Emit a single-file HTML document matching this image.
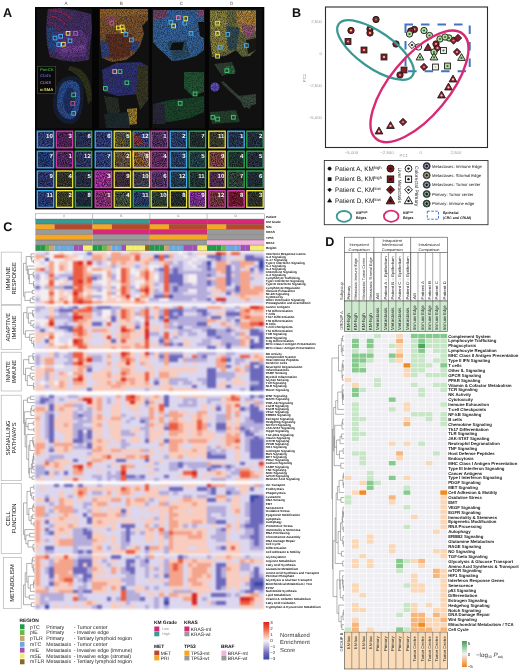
<!DOCTYPE html><html><head><meta charset="utf-8"><style>
*{margin:0;padding:0}
html,body{width:520px;height:671px;overflow:hidden;background:#fff}
body{position:relative}
.hr{position:absolute;left:35.4px;width:228.9px}
#hm{position:absolute;left:0;top:0;width:520px;height:671px;filter:blur(0.8px)}
svg{display:block;font-family:'Liberation Sans',Arial,sans-serif;text-rendering:geometricPrecision}
.big{font-size:12.6px;font-weight:bold;fill:#111}
.hdr{font-size:4.6px;fill:#555;text-anchor:middle}
.legA{font-size:4.2px;font-weight:bold}
.tn{font-size:6px;font-weight:bold;fill:#f4f4f4;text-anchor:end}
.tick{font-size:4.3px;fill:#999}
.legB{font-size:6.4px;fill:#111}
.sup{font-size:4.2px}
.sup2{font-size:2.8px}
.legS{font-size:4.9px;fill:#222}
.legR{font-size:4.2px;fill:#111}
.legT{font-size:3.5px;fill:#111;font-weight:bold}
.tiny{font-size:3.2px}
.alab{font-size:3.1px;fill:#111;font-weight:bold}
.hlab text{font-size:3.05px;fill:#111;font-weight:bold}
.dg{fill:none;stroke:#707070;stroke-width:0.55}
.dg2{fill:none;stroke:#666;stroke-width:0.5}
.box{font-size:5.8px;fill:#111}
.legH{font-size:4.9px;font-weight:bold;fill:#111}
.legC{font-size:5.2px;fill:#1a1a1a}
.legC2{font-size:4.9px;fill:#1a1a1a}
.legL{font-size:3.6px;fill:#888}
.cbl{font-size:4.4px;fill:#222}
.cbt{font-size:5.9px;fill:#333}
.cbt2{font-size:6.2px;fill:#333}
.dh{font-size:3.9px;fill:#222}
.dsub{font-size:3.9px;fill:#222}
.dsub2{font-size:4.1px;fill:#333}
.dga{font-size:4.4px;fill:#222}
.dgb{font-size:4.1px;fill:#222}
.dlab text{font-size:4.3px;font-weight:bold;fill:#1a1a1a}
</style></head><body><svg width="520" height="671" viewBox="0 0 520 671"><defs>
<linearGradient id="gC" x1="0" y1="0" x2="0" y2="1"><stop offset="0" stop-color="#dc2020"/><stop offset=".167" stop-color="#ee5a40"/><stop offset=".333" stop-color="#f4a890"/><stop offset=".5" stop-color="#f6f2f4"/><stop offset=".667" stop-color="#b8b0d8"/><stop offset=".833" stop-color="#6a68b8"/><stop offset="1" stop-color="#3848a8"/></linearGradient>
<linearGradient id="gD" x1="0" y1="0" x2="0" y2="1"><stop offset="0" stop-color="#3aa050"/><stop offset=".5" stop-color="#f2f2f2"/><stop offset="1" stop-color="#f08018"/></linearGradient>
<filter id="tex" x="0" y="0" width="1" height="1"><feTurbulence type="fractalNoise" baseFrequency="1.2" numOctaves="2" seed="4" result="n"/><feColorMatrix in="n" type="matrix" values="0 0 0 0 0  0 0 0 0 0  0 0 0 0 0  0 0 0 -1.3 1.4" result="m"/><feComposite in="SourceGraphic" in2="m" operator="in"/><feGaussianBlur stdDeviation="0.5"/></filter>
<filter id="tex2" x="0" y="0" width="1" height="1"><feTurbulence type="fractalNoise" baseFrequency="1.1" numOctaves="2" seed="9" result="n"/><feColorMatrix in="n" type="matrix" values="0 0 0 0 0  0 0 0 0 0  0 0 0 0 0  0 0 0 -1.5 1.35" result="m"/><feComposite in="SourceGraphic" in2="m" operator="in"/><feGaussianBlur stdDeviation="0.5"/></filter>
</defs><text x="3.1" y="16.9" class="big">A</text>
<text x="66" y="5" class="hdr">A</text>
<text x="121.2" y="5" class="hdr">B</text>
<text x="181.5" y="5" class="hdr">C</text>
<text x="231.6" y="5" class="hdr">D</text>
<rect x="35" y="7" width="229.3" height="202.4" fill="#050505"/>
<rect x="37" y="8.5" width="55" height="120" fill="#111"/>
<rect x="99" y="8.5" width="50" height="120" fill="#111"/>
<rect x="152" y="8.5" width="53" height="120" fill="#111"/>
<rect x="209" y="8.5" width="53" height="120" fill="#111"/>
<g filter="url(#tex)">
<path d="M48 9 L60 8 L75 10 L91 14 L92 30 L90 48 L89 60 L75 62 L60 60 L50 57 L47 45 L46 30 L47 15 Z" fill="#48306e"/>
<path d="M56 32 L82 30 L88 40 L86 56 L62 58 L54 50 Z" fill="#62388c"/>
<path d="M47 28 L55 26 L58 40 L54 52 L48 48 Z" fill="#2c4a8c"/>
<path d="M50 11 Q62 9 72 20" stroke="#b02440" stroke-width="1.6" fill="none"/>
<path d="M49 17 Q58 15 66 25" stroke="#a02a44" stroke-width="1.4" fill="none"/>
<path d="M48 23 Q54 22 60 30" stroke="#902a48" stroke-width="1.2" fill="none"/>
<path d="M60 47 L84 45 L86 50 L62 53 Z" fill="#7a44a0"/>
<path d="M70 66 C84 68 92 78 92 100 L88 104 C86 86 80 74 68 70 Z" fill="#34341c"/>
<path d="M62 79 C70 73 81 75 83 86 C85 100 83 116 75 123 C64 127 53 118 53 104 C53 92 56 84 62 79 Z" fill="#16203c"/>
<path d="M64 82 C72 78 79 81 80 90 C81 102 79 114 73 119 C65 121 57 114 57 104 C57 94 59 86 64 82 Z" fill="#2c52a0"/>
<path d="M67 88 C72 86 75 90 75 98 C75 106 73 112 69 114 C65 113 63 106 63 98 Z" fill="#1e3470"/>
<path d="M100 9 L148 9 L148 20 L142 26 L144 34 L140 46 L134 54 L126 60 L112 62 L102 58 L100 40 Z" fill="#86582e"/>
<path d="M106 34 L132 34 L130 56 L114 60 L106 54 Z" fill="#663222"/>
<path d="M100 40 L108 42 L110 58 L102 58 Z" fill="#34488a"/>
<path d="M132 40 L140 42 L136 52 L130 50 Z" fill="#34488a"/>
<path d="M105 16 L116 16 L116 22 L105 22 Z" fill="#a05070"/>
<path d="M100 9 L148 9 L148 15 L100 17 Z" fill="#9a6a30"/>
<path d="M102 70 L116 63 L140 62 L148 66 L146 84 L138 94 L118 96 L104 92 Z" fill="#30347c"/>
<path d="M138 66 L148 66 L148 100 L140 110 L136 94 Z" fill="#3c3a24"/>
<path d="M104 96 L118 98 L120 112 L108 116 Z" fill="#2a3028"/>
<path d="M127 109 L137 108 L137 124 L127 125 Z" fill="#a8862c"/>
<path d="M104 114 L128 112 L130 128 L106 128 Z" fill="#1e2c30"/>
<path d="M153 10 L204 10 L204 50 L196 56 L182 60 L172 61 L166 55 L158 48 L153 42 Z" fill="#3668a6"/>
<path d="M153 10 L168 10 L166 18 L153 20 Z" fill="#7a4a70"/>
<path d="M197 10 L204 10 L204 16 L198 17 Z" fill="#8a5080"/>
<path d="M166 42 L186 40 L190 56 L174 60 Z" fill="#2a5270"/>
<path d="M172 43 L184 42 L182 50 L170 50 Z" fill="#0c0c0c"/>
<path d="M198 22 L204 22 L204 38 L200 36 Z" fill="#0c0c0c"/>
<path d="M184 72 L204 72 L204 92 L192 96 L184 88 Z" fill="#235a36"/>
<path d="M154 104 L170 100 L190 98 L204 96 L204 112 L190 118 L170 122 L154 122 Z" fill="#1a4a2c"/>
<path d="M153 104 L165 104 L165 124 L153 124 Z" fill="#2a2a40"/>
<path d="M210 10 L256 10 L256 50 L250 56 L242 57 L236 50 L226 56 L212 57 L210 40 Z" fill="#6a7040"/>
<path d="M210 11 L227 11 L229 50 L212 55 Z" fill="#928a40"/>
<path d="M236 11 L256 11 L256 30 L250 36 L238 30 Z" fill="#b8883a"/>
<path d="M242 24 L255 26 L253 38 L243 36 Z" fill="#985a78"/>
<path d="M226 26 L240 28 L236 50 L228 50 Z" fill="#34505a"/>
<path d="M246 40 L256 38 L256 50 L248 54 Z" fill="#1a1a14"/>
<path d="M214 64 L232 62 L236 72 L222 76 Z" fill="#344438"/>
<path d="M226 66 L234 66 L235 74 L228 74 Z" fill="#2e6a40"/>
<path d="M222 82 L250 108" stroke="#3a4a3a" stroke-width="3" fill="none"/>
<path d="M238 96 L256 94 L256 104 L244 108 Z" fill="#3a5040"/>
<path d="M210 112 L236 110 L240 122 L212 124 Z" fill="#24482e"/>
<circle cx="215" cy="87" r="4.5" fill="#6a50d0"/>
</g>
<rect x="53.2" y="36.2" width="3.7" height="3.7" fill="none" stroke="#4aa8e8" stroke-width="1"/>
<rect x="58.8" y="34.4" width="3.7" height="3.7" fill="none" stroke="#4aa8e8" stroke-width="1"/>
<rect x="66.2" y="31.5" width="3.7" height="3.7" fill="none" stroke="#e8e040" stroke-width="1"/>
<rect x="73.7" y="31.5" width="3.7" height="3.7" fill="none" stroke="#c050c0" stroke-width="1"/>
<rect x="56.9" y="42.7" width="3.7" height="3.7" fill="none" stroke="#4aa8e8" stroke-width="1"/>
<rect x="61.5" y="42.4" width="3.7" height="3.7" fill="none" stroke="#e8e040" stroke-width="1"/>
<rect x="68.1" y="39" width="3.7" height="3.7" fill="none" stroke="#4aa8e8" stroke-width="1"/>
<rect x="71.8" y="93" width="3.7" height="3.7" fill="none" stroke="#40c070" stroke-width="1"/>
<rect x="70.9" y="101.5" width="3.7" height="3.7" fill="none" stroke="#c05080" stroke-width="1"/>
<rect x="71.8" y="111.5" width="3.7" height="3.7" fill="none" stroke="#40c070" stroke-width="1"/>
<rect x="110" y="21.3" width="3.7" height="3.7" fill="none" stroke="#c050c0" stroke-width="1"/>
<rect x="116.5" y="26" width="3.7" height="3.7" fill="none" stroke="#e8e040" stroke-width="1"/>
<rect x="120.3" y="25.1" width="3.7" height="3.7" fill="none" stroke="#e8e040" stroke-width="1"/>
<rect x="121.2" y="28.8" width="3.7" height="3.7" fill="none" stroke="#e8e040" stroke-width="1"/>
<rect x="124" y="32.5" width="3.7" height="3.7" fill="none" stroke="#4aa8e8" stroke-width="1"/>
<rect x="129.5" y="38.1" width="3.7" height="3.7" fill="none" stroke="#4aa8e8" stroke-width="1"/>
<rect x="112.8" y="69.7" width="3.7" height="3.7" fill="none" stroke="#e0a0a0" stroke-width="1"/>
<rect x="118.1" y="69.7" width="3.7" height="3.7" fill="none" stroke="#40c070" stroke-width="1"/>
<rect x="125" y="80.9" width="3.7" height="3.7" fill="none" stroke="#40c070" stroke-width="1"/>
<rect x="103.5" y="86.5" width="3.7" height="3.7" fill="none" stroke="#40c070" stroke-width="1"/>
<rect x="183.9" y="16.7" width="3.7" height="3.7" fill="none" stroke="#e8e040" stroke-width="1"/>
<rect x="169" y="20.4" width="3.7" height="3.7" fill="none" stroke="#4aa8e8" stroke-width="1"/>
<rect x="171.8" y="24.1" width="3.7" height="3.7" fill="none" stroke="#e8e040" stroke-width="1"/>
<rect x="183" y="21.3" width="3.7" height="3.7" fill="none" stroke="#4aa8e8" stroke-width="1"/>
<rect x="189.1" y="31.5" width="3.7" height="3.7" fill="none" stroke="#4aa8e8" stroke-width="1"/>
<rect x="176.5" y="15.7" width="3.7" height="3.7" fill="none" stroke="#e080c0" stroke-width="1"/>
<rect x="193.2" y="92.1" width="3.7" height="3.7" fill="none" stroke="#40c070" stroke-width="1"/>
<rect x="178.3" y="101.5" width="3.7" height="3.7" fill="none" stroke="#40c070" stroke-width="1"/>
<rect x="215.7" y="21.3" width="3.7" height="3.7" fill="none" stroke="#e8e040" stroke-width="1"/>
<rect x="215.7" y="31.5" width="3.7" height="3.7" fill="none" stroke="#e8e040" stroke-width="1"/>
<rect x="225.9" y="32.5" width="3.7" height="3.7" fill="none" stroke="#4aa8e8" stroke-width="1"/>
<rect x="218.5" y="45.5" width="3.7" height="3.7" fill="none" stroke="#4aa8e8" stroke-width="1"/>
<rect x="215.7" y="54.3" width="3.7" height="3.7" fill="none" stroke="#e8e040" stroke-width="1"/>
<rect x="244.5" y="43.7" width="3.7" height="3.7" fill="none" stroke="#4aa8e8" stroke-width="1"/>
<rect x="225" y="68.8" width="3.7" height="3.7" fill="none" stroke="#40c070" stroke-width="1"/>
<rect x="211" y="115.4" width="3.7" height="3.7" fill="none" stroke="#40c070" stroke-width="1"/>
<rect x="215.7" y="117.2" width="3.7" height="3.7" fill="none" stroke="#40c070" stroke-width="1"/>
<rect x="231.5" y="115.4" width="3.7" height="3.7" fill="none" stroke="#40c070" stroke-width="1"/>
<rect x="37.5" y="66.4" width="18.2" height="27.2" fill="#0a0a0a" stroke="#3e4c34" stroke-width="0.7"/>
<text x="40" y="70.7" class="legA" fill="#3a9a40">PanCK</text>
<text x="40" y="77.3" class="legA" fill="#5a5ab8">CD45</text>
<text x="40" y="84.2" class="legA" fill="#8a6a98">CD68</text>
<text x="40" y="91.1" class="legA" fill="#dede70">α-SMA</text>
<g filter="url(#tex2)"><rect x="37.8" y="131.7" width="15.4" height="15.6" fill="#3e56a4"/><rect x="56.8" y="131.7" width="15.4" height="15.6" fill="#72317c"/><rect x="75.8" y="131.7" width="15.4" height="15.6" fill="#36447c"/><rect x="95.7" y="131.7" width="15.4" height="15.6" fill="#4150a1"/><rect x="114.7" y="131.7" width="15.4" height="15.6" fill="#727263"/><rect x="133.7" y="131.7" width="15.4" height="15.6" fill="#4459ad"/><rect x="151.7" y="131.7" width="15.4" height="15.6" fill="#724488"/><rect x="170.7" y="131.7" width="15.4" height="15.6" fill="#3a5694"/><rect x="189.7" y="131.7" width="15.4" height="15.6" fill="#2e4141"/><rect x="209.3" y="131.7" width="15.4" height="15.6" fill="#53563e"/><rect x="228.3" y="131.7" width="15.4" height="15.6" fill="#344a6f"/><rect x="247.3" y="131.7" width="15.4" height="15.6" fill="#2e4459"/><rect x="37.8" y="151.7" width="15.4" height="15.6" fill="#3a53a4"/><rect x="56.8" y="151.7" width="15.4" height="15.6" fill="#723788"/><rect x="75.8" y="151.7" width="15.4" height="15.6" fill="#3e4a8b"/><rect x="95.7" y="151.7" width="15.4" height="15.6" fill="#4156ad"/><rect x="114.7" y="151.7" width="15.4" height="15.6" fill="#8b7256"/><rect x="133.7" y="151.7" width="15.4" height="15.6" fill="#bd8b7c"/><rect x="151.7" y="151.7" width="15.4" height="15.6" fill="#8b418b"/><rect x="170.7" y="151.7" width="15.4" height="15.6" fill="#37568b"/><rect x="189.7" y="151.7" width="15.4" height="15.6" fill="#2e5963"/><rect x="209.3" y="151.7" width="15.4" height="15.6" fill="#a45959"/><rect x="228.3" y="151.7" width="15.4" height="15.6" fill="#2e504a"/><rect x="247.3" y="151.7" width="15.4" height="15.6" fill="#344159"/><rect x="37.8" y="171.5" width="15.4" height="15.6" fill="#414a94"/><rect x="56.8" y="171.5" width="15.4" height="15.6" fill="#4a4a3e"/><rect x="75.8" y="171.5" width="15.4" height="15.6" fill="#373e5d"/><rect x="95.7" y="171.5" width="15.4" height="15.6" fill="#d541d5"/><rect x="114.7" y="171.5" width="15.4" height="15.6" fill="#594159"/><rect x="133.7" y="171.5" width="15.4" height="15.6" fill="#59596f"/><rect x="151.7" y="171.5" width="15.4" height="15.6" fill="#72448b"/><rect x="170.7" y="171.5" width="15.4" height="15.6" fill="#345672"/><rect x="189.7" y="171.5" width="15.4" height="15.6" fill="#2e4a4a"/><rect x="209.3" y="171.5" width="15.4" height="15.6" fill="#724172"/><rect x="228.3" y="171.5" width="15.4" height="15.6" fill="#475950"/><rect x="247.3" y="171.5" width="15.4" height="15.6" fill="#2e4150"/><rect x="37.8" y="191.2" width="15.4" height="15.6" fill="#3750a4"/><rect x="56.8" y="191.2" width="15.4" height="15.6" fill="#565637"/><rect x="75.8" y="191.2" width="15.4" height="15.6" fill="#2e3e56"/><rect x="95.7" y="191.2" width="15.4" height="15.6" fill="#bd4a94"/><rect x="114.7" y="191.2" width="15.4" height="15.6" fill="#597259"/><rect x="133.7" y="191.2" width="15.4" height="15.6" fill="#3a5394"/><rect x="151.7" y="191.2" width="15.4" height="15.6" fill="#41594a"/><rect x="170.7" y="191.2" width="15.4" height="15.6" fill="#344141"/><rect x="189.7" y="191.2" width="15.4" height="15.6" fill="#a441d5"/><rect x="209.3" y="191.2" width="15.4" height="15.6" fill="#a44a56"/><rect x="228.3" y="191.2" width="15.4" height="15.6" fill="#d54a63"/><rect x="247.3" y="191.2" width="15.4" height="15.6" fill="#41473e"/><path d="M97 174 C102 171 108 176 110 182 C106 186 100 186 97 181 Z" fill="#e040d0"/><path d="M96 192 C102 194 106 200 110 204 L98 205 Z" fill="#c040b0"/><path d="M192 192 C198 190 203 196 200 202 C196 204 191 200 192 192 Z" fill="#c040e0"/><path d="M229 192 L243 192 L243 206 L229 206 Z" fill="#a02040"/><path d="M132 150 C138 152 144 160 146 166 L133 166 Z" fill="#b8803a"/><path d="M38 152 C44 150 50 156 52 162 L40 166 Z" fill="#2a50a0"/><path d="M114 132 C120 136 126 142 128 146 L116 146 Z" fill="#8a7a30"/><path d="M132 132 C138 134 144 140 146 146 L134 146 Z" fill="#b04050"/></g>
<rect x="37.3" y="131.2" width="16.4" height="16.6" fill="none" stroke="#3eaeec" stroke-width="1.35"/><text x="52.8" y="137.9" class="tn">10</text><rect x="56.3" y="131.2" width="16.4" height="16.6" fill="none" stroke="#d040b0" stroke-width="1.35"/><text x="71.8" y="137.9" class="tn">3</text><rect x="75.3" y="131.2" width="16.4" height="16.6" fill="none" stroke="#2eac52" stroke-width="1.35"/><text x="90.8" y="137.9" class="tn">6</text><rect x="95.2" y="131.2" width="16.4" height="16.6" fill="none" stroke="#3eaeec" stroke-width="1.35"/><text x="110.7" y="137.9" class="tn">6</text><rect x="114.2" y="131.2" width="16.4" height="16.6" fill="none" stroke="#ece43e" stroke-width="1.35"/><text x="129.7" y="137.9" class="tn">5</text><rect x="133.2" y="131.2" width="16.4" height="16.6" fill="none" stroke="#2eac52" stroke-width="1.35"/><text x="148.7" y="137.9" class="tn">12</text><rect x="151.2" y="131.2" width="16.4" height="16.6" fill="none" stroke="#d040b0" stroke-width="1.35"/><text x="166.7" y="137.9" class="tn">1</text><rect x="170.2" y="131.2" width="16.4" height="16.6" fill="none" stroke="#3eaeec" stroke-width="1.35"/><text x="185.7" y="137.9" class="tn">2</text><rect x="189.2" y="131.2" width="16.4" height="16.6" fill="none" stroke="#2eac52" stroke-width="1.35"/><text x="204.7" y="137.9" class="tn">7</text><rect x="208.8" y="131.2" width="16.4" height="16.6" fill="none" stroke="#ece43e" stroke-width="1.35"/><text x="224.3" y="137.9" class="tn">11</text><rect x="227.8" y="131.2" width="16.4" height="16.6" fill="none" stroke="#3eaeec" stroke-width="1.35"/><text x="243.3" y="137.9" class="tn">1</text><rect x="246.8" y="131.2" width="16.4" height="16.6" fill="none" stroke="#2eac52" stroke-width="1.35"/><text x="262.3" y="137.9" class="tn">2</text><rect x="37.3" y="151.2" width="16.4" height="16.6" fill="none" stroke="#3eaeec" stroke-width="1.35"/><text x="52.8" y="157.9" class="tn">7</text><rect x="56.3" y="151.2" width="16.4" height="16.6" fill="none" stroke="#d040b0" stroke-width="1.35"/><text x="71.8" y="157.9" class="tn">1</text><rect x="75.3" y="151.2" width="16.4" height="16.6" fill="none" stroke="#2eac52" stroke-width="1.35"/><text x="90.8" y="157.9" class="tn">12</text><rect x="95.2" y="151.2" width="16.4" height="16.6" fill="none" stroke="#3eaeec" stroke-width="1.35"/><text x="110.7" y="157.9" class="tn">7</text><rect x="114.2" y="151.2" width="16.4" height="16.6" fill="none" stroke="#ece43e" stroke-width="1.35"/><text x="129.7" y="157.9" class="tn">2</text><rect x="133.2" y="151.2" width="16.4" height="16.6" fill="none" stroke="#ece43e" stroke-width="1.35"/><text x="148.7" y="157.9" class="tn">8</text><rect x="151.2" y="151.2" width="16.4" height="16.6" fill="none" stroke="#d040b0" stroke-width="1.35"/><text x="166.7" y="157.9" class="tn">4</text><rect x="170.2" y="151.2" width="16.4" height="16.6" fill="none" stroke="#3eaeec" stroke-width="1.35"/><text x="185.7" y="157.9" class="tn">3</text><rect x="189.2" y="151.2" width="16.4" height="16.6" fill="none" stroke="#2eac52" stroke-width="1.35"/><text x="204.7" y="157.9" class="tn">5</text><rect x="208.8" y="151.2" width="16.4" height="16.6" fill="none" stroke="#ece43e" stroke-width="1.35"/><text x="224.3" y="157.9" class="tn">9</text><rect x="227.8" y="151.2" width="16.4" height="16.6" fill="none" stroke="#2eac52" stroke-width="1.35"/><text x="243.3" y="157.9" class="tn">4</text><rect x="246.8" y="151.2" width="16.4" height="16.6" fill="none" stroke="#2eac52" stroke-width="1.35"/><text x="262.3" y="157.9" class="tn">5</text><rect x="37.3" y="171" width="16.4" height="16.6" fill="none" stroke="#3eaeec" stroke-width="1.35"/><text x="52.8" y="177.7" class="tn">9</text><rect x="56.3" y="171" width="16.4" height="16.6" fill="none" stroke="#ece43e" stroke-width="1.35"/><text x="71.8" y="177.7" class="tn">4</text><rect x="75.3" y="171" width="16.4" height="16.6" fill="none" stroke="#2eac52" stroke-width="1.35"/><text x="90.8" y="177.7" class="tn">5</text><rect x="95.2" y="171" width="16.4" height="16.6" fill="none" stroke="#d040b0" stroke-width="1.35"/><text x="110.7" y="177.7" class="tn">3</text><rect x="114.2" y="171" width="16.4" height="16.6" fill="none" stroke="#ece43e" stroke-width="1.35"/><text x="129.7" y="177.7" class="tn">9</text><rect x="133.2" y="171" width="16.4" height="16.6" fill="none" stroke="#ece43e" stroke-width="1.35"/><text x="148.7" y="177.7" class="tn">10</text><rect x="151.2" y="171" width="16.4" height="16.6" fill="none" stroke="#d040b0" stroke-width="1.35"/><text x="166.7" y="177.7" class="tn">6</text><rect x="170.2" y="171" width="16.4" height="16.6" fill="none" stroke="#3eaeec" stroke-width="1.35"/><text x="185.7" y="177.7" class="tn">12</text><rect x="189.2" y="171" width="16.4" height="16.6" fill="none" stroke="#2eac52" stroke-width="1.35"/><text x="204.7" y="177.7" class="tn">11</text><rect x="208.8" y="171" width="16.4" height="16.6" fill="none" stroke="#ece43e" stroke-width="1.35"/><text x="224.3" y="177.7" class="tn">10</text><rect x="227.8" y="171" width="16.4" height="16.6" fill="none" stroke="#2eac52" stroke-width="1.35"/><text x="243.3" y="177.7" class="tn">7</text><rect x="246.8" y="171" width="16.4" height="16.6" fill="none" stroke="#2eac52" stroke-width="1.35"/><text x="262.3" y="177.7" class="tn">6</text><rect x="37.3" y="190.7" width="16.4" height="16.6" fill="none" stroke="#3eaeec" stroke-width="1.35"/><text x="52.8" y="197.4" class="tn">11</text><rect x="56.3" y="190.7" width="16.4" height="16.6" fill="none" stroke="#ece43e" stroke-width="1.35"/><text x="71.8" y="197.4" class="tn">2</text><rect x="75.3" y="190.7" width="16.4" height="16.6" fill="none" stroke="#2eac52" stroke-width="1.35"/><text x="90.8" y="197.4" class="tn">8</text><rect x="95.2" y="190.7" width="16.4" height="16.6" fill="none" stroke="#d040b0" stroke-width="1.35"/><text x="110.7" y="197.4" class="tn">1</text><rect x="114.2" y="190.7" width="16.4" height="16.6" fill="none" stroke="#ece43e" stroke-width="1.35"/><text x="129.7" y="197.4" class="tn">4</text><rect x="133.2" y="190.7" width="16.4" height="16.6" fill="none" stroke="#2eac52" stroke-width="1.35"/><text x="148.7" y="197.4" class="tn">11</text><rect x="151.2" y="190.7" width="16.4" height="16.6" fill="none" stroke="#ece43e" stroke-width="1.35"/><text x="166.7" y="197.4" class="tn">10</text><rect x="170.2" y="190.7" width="16.4" height="16.6" fill="none" stroke="#ece43e" stroke-width="1.35"/><text x="185.7" y="197.4" class="tn">8</text><rect x="189.2" y="190.7" width="16.4" height="16.6" fill="none" stroke="#ece43e" stroke-width="1.35"/><text x="204.7" y="197.4" class="tn">9</text><rect x="208.8" y="190.7" width="16.4" height="16.6" fill="none" stroke="#d040b0" stroke-width="1.35"/><text x="224.3" y="197.4" class="tn">12</text><rect x="227.8" y="190.7" width="16.4" height="16.6" fill="none" stroke="#d040b0" stroke-width="1.35"/><text x="243.3" y="197.4" class="tn">8</text><rect x="246.8" y="190.7" width="16.4" height="16.6" fill="none" stroke="#ece43e" stroke-width="1.35"/><text x="262.3" y="197.4" class="tn">3</text>
<text x="292" y="17.2" class="big">B</text>
<rect x="325.5" y="7" width="162" height="140.5" fill="none" stroke="#2a2a2a" stroke-width="1.1"/>
<text x="322" y="23.3" class="tick" text-anchor="end">2,500</text>
<text x="322" y="55.3" class="tick" text-anchor="end">0</text>
<text x="322" y="87.3" class="tick" text-anchor="end">−2,500</text>
<text x="322" y="118.8" class="tick" text-anchor="end">−5,000</text>
<text x="351.5" y="153.6" class="tick" text-anchor="middle">−5,000</text>
<text x="387" y="153.6" class="tick" text-anchor="middle">−2,500</text>
<text x="420.8" y="153.6" class="tick" text-anchor="middle">0</text>
<text x="456" y="153.6" class="tick" text-anchor="middle">2,500</text>
<text x="403.8" y="157.2" class="tick" text-anchor="middle">PC1</text>
<text transform="translate(305.5 78) rotate(-90)" class="tick" text-anchor="middle">PC2</text>
<rect x="405.5" y="24.6" width="64.2" height="46.7" fill="none" stroke="#4472c4" stroke-width="2" stroke-dasharray="8.5 8" stroke-dashoffset="1"/>
<circle cx="376" cy="19.5" r="3.17" fill="#8a1c28" stroke="#1a1a1a" stroke-width="0.9"/><circle cx="376" cy="19.5" r="1.1" fill="#4a9a4a"/>
<circle cx="351" cy="30.5" r="3.17" fill="#8a1c28" stroke="#1a1a1a" stroke-width="0.9"/><circle cx="351" cy="30.5" r="1.1" fill="#f0e080"/>
<circle cx="370" cy="29" r="3.17" fill="#8a1c28" stroke="#1a1a1a" stroke-width="0.9"/><circle cx="370" cy="29" r="1.1" fill="#f0d080"/>
<circle cx="370" cy="33" r="3.17" fill="#8a1c28" stroke="#1a1a1a" stroke-width="0.9"/><circle cx="370" cy="33" r="1.1" fill="#f0d080"/>
<rect x="345.07" y="38.57" width="5.86" height="5.86" fill="#8a1c28" stroke="#1a1a1a" stroke-width="0.9"/><circle cx="348" cy="41.5" r="1.1" fill="#c8a0a0"/>
<rect x="361.07" y="47.07" width="5.86" height="5.86" fill="#8a1c28" stroke="#1a1a1a" stroke-width="0.9"/><circle cx="364" cy="50" r="1.1" fill="#f0d080"/>
<rect x="381.07" y="54.07" width="5.86" height="5.86" fill="#8a1c28" stroke="#1a1a1a" stroke-width="0.9"/><circle cx="384" cy="57" r="1.1" fill="#f0e0a0"/>
<circle cx="396" cy="44" r="3.17" fill="#8a1c28" stroke="#1a1a1a" stroke-width="0.9"/>
<circle cx="400" cy="75" r="3.17" fill="#8a1c28" stroke="#1a1a1a" stroke-width="0.9"/><circle cx="400" cy="75" r="1.1" fill="#d08080"/>
<rect x="401.07" y="67.07" width="5.86" height="5.86" fill="#8a1c28" stroke="#1a1a1a" stroke-width="0.9"/>
<circle cx="414.4" cy="29.4" r="3.17" fill="#8a1c28" stroke="#1a1a1a" stroke-width="0.9"/><circle cx="414.4" cy="29.4" r="1.1" fill="#e0a0a0"/>
<circle cx="410.8" cy="31" r="3.17" fill="#8a1c28" stroke="#1a1a1a" stroke-width="0.9"/>
<circle cx="409.5" cy="34" r="3.17" fill="#b8dca0" stroke="#1a1a1a" stroke-width="0.9"/><circle cx="409.5" cy="34" r="1.1" fill="#2a6e3c"/>
<circle cx="424" cy="30.5" r="3.17" fill="#b8dca0" stroke="#1a1a1a" stroke-width="0.9"/><circle cx="424" cy="30.5" r="1.1" fill="#2a6e3c"/>
<circle cx="429.5" cy="35.5" r="3.17" fill="#b8dca0" stroke="#1a1a1a" stroke-width="0.9"/><circle cx="429.5" cy="35.5" r="1.1" fill="#2a6e3c"/>
<path d="M412 41.34L415.66 45L412 48.66L408.34 45Z" fill="#f4f4f0" stroke="#1a1a1a" stroke-width="0.9"/><circle cx="412" cy="45" r="1.1" fill="#101010"/>
<circle cx="418.5" cy="47" r="3.17" fill="#f4f4f0" stroke="#1a1a1a" stroke-width="0.9"/>
<path d="M428 43.6L431.9 50.43L424.1 50.43Z" fill="#8a1c28" stroke="#1a1a1a" stroke-width="0.9"/>
<circle cx="436" cy="44" r="3.17" fill="#8a1c28" stroke="#1a1a1a" stroke-width="0.9"/><circle cx="436" cy="44" r="1.1" fill="#e0b0b0"/>
<circle cx="440" cy="39" r="3.17" fill="#b8dca0" stroke="#1a1a1a" stroke-width="0.9"/><circle cx="440" cy="39" r="1.1" fill="#2a6e3c"/>
<circle cx="449" cy="38" r="3.17" fill="#b8dca0" stroke="#1a1a1a" stroke-width="0.9"/><circle cx="449" cy="38" r="1.1" fill="#2a6e3c"/>
<path d="M453.5 36.84L457.16 40.5L453.5 44.16L449.84 40.5Z" fill="#8a1c28" stroke="#1a1a1a" stroke-width="0.9"/><circle cx="453.5" cy="40.5" r="1.1" fill="#e08080"/>
<circle cx="434" cy="52" r="3.17" fill="#b8dca0" stroke="#1a1a1a" stroke-width="0.9"/><circle cx="434" cy="52" r="1.1" fill="#2a6e3c"/>
<path d="M437.5 44.34L441.16 48L437.5 51.66L433.84 48Z" fill="#8a1c28" stroke="#1a1a1a" stroke-width="0.9"/><circle cx="437.5" cy="48" r="1.1" fill="#e0b0b0"/>
<rect x="440.57" y="47.57" width="5.86" height="5.86" fill="#f4f4f0" stroke="#1a1a1a" stroke-width="0.9"/><circle cx="443.5" cy="50.5" r="1.1" fill="#2a6e3c"/>
<path d="M457 48.34L460.66 52L457 55.66L453.34 52Z" fill="#8a1c28" stroke="#1a1a1a" stroke-width="0.9"/><circle cx="457" cy="52" r="1.1" fill="#e0a0a0"/>
<path d="M420 53.1L423.9 59.93L416.1 59.93Z" fill="#b8dca0" stroke="#1a1a1a" stroke-width="0.9"/><circle cx="420" cy="57.4" r="1.1" fill="#2a6e3c"/>
<path d="M434 53.1L437.9 59.93L430.1 59.93Z" fill="#b8dca0" stroke="#1a1a1a" stroke-width="0.9"/><circle cx="434" cy="57.4" r="1.1" fill="#2a6e3c"/>
<path d="M461.5 53.6L465.4 60.43L457.6 60.43Z" fill="#b8dca0" stroke="#1a1a1a" stroke-width="0.9"/><circle cx="461.5" cy="57.9" r="1.1" fill="#2a6e3c"/>
<path d="M424 63.34L427.66 67L424 70.66L420.34 67Z" fill="#8a1c28" stroke="#1a1a1a" stroke-width="0.9"/><circle cx="424" cy="67" r="1.1" fill="#e08080"/>
<rect x="432.57" y="64.07" width="5.86" height="5.86" fill="#f4f4f0" stroke="#1a1a1a" stroke-width="0.9"/><circle cx="435.5" cy="67" r="1.1" fill="#d8c8a0"/>
<rect x="444.57" y="63.07" width="5.86" height="5.86" fill="#b8dca0" stroke="#1a1a1a" stroke-width="0.9"/><circle cx="447.5" cy="66" r="1.1" fill="#2a6e3c"/>
<circle cx="445" cy="37" r="3.17" fill="#b8dca0" stroke="#1a1a1a" stroke-width="0.9"/><circle cx="445" cy="37" r="1.1" fill="#2a6e3c"/>
<path d="M458 34.34L461.66 38L458 41.66L454.34 38Z" fill="#8a1c28" stroke="#1a1a1a" stroke-width="0.9"/>
<path d="M453 75.1L456.9 81.93L449.1 81.93Z" fill="#8a1c28" stroke="#1a1a1a" stroke-width="0.9"/><circle cx="453" cy="79.4" r="1.1" fill="#f0d0b0"/>
<path d="M448.5 83.1L452.4 89.93L444.6 89.93Z" fill="#8a1c28" stroke="#1a1a1a" stroke-width="0.9"/><circle cx="448.5" cy="87.4" r="1.1" fill="#f0d0b0"/>
<path d="M441.5 91.1L445.4 97.93L437.6 97.93Z" fill="#8a1c28" stroke="#1a1a1a" stroke-width="0.9"/><circle cx="441.5" cy="95.4" r="1.1" fill="#f0d0b0"/>
<path d="M390.5 121.6L394.4 128.43L386.6 128.43Z" fill="#8a1c28" stroke="#1a1a1a" stroke-width="0.9"/><circle cx="390.5" cy="125.9" r="1.1" fill="#f0d0b0"/>
<path d="M379 127.1L382.9 133.93L375.1 133.93Z" fill="#8a1c28" stroke="#1a1a1a" stroke-width="0.9"/><circle cx="379" cy="131.4" r="1.1" fill="#f0d0b0"/>
<path d="M403 118.34L406.66 122L403 125.66L399.34 122Z" fill="#8a1c28" stroke="#1a1a1a" stroke-width="0.9"/><circle cx="403" cy="122" r="1.1" fill="#e08080"/>
<ellipse cx="375.5" cy="50" rx="45" ry="18" transform="rotate(35 375.5 50)" fill="none" stroke="#3a9a92" stroke-width="2.2"/>
<ellipse cx="419.5" cy="86.4" rx="68" ry="29.5" transform="rotate(-50.4 419.5 86.4)" fill="none" stroke="#d82a72" stroke-width="2.4"/>
<rect x="324.3" y="160.5" width="163.7" height="64.2" fill="none" stroke="#333" stroke-width="0.9"/>
<circle cx="329.6" cy="168.6" r="1.61" fill="#111" stroke="#111" stroke-width="0.7"/>
<text x="335" y="170.6" class="legB">Patient A, KM<tspan class="sup" dy="-2">high</tspan></text>
<circle cx="390.5" cy="168.6" r="3.51" fill="#7a1a1e" stroke="#111" stroke-width="0.9"/><circle cx="390.5" cy="168.6" r="1.22" fill="#2a0a0a"/>
<circle cx="408.5" cy="168.6" r="3.38" fill="#f8f8f8" stroke="#111" stroke-width="0.9"/><circle cx="408.5" cy="168.6" r="1.17" fill="#111"/>
<rect x="328.11" y="177.71" width="2.98" height="2.98" fill="#111" stroke="#111" stroke-width="0.7"/>
<text x="335" y="181.2" class="legB">Patient B, KM<tspan class="sup" dy="-2">high</tspan></text>
<rect x="387.26" y="175.96" width="6.48" height="6.48" fill="#7a1a1e" stroke="#111" stroke-width="0.9"/><circle cx="390.5" cy="179.2" r="1.22" fill="#2a0a0a"/>
<rect x="405.38" y="176.08" width="6.24" height="6.24" fill="#f8f8f8" stroke="#111" stroke-width="0.9"/><circle cx="408.5" cy="179.2" r="1.17" fill="#111"/>
<path d="M329.6 187.94L331.46 189.8L329.6 191.66L327.74 189.8Z" fill="#111" stroke="#111" stroke-width="0.7"/>
<text x="335" y="191.8" class="legB">Patient C, KM<tspan class="sup" dy="-2">low</tspan></text>
<path d="M390.5 185.75L394.55 189.8L390.5 193.85L386.45 189.8Z" fill="#7a1a1e" stroke="#111" stroke-width="0.9"/><circle cx="390.5" cy="189.8" r="1.22" fill="#2a0a0a"/>
<path d="M408.5 185.9L412.4 189.8L408.5 193.7L404.6 189.8Z" fill="#f8f8f8" stroke="#111" stroke-width="0.9"/><circle cx="408.5" cy="189.8" r="1.17" fill="#111"/>
<path d="M329.6 198.62L331.58 202.09L327.62 202.09Z" fill="#111" stroke="#111" stroke-width="0.7"/>
<text x="335" y="202.6" class="legB">Patient D, KM<tspan class="sup" dy="-2">low</tspan></text>
<path d="M390.5 196.28L394.82 203.84L386.18 203.84Z" fill="#7a1a1e" stroke="#111" stroke-width="0.9"/><circle cx="390.5" cy="201" r="1.22" fill="#2a0a0a"/>
<path d="M408.5 196.44L412.66 203.72L404.34 203.72Z" fill="#f8f8f8" stroke="#111" stroke-width="0.9"/><circle cx="408.5" cy="201" r="1.17" fill="#111"/>
<text transform="translate(398 167.5) rotate(90)" class="legS" fill="#3a2020">Liver Metastasis</text>
<text transform="translate(415.2 166) rotate(90)" class="legS">Colorectal Primary</text>
<circle cx="426.7" cy="166.1" r="3.5" fill="#3a3c58" stroke="#222" stroke-width="0.7"/>
<circle cx="426.7" cy="166.1" r="1.9" fill="none" stroke="#e8e8e8" stroke-width="0.6"/>
<circle cx="426.7" cy="166.1" r="0.9" fill="#111"/>
<text x="432" y="167.6" class="legR">Metastases: Immune Edge</text>
<circle cx="426.7" cy="175.3" r="3.5" fill="#5a5838" stroke="#222" stroke-width="0.7"/>
<circle cx="426.7" cy="175.3" r="1.9" fill="none" stroke="#e8e8e8" stroke-width="0.6"/>
<circle cx="426.7" cy="175.3" r="0.9" fill="#111"/>
<text x="432" y="176.8" class="legR">Metastases: Stromal Edge</text>
<circle cx="426.7" cy="184.8" r="3.5" fill="#3a4858" stroke="#222" stroke-width="0.7"/>
<circle cx="426.7" cy="184.8" r="1.9" fill="none" stroke="#e8e8e8" stroke-width="0.6"/>
<circle cx="426.7" cy="184.8" r="0.9" fill="#111"/>
<text x="432" y="186.3" class="legR">Metastases: Tumor center</text>
<circle cx="426.7" cy="194" r="3.5" fill="#2e4e3a" stroke="#222" stroke-width="0.7"/>
<circle cx="426.7" cy="194" r="1.9" fill="none" stroke="#e8e8e8" stroke-width="0.6"/>
<circle cx="426.7" cy="194" r="0.9" fill="#111"/>
<text x="432" y="195.5" class="legR">Primary: Tumor center</text>
<circle cx="426.7" cy="203.6" r="3.5" fill="#2e4e3a" stroke="#222" stroke-width="0.7"/>
<circle cx="426.7" cy="203.6" r="1.9" fill="none" stroke="#e8e8e8" stroke-width="0.6"/>
<circle cx="426.7" cy="203.6" r="0.9" fill="#111"/>
<text x="432" y="205.1" class="legR">Primary: Immune edge</text>
<ellipse cx="344" cy="216.4" rx="7.3" ry="5.4" fill="none" stroke="#3a9a92" stroke-width="1.8"/>
<text x="356" y="213.6" class="legT">KM<tspan class="sup2" dy="-1">high</tspan></text><text x="356" y="218.6" class="legT">Edges</text>
<ellipse cx="391.2" cy="216.2" rx="7.3" ry="5.6" fill="none" stroke="#d82a72" stroke-width="1.8"/>
<text x="403" y="213.6" class="legT">KM<tspan class="sup2" dy="-1">low</tspan></text><text x="403" y="218.6" class="legT">Edges</text>
<rect x="427.3" y="211.2" width="11.2" height="8" fill="none" stroke="#4472c4" stroke-width="1" stroke-dasharray="2.5 1.5"/>
<text x="443" y="214" class="legT">Epithelial</text><text x="443" y="219" class="legT">(CRC and CRLM)</text>
<text x="3.3" y="230.6" class="big">C</text>
<rect x="35.4" y="213.8" width="228.9" height="5.4" fill="#fff" stroke="#888" stroke-width="0.5"/>
<text x="64.01" y="217.4" class="tiny" text-anchor="middle" fill="#777">A</text>
<text x="121.24" y="217.4" class="tiny" text-anchor="middle" fill="#777">B</text>
<line x1="92.62" x2="92.62" y1="213.8" y2="219.2" stroke="#888" stroke-width="0.5"/>
<text x="178.46" y="217.4" class="tiny" text-anchor="middle" fill="#777">C</text>
<line x1="149.85" x2="149.85" y1="213.8" y2="219.2" stroke="#888" stroke-width="0.5"/>
<text x="235.69" y="217.4" class="tiny" text-anchor="middle" fill="#777">D</text>
<line x1="207.07" x2="207.07" y1="213.8" y2="219.2" stroke="#888" stroke-width="0.5"/>
<rect x="35.4" y="219.2" width="57.23" height="5" fill="#3a9a94"/>
<rect x="35.4" y="224.2" width="19.07" height="5.3" fill="#f5a623"/>
<rect x="54.47" y="224.2" width="38.15" height="5.3" fill="#b8482c"/>
<rect x="35.4" y="229.5" width="57.23" height="5.1" fill="#9a9a9a"/>
<rect x="35.4" y="234.6" width="57.23" height="5.4" fill="#f5a623"/>
<rect x="35.4" y="240.0" width="57.23" height="5.2" fill="#9a9a9a"/>
<rect x="92.62" y="219.2" width="57.22" height="5" fill="#3a9a94"/>
<rect x="92.62" y="224.2" width="19.07" height="5.3" fill="#f5a623"/>
<rect x="111.7" y="224.2" width="38.15" height="5.3" fill="#b8482c"/>
<rect x="92.62" y="229.5" width="57.22" height="5.1" fill="#d8287a"/>
<rect x="92.62" y="234.6" width="57.22" height="5.4" fill="#9a9a9a"/>
<rect x="92.62" y="240.0" width="57.22" height="5.2" fill="#9a9a9a"/>
<rect x="149.85" y="219.2" width="57.22" height="5" fill="#d8287a"/>
<rect x="149.85" y="224.2" width="19.07" height="5.3" fill="#f5a623"/>
<rect x="168.92" y="224.2" width="38.15" height="5.3" fill="#b8482c"/>
<rect x="149.85" y="229.5" width="57.22" height="5.1" fill="#d8287a"/>
<rect x="149.85" y="234.6" width="57.22" height="5.4" fill="#f5a623"/>
<rect x="149.85" y="240.0" width="57.22" height="5.2" fill="#9a9a9a"/>
<rect x="207.07" y="219.2" width="57.22" height="5" fill="#d8287a"/>
<rect x="207.07" y="224.2" width="19.07" height="5.3" fill="#f5a623"/>
<rect x="226.15" y="224.2" width="38.15" height="5.3" fill="#b8482c"/>
<rect x="207.07" y="229.5" width="57.22" height="5.1" fill="#9a9a9a"/>
<rect x="207.07" y="234.6" width="57.22" height="5.4" fill="#9a9a9a"/>
<rect x="207.07" y="240.0" width="57.22" height="5.2" fill="#f4b4dc"/>
<rect x="35.4" y="245.2" width="4.82" height="5.6" fill="#1e9a48"/>
<rect x="40.17" y="245.2" width="4.82" height="5.6" fill="#1e9a48"/>
<rect x="44.94" y="245.2" width="4.82" height="5.6" fill="#6ab84a"/>
<rect x="49.71" y="245.2" width="4.82" height="5.6" fill="#c8a470"/>
<rect x="54.47" y="245.2" width="4.82" height="5.6" fill="#6aa8e0"/>
<rect x="59.24" y="245.2" width="4.82" height="5.6" fill="#6aa8e0"/>
<rect x="64.01" y="245.2" width="4.82" height="5.6" fill="#6aa8e0"/>
<rect x="68.78" y="245.2" width="4.82" height="5.6" fill="#6aa8e0"/>
<rect x="73.55" y="245.2" width="4.82" height="5.6" fill="#a050b8"/>
<rect x="78.32" y="245.2" width="4.82" height="5.6" fill="#a050b8"/>
<rect x="83.09" y="245.2" width="4.82" height="5.6" fill="#f2ee6a"/>
<rect x="87.86" y="245.2" width="4.82" height="5.6" fill="#f2ee6a"/>
<rect x="92.62" y="245.2" width="4.82" height="5.6" fill="#1e9a48"/>
<rect x="97.39" y="245.2" width="4.82" height="5.6" fill="#1e9a48"/>
<rect x="102.16" y="245.2" width="4.82" height="5.6" fill="#6ab84a"/>
<rect x="106.93" y="245.2" width="4.82" height="5.6" fill="#c8a470"/>
<rect x="111.7" y="245.2" width="4.82" height="5.6" fill="#6aa8e0"/>
<rect x="116.47" y="245.2" width="4.82" height="5.6" fill="#6aa8e0"/>
<rect x="121.24" y="245.2" width="4.82" height="5.6" fill="#a050b8"/>
<rect x="126.01" y="245.2" width="4.82" height="5.6" fill="#f2ee6a"/>
<rect x="130.78" y="245.2" width="4.82" height="5.6" fill="#f2ee6a"/>
<rect x="135.54" y="245.2" width="4.82" height="5.6" fill="#f2ee6a"/>
<rect x="140.31" y="245.2" width="4.82" height="5.6" fill="#f2ee6a"/>
<rect x="145.08" y="245.2" width="4.82" height="5.6" fill="#8a6428"/>
<rect x="149.85" y="245.2" width="4.82" height="5.6" fill="#1e9a48"/>
<rect x="154.62" y="245.2" width="4.82" height="5.6" fill="#1e9a48"/>
<rect x="159.39" y="245.2" width="4.82" height="5.6" fill="#1e9a48"/>
<rect x="164.16" y="245.2" width="4.82" height="5.6" fill="#c8a470"/>
<rect x="168.92" y="245.2" width="4.82" height="5.6" fill="#6aa8e0"/>
<rect x="173.69" y="245.2" width="4.82" height="5.6" fill="#6aa8e0"/>
<rect x="178.46" y="245.2" width="4.82" height="5.6" fill="#6aa8e0"/>
<rect x="183.23" y="245.2" width="4.82" height="5.6" fill="#a050b8"/>
<rect x="188" y="245.2" width="4.82" height="5.6" fill="#a050b8"/>
<rect x="192.77" y="245.2" width="4.82" height="5.6" fill="#a050b8"/>
<rect x="197.54" y="245.2" width="4.82" height="5.6" fill="#f2ee6a"/>
<rect x="202.31" y="245.2" width="4.82" height="5.6" fill="#f2ee6a"/>
<rect x="207.07" y="245.2" width="4.82" height="5.6" fill="#1e9a48"/>
<rect x="211.84" y="245.2" width="4.82" height="5.6" fill="#1e9a48"/>
<rect x="216.61" y="245.2" width="4.82" height="5.6" fill="#1e9a48"/>
<rect x="221.38" y="245.2" width="4.82" height="5.6" fill="#6ab84a"/>
<rect x="226.15" y="245.2" width="4.82" height="5.6" fill="#6aa8e0"/>
<rect x="230.92" y="245.2" width="4.82" height="5.6" fill="#6aa8e0"/>
<rect x="235.69" y="245.2" width="4.82" height="5.6" fill="#6aa8e0"/>
<rect x="240.46" y="245.2" width="4.82" height="5.6" fill="#a050b8"/>
<rect x="245.22" y="245.2" width="4.82" height="5.6" fill="#a050b8"/>
<rect x="249.99" y="245.2" width="4.82" height="5.6" fill="#f2ee6a"/>
<rect x="254.76" y="245.2" width="4.82" height="5.6" fill="#f2ee6a"/>
<rect x="259.53" y="245.2" width="4.82" height="5.6" fill="#f2ee6a"/>
<line x1="35.4" x2="264.3" y1="219.2" y2="219.2" stroke="#3a3a3a" stroke-width="0.45" opacity="0.7"/>
<line x1="35.4" x2="264.3" y1="224.2" y2="224.2" stroke="#3a3a3a" stroke-width="0.45" opacity="0.7"/>
<line x1="35.4" x2="264.3" y1="229.5" y2="229.5" stroke="#3a3a3a" stroke-width="0.45" opacity="0.7"/>
<line x1="35.4" x2="264.3" y1="234.6" y2="234.6" stroke="#3a3a3a" stroke-width="0.45" opacity="0.7"/>
<line x1="35.4" x2="264.3" y1="240.0" y2="240.0" stroke="#3a3a3a" stroke-width="0.45" opacity="0.7"/>
<line x1="35.4" x2="264.3" y1="245.2" y2="245.2" stroke="#3a3a3a" stroke-width="0.45" opacity="0.7"/>
<line x1="35.4" x2="264.3" y1="250.8" y2="250.8" stroke="#3a3a3a" stroke-width="0.45" opacity="0.7"/>
<text x="266" y="217.7" class="alab">Patient</text>
<text x="266" y="223.1" class="alab">KM Grade</text>
<text x="266" y="228.1" class="alab">Site</text>
<text x="266" y="233.4" class="alab">KRAS</text>
<text x="266" y="238.5" class="alab">TP53</text>
<text x="266" y="243.9" class="alab">BRAF</text>
<text x="266" y="249.1" class="alab">Region</text>
<path d="M34.6 275.24H33.98V278.3H34.6M34.6 284.42H33.89V287.48H34.6M34.6 281.36H33.49V285.95H33.89M34.6 259.95H33.5V263.01H34.6M34.6 272.18H33.19V276.77H33.98M34.6 296.65H32.79V299.71H34.6M34.6 290.54H32.3V293.59H34.6M34.6 256.89H31.71V261.48H33.5M34.6 253.83H31.04V259.18H31.71M32.79 298.18H30.27V302.77H34.6M33.19 274.48H29.4V283.65H33.49M34.6 269.12H28.42V279.06H29.4M34.6 266.06H27.35V274.09H28.42M31.04 256.51H26.17V270.08H27.35M32.3 292.06H24.89V300.48H30.27M26.17 263.29H23.5V296.27H24.89" class="dg"/>
<path d="M34.6 344.25H33.96V347.62H34.6M34.6 340.88H33.56V345.93H33.96M34.6 313.92H33.5V317.29H34.6M34.6 324.03H33.06V327.4H34.6M34.6 310.55H32.47V315.61H33.5M34.6 337.51H31.71V343.4H33.56M34.6 320.66H30.79V325.72H33.06M34.6 334.14H29.7V340.46H31.71M32.47 313.08H28.42V323.19H30.79M34.6 307.18H26.97V318.13H28.42M34.6 330.77H25.33V337.3H29.7M26.97 312.66H23.5V334.03H25.33" class="dg"/>
<path d="M34.6 386.29H33.95V389.56H34.6M34.6 383.01H33.55V387.92H33.95M34.6 356.81H33.4V360.09H34.6M34.6 353.54H32.87V358.45H33.4M34.6 376.46H32.15V379.74H34.6M34.6 366.64H31.23V369.91H34.6M34.6 373.19H30.12V378.1H32.15M32.87 355.99H28.79V363.36H34.6M30.12 375.64H27.25V385.47H33.55M31.23 368.27H25.49V380.56H27.25M28.79 359.68H23.5V374.42H25.49" class="dg"/>
<path d="M34.6 408.98H33.99V412.18H34.6M34.6 444.14H33.96V447.34H34.6M34.6 456.93H33.91V460.12H34.6M34.6 428.16H33.83V431.36H34.6M34.6 453.73H33.51V458.53H33.91M33.51 456.13H33.11V463.32H34.6M34.6 440.95H33.41V445.74H33.96M34.6 421.77H33.21V424.96H34.6M34.6 466.52H32.98V469.71H34.6M34.6 437.75H32.72V443.34H33.41M33.11 459.72H32.42V468.11H32.98M34.6 476.11H32.08V479.3H34.6M34.6 405.79H31.71V410.58H33.99M32.42 463.92H31.31V472.91H34.6M31.71 408.18H30.87V415.38H34.6M34.6 396.2H30.39V399.39H34.6M32.72 440.55H29.88V450.54H34.6M31.31 468.41H29.32V477.7H32.08M29.88 445.54H28.73V473.06H29.32M33.21 423.37H28.1V429.76H33.83M30.39 397.8H27.44V402.59H34.6M34.6 434.55H26.73V459.3H28.73M34.6 418.57H25.98V426.56H28.1M25.98 422.57H25.2V446.93H26.73M30.87 411.78H24.37V434.75H25.2M27.44 400.19H23.5V423.26H24.37" class="dg"/>
<path d="M34.6 522.23H33.98V525.91H34.6M34.6 547.98H33.92V551.66H34.6M34.6 485.44H33.8V489.12H34.6M34.6 503.83H33.62V507.51H34.6M34.6 496.48H33.37V500.16H34.6M34.6 544.3H33.06V549.82H33.92M33.62 505.67H32.69V511.19H34.6M34.6 514.87H32.24V518.55H34.6M34.6 492.8H31.71V498.32H33.37M32.24 516.71H31.12V524.07H33.98M33.8 487.28H30.45V495.56H31.71M34.6 533.27H29.7V536.94H34.6M32.69 508.43H28.87V520.39H31.12M34.6 540.62H27.96V547.06H33.06M30.45 491.42H26.97V514.41H28.87M29.7 535.11H25.9V543.84H27.96M34.6 529.59H24.74V539.47H25.9M26.97 502.91H23.5V534.53H24.74" class="dg"/>
<path d="M34.6 580.05H33.96V583.85H34.6M34.6 568.67H33.83V572.47H34.6M33.96 581.95H33.56V587.64H34.6M34.6 564.88H33.21V570.57H33.83M34.6 557.3H32.72V561.09H34.6M32.72 559.19H32.08V567.73H33.21M34.6 602.81H31.31V606.6H34.6M33.56 584.79H30.39V591.43H34.6M34.6 595.23H29.32V599.02H34.6M34.6 576.26H28.1V588.11H30.39M32.08 563.46H26.73V582.19H28.1M26.73 572.82H25.2V597.12H29.32M25.2 584.97H23.5V604.71H31.31" class="dg"/>
<g class="hlab"><text x="265.8" y="254.88">Interferon Response Genes</text><text x="265.8" y="257.94">IL-6 Signaling</text><text x="265.8" y="261">IL-17 Signaling</text><text x="265.8" y="264.06">Type II Interferon Signaling</text><text x="265.8" y="267.11">IL-1 Signaling</text><text x="265.8" y="270.17">IL-4 Signaling</text><text x="265.8" y="273.23">Chemokine Signaling</text><text x="265.8" y="276.29">IL-2 Signaling</text><text x="265.8" y="279.35">Lymphocyte Trafficking</text><text x="265.8" y="282.41">Type I Interferon Signaling</text><text x="265.8" y="285.47">Type III Interferon Signaling</text><text x="265.8" y="288.53">Lymphocyte Regulation</text><text x="265.8" y="291.59">Immune Exhaustion</text><text x="265.8" y="294.64">NF-kB Signaling</text><text x="265.8" y="297.7">Cytotoxicity</text><text x="265.8" y="300.76">Other Interleukin Signaling</text><text x="265.8" y="303.82">Prostaglandin and Arachidonic</text><text x="265.8" y="308.23">Cancer Antigens</text><text x="265.8" y="311.6">Th2 Differentiation</text><text x="265.8" y="314.97">T cells</text><text x="265.8" y="318.34">Th17 Differentiation</text><text x="265.8" y="321.71">Th9 Differentiation</text><text x="265.8" y="325.08">B cells</text><text x="265.8" y="328.45">T-cell Checkpoints</text><text x="265.8" y="331.82">Th1 Differentiation</text><text x="265.8" y="335.19">TCR Signaling</text><text x="265.8" y="338.56">BCR Signaling</text><text x="265.8" y="341.93">Treg Differentiation</text><text x="265.8" y="345.3">MHC Class II Antigen Presentation</text><text x="265.8" y="348.67">MHC Class I Antigen Presentation</text><text x="265.8" y="354.59">NK Activity</text><text x="265.8" y="357.86">Complement System</text><text x="265.8" y="361.14">Host Defense Peptides</text><text x="265.8" y="364.41">Dendritic Cells</text><text x="265.8" y="367.69">Neutrophil Degranulation</text><text x="265.8" y="370.96">Inflammasomes</text><text x="265.8" y="374.24">PAMP Sensing</text><text x="265.8" y="377.51">Myeloid Inflammation</text><text x="265.8" y="380.79">Glycan Sensing</text><text x="265.8" y="384.06">TLR Signaling</text><text x="265.8" y="387.34">NLR Signaling</text><text x="265.8" y="390.61">RAGE Signaling</text><text x="265.8" y="397.25">WNT Signaling</text><text x="265.8" y="400.44">MAPK Signaling</text><text x="265.8" y="403.64">PI3K-Akt Signaling</text><text x="265.8" y="406.84">FGFR Signaling</text><text x="265.8" y="410.03">EGFR Signaling</text><text x="265.8" y="413.23">VEGF Signaling</text><text x="265.8" y="416.43">ERBB2 Signaling</text><text x="265.8" y="419.62">Estrogen Signaling</text><text x="265.8" y="422.82">Hedgehog Signaling</text><text x="265.8" y="426.01">NOTCH Signaling</text><text x="265.8" y="429.21">JAK-STAT Signaling</text><text x="265.8" y="432.41">Hippo Signaling</text><text x="265.8" y="435.6">TGF-beta Signaling</text><text x="265.8" y="438.8">Insulin Signaling</text><text x="265.8" y="442">mTOR Signaling</text><text x="265.8" y="445.19">PPAR Signaling</text><text x="265.8" y="448.39">HIF1 Signaling</text><text x="265.8" y="451.59">Androgen Signaling</text><text x="265.8" y="454.78">RAS Signaling</text><text x="265.8" y="457.98">MET Signaling</text><text x="265.8" y="461.17">PDGF Signaling</text><text x="265.8" y="464.37">Calcium Signaling</text><text x="265.8" y="467.57">cAMP Signaling</text><text x="265.8" y="470.76">TNF Signaling</text><text x="265.8" y="473.96">NOD Signaling</text><text x="265.8" y="477.16">GPCR Signaling</text><text x="265.8" y="480.35">Retinoic Acid Signaling</text><text x="265.8" y="486.49">Ion Transport</text><text x="265.8" y="490.17">Endocytosis</text><text x="265.8" y="493.85">Phagocytosis</text><text x="265.8" y="497.53">Lysosome</text><text x="265.8" y="501.21">DNA Sensing</text><text x="265.8" y="504.88">EMT</text><text x="265.8" y="508.56">Senescence</text><text x="265.8" y="512.24">Oxidative Stress</text><text x="265.8" y="515.92">Epigenetic Modification</text><text x="265.8" y="519.6">Apoptosis</text><text x="265.8" y="523.28">Autophagy</text><text x="265.8" y="526.96">Proteotoxic Stress</text><text x="265.8" y="530.64">Immortality & Stemness</text><text x="265.8" y="534.32">RNA Processing</text><text x="265.8" y="537.99">Chromosome Assembly</text><text x="265.8" y="541.67">DNA Damage Repair</text><text x="265.8" y="545.35">Cell Cycle</text><text x="265.8" y="549.03">Differentiation</text><text x="265.8" y="552.71">Cell Adhesion & Motility</text><text x="265.8" y="558.35">Glycosylation</text><text x="265.8" y="562.14">Arginine Metabolism</text><text x="265.8" y="565.93">Fatty Acid Synthesis</text><text x="265.8" y="569.73">Glutamine Metabolism</text><text x="265.8" y="573.52">Amino Acid Synthesis and Transport</text><text x="265.8" y="577.31">Pentose Phosphate</text><text x="265.8" y="581.1">Glycolysis & Glucose Transport</text><text x="265.8" y="584.9">Mitochondrial Metabolism / TCA</text><text x="265.8" y="588.69">EZH2</text><text x="265.8" y="592.48">Nucleotide Synthesis</text><text x="265.8" y="596.27">Lipid Metabolism</text><text x="265.8" y="600.07">Vitamin & Cofactor Metabolism</text><text x="265.8" y="603.86">Fatty Acid Oxidation</text><text x="265.8" y="607.65">Tryptophan & Kynurenine Metabolism</text></g>
<rect x="1.2" y="252.1" width="20" height="52.4" fill="none" stroke="#aaa" stroke-width="0.6"/>
<text transform="translate(9.6 278.3) rotate(-90)" class="box" text-anchor="middle">IMMUNE</text>
<text transform="translate(16.4 278.3) rotate(-90)" class="box" text-anchor="middle">RESPONSE</text>
<rect x="1.2" y="305.2" width="20" height="44.1" fill="none" stroke="#aaa" stroke-width="0.6"/>
<text transform="translate(9.6 327.25) rotate(-90)" class="box" text-anchor="middle">ADAPTIVE</text>
<text transform="translate(16.4 327.25) rotate(-90)" class="box" text-anchor="middle">IMMUNE</text>
<rect x="1.2" y="352.2" width="20" height="38.8" fill="none" stroke="#aaa" stroke-width="0.6"/>
<text transform="translate(9.6 371.6) rotate(-90)" class="box" text-anchor="middle">INNATE</text>
<text transform="translate(16.4 371.6) rotate(-90)" class="box" text-anchor="middle">IMMUNE</text>
<rect x="1.2" y="395.2" width="20" height="85.5" fill="none" stroke="#aaa" stroke-width="0.6"/>
<text transform="translate(9.6 437.95) rotate(-90)" class="box" text-anchor="middle">SIGNALLING</text>
<text transform="translate(16.4 437.95) rotate(-90)" class="box" text-anchor="middle">PATHWAYS</text>
<rect x="1.2" y="483.6" width="20" height="69.8" fill="none" stroke="#aaa" stroke-width="0.6"/>
<text transform="translate(9.6 518.5) rotate(-90)" class="box" text-anchor="middle">CELL</text>
<text transform="translate(16.4 518.5) rotate(-90)" class="box" text-anchor="middle">FUNCTION</text>
<rect x="3.6" y="557.4" width="17.6" height="51.2" fill="none" stroke="#aaa" stroke-width="0.6"/>
<text transform="translate(14.2 583) rotate(-90)" class="box" text-anchor="middle">METABOLISM</text>
<text x="19.5" y="621.8" class="legH">REGION</text>
<rect x="20" y="624.3" width="4.5" height="5" fill="#1e9a48"/>
<text x="30" y="628.5" class="legC">pTC</text>
<text x="46.3" y="628.5" class="legC">Primary</text>
<text x="73.8" y="628.5" class="legC">- Tumor center</text>
<rect x="20" y="630.13" width="4.5" height="5" fill="#6ab84a"/>
<text x="30" y="634.33" class="legC">pIE</text>
<text x="46.3" y="634.33" class="legC">Primary</text>
<text x="73.8" y="634.33" class="legC">- Invasive edge</text>
<rect x="20" y="635.96" width="4.5" height="5" fill="#c8a470"/>
<text x="30" y="640.16" class="legC">pTLR</text>
<text x="46.3" y="640.16" class="legC">Primary</text>
<text x="73.8" y="640.16" class="legC">- Tertiary lymphoid region</text>
<rect x="20" y="641.79" width="4.5" height="5" fill="#6aa8e0"/>
<text x="30" y="645.99" class="legC">mTC</text>
<text x="46.3" y="645.99" class="legC">Metastasis</text>
<text x="73.8" y="645.99" class="legC">- Tumor center</text>
<rect x="20" y="647.62" width="4.5" height="5" fill="#a050b8"/>
<text x="30" y="651.82" class="legC">mIE</text>
<text x="46.3" y="651.82" class="legC">Metastasis</text>
<text x="73.8" y="651.82" class="legC">- Invasive edge (immune)</text>
<rect x="20" y="653.45" width="4.5" height="5" fill="#f2ee6a"/>
<text x="30" y="657.65" class="legC">mSE</text>
<text x="46.3" y="657.65" class="legC">Metastasis</text>
<text x="73.8" y="657.65" class="legC">- Invasive edge (stromal)</text>
<rect x="20" y="659.28" width="4.5" height="5" fill="#8a6428"/>
<text x="30" y="663.48" class="legC">mTLR</text>
<text x="46.3" y="663.48" class="legC">Metastasis</text>
<text x="73.8" y="663.48" class="legC">- Tertiary lymphoid region</text>
<text x="153.9" y="624.2" class="legH">KM Grade</text>
<rect x="154.3" y="626.5" width="5" height="4.8" fill="#d8287a"/>
<text x="162.3" y="630.2" class="legL">Low</text>
<rect x="154.3" y="631.5" width="5" height="4.8" fill="#3a9a94"/>
<text x="162.3" y="635.2" class="legL">High</text>
<text x="184" y="624.2" class="legH">KRAS</text>
<rect x="184.4" y="626.5" width="5" height="4.8" fill="#d8287a"/>
<text x="190.8" y="630.6" class="legC2">KRAS-mt</text>
<rect x="184.4" y="631.5" width="5" height="4.8" fill="#9a9a9a"/>
<text x="190.8" y="635.6" class="legC2">KRAS-wt</text>
<text x="153.9" y="648.3" class="legH">MET</text>
<rect x="154.3" y="650.6" width="5" height="4.8" fill="#b8482c"/>
<text x="160.7" y="654.7" class="legC2">MET</text>
<rect x="154.3" y="655.6" width="5" height="4.8" fill="#f5a623"/>
<text x="160.7" y="659.7" class="legC2">PRI</text>
<text x="184" y="648.3" class="legH">TP53</text>
<rect x="184.4" y="650.6" width="5" height="4.8" fill="#f5a623"/>
<text x="190.8" y="654.7" class="legC2">TP53-mt</text>
<rect x="184.4" y="655.6" width="5" height="4.8" fill="#9a9a9a"/>
<text x="190.8" y="659.7" class="legC2">TP53-wt</text>
<text x="221" y="648.3" class="legH">BRAF</text>
<rect x="221.4" y="650.6" width="5" height="4.8" fill="#f4b4dc"/>
<text x="227.8" y="654.7" class="legC2">BRAF-mt</text>
<rect x="221.4" y="655.6" width="5" height="4.8" fill="#9a9a9a"/>
<text x="227.8" y="659.7" class="legC2">BRAF-wt</text>
<rect x="263.4" y="622" width="5.9" height="37.5" fill="url(#gC)"/>
<text x="270.3" y="624.4" class="cbl">3</text>
<text x="270.3" y="630.35" class="cbl">2</text>
<text x="270.3" y="636.3" class="cbl">1</text>
<text x="270.3" y="642.25" class="cbl">0</text>
<text x="270.3" y="648.2" class="cbl">−1</text>
<text x="270.3" y="654.15" class="cbl">−2</text>
<text x="270.3" y="660.1" class="cbl">−3</text>
<text x="280" y="636.8" class="cbt">Normalized</text>
<text x="280" y="644.2" class="cbt">Enrichment</text>
<text x="280" y="651.8" class="cbt">Score</text>
<text x="325.2" y="246.4" class="big">D</text>
<rect x="344.4" y="237.2" width="103" height="63.8" fill="#fff" stroke="#444" stroke-width="0.6"/>
<line x1="344.4" x2="447.4" y1="252.5" y2="252.5" stroke="#444" stroke-width="0.6"/>
<line x1="373.83" x2="373.83" y1="237.2" y2="301" stroke="#444" stroke-width="0.6"/>
<line x1="410.61" x2="410.61" y1="237.2" y2="301" stroke="#444" stroke-width="0.6"/>
<text x="359.11" y="246.4" class="dh" text-anchor="middle">Interpatient</text>
<text x="359.11" y="250.8" class="dh" text-anchor="middle">Comparison</text>
<text x="392.22" y="241.6" class="dh" text-anchor="middle">Intrapatient</text>
<text x="392.22" y="246.4" class="dh" text-anchor="middle">Interlesional</text>
<text x="392.22" y="250.8" class="dh" text-anchor="middle">Comparison</text>
<text x="429.01" y="246.4" class="dh" text-anchor="middle">Intralesional</text>
<text x="429.01" y="250.8" class="dh" text-anchor="middle">Comparison</text>
<rect x="344.4" y="301" width="103" height="30.3" fill="#cfe9cf" stroke="#444" stroke-width="0.6"/>
<rect x="344.4" y="632" width="103" height="37" fill="#fadcb8" stroke="#444" stroke-width="0.6"/>
<text transform="translate(349.98 299.6) rotate(-90)" class="dsub" textLength="14" lengthAdjust="spacingAndGlyphs">Primary</text>
<text transform="translate(349.98 330.3) rotate(-90)" class="dga" textLength="17" lengthAdjust="spacingAndGlyphs">KM-high</text>
<text transform="translate(349.98 636.3) rotate(-90)" class="dgb" text-anchor="end" textLength="12.6" lengthAdjust="spacingAndGlyphs">KM-low</text>
<line x1="351.76" x2="351.76" y1="252.5" y2="331.3" stroke="#555" stroke-width="0.5"/>
<line x1="351.76" x2="351.76" y1="632" y2="669" stroke="#555" stroke-width="0.5"/>
<text transform="translate(357.34 299.6) rotate(-90)" class="dsub" textLength="41.4" lengthAdjust="spacingAndGlyphs">Metastasis: Immune Edge</text>
<text transform="translate(357.34 330.3) rotate(-90)" class="dga" textLength="17" lengthAdjust="spacingAndGlyphs">KM-high</text>
<text transform="translate(357.34 636.3) rotate(-90)" class="dgb" text-anchor="end" textLength="12.6" lengthAdjust="spacingAndGlyphs">KM-low</text>
<line x1="359.11" x2="359.11" y1="252.5" y2="331.3" stroke="#555" stroke-width="0.5"/>
<line x1="359.11" x2="359.11" y1="632" y2="669" stroke="#555" stroke-width="0.5"/>
<text transform="translate(364.69 299.6) rotate(-90)" class="dsub" textLength="41.8" lengthAdjust="spacingAndGlyphs">Metastasis: Tumor Centre</text>
<text transform="translate(364.69 330.3) rotate(-90)" class="dga" textLength="17" lengthAdjust="spacingAndGlyphs">KM-high</text>
<text transform="translate(364.69 636.3) rotate(-90)" class="dgb" text-anchor="end" textLength="12.6" lengthAdjust="spacingAndGlyphs">KM-low</text>
<line x1="366.47" x2="366.47" y1="252.5" y2="331.3" stroke="#555" stroke-width="0.5"/>
<line x1="366.47" x2="366.47" y1="632" y2="669" stroke="#555" stroke-width="0.5"/>
<text transform="translate(372.05 299.6) rotate(-90)" class="dsub" textLength="42.2" lengthAdjust="spacingAndGlyphs">Metastasis: Stromal Edge</text>
<text transform="translate(372.05 330.3) rotate(-90)" class="dga" textLength="17" lengthAdjust="spacingAndGlyphs">KM-high</text>
<text transform="translate(372.05 636.3) rotate(-90)" class="dgb" text-anchor="end" textLength="12.6" lengthAdjust="spacingAndGlyphs">KM-low</text>
<line x1="373.83" x2="373.83" y1="252.5" y2="331.3" stroke="#555" stroke-width="0.5"/>
<line x1="373.83" x2="373.83" y1="632" y2="669" stroke="#555" stroke-width="0.5"/>
<text transform="translate(379.41 299.6) rotate(-90)" class="dsub" textLength="6.3" lengthAdjust="spacingAndGlyphs">All</text>
<text transform="translate(379.41 330.3) rotate(-90)" class="dga" textLength="22.8" lengthAdjust="spacingAndGlyphs">Metastasis</text>
<text transform="translate(379.41 636.3) rotate(-90)" class="dgb" text-anchor="end" textLength="14.8" lengthAdjust="spacingAndGlyphs">Primary</text>
<line x1="381.19" x2="381.19" y1="252.5" y2="331.3" stroke="#555" stroke-width="0.5"/>
<line x1="381.19" x2="381.19" y1="632" y2="669" stroke="#555" stroke-width="0.5"/>
<text transform="translate(386.76 299.6) rotate(-90)" class="dsub" textLength="43.3" lengthAdjust="spacingAndGlyphs">Patient A – Epithelium</text>
<text transform="translate(386.76 330.3) rotate(-90)" class="dga" textLength="22.8" lengthAdjust="spacingAndGlyphs">Metastasis</text>
<text transform="translate(386.76 636.3) rotate(-90)" class="dgb" text-anchor="end" textLength="14.8" lengthAdjust="spacingAndGlyphs">Primary</text>
<line x1="388.54" x2="388.54" y1="252.5" y2="331.3" stroke="#555" stroke-width="0.5"/>
<line x1="388.54" x2="388.54" y1="632" y2="669" stroke="#555" stroke-width="0.5"/>
<text transform="translate(394.12 299.6) rotate(-90)" class="dsub" textLength="43.3" lengthAdjust="spacingAndGlyphs">Patient B – Epithelium</text>
<text transform="translate(394.12 330.3) rotate(-90)" class="dga" textLength="22.8" lengthAdjust="spacingAndGlyphs">Metastasis</text>
<text transform="translate(394.12 636.3) rotate(-90)" class="dgb" text-anchor="end" textLength="14.8" lengthAdjust="spacingAndGlyphs">Primary</text>
<line x1="395.9" x2="395.9" y1="252.5" y2="331.3" stroke="#555" stroke-width="0.5"/>
<line x1="395.9" x2="395.9" y1="632" y2="669" stroke="#555" stroke-width="0.5"/>
<text transform="translate(401.48 299.6) rotate(-90)" class="dsub" textLength="43.3" lengthAdjust="spacingAndGlyphs">Patient C – Epithelium</text>
<text transform="translate(401.48 330.3) rotate(-90)" class="dga" textLength="22.8" lengthAdjust="spacingAndGlyphs">Metastasis</text>
<text transform="translate(401.48 636.3) rotate(-90)" class="dgb" text-anchor="end" textLength="14.8" lengthAdjust="spacingAndGlyphs">Primary</text>
<line x1="403.26" x2="403.26" y1="252.5" y2="331.3" stroke="#555" stroke-width="0.5"/>
<line x1="403.26" x2="403.26" y1="632" y2="669" stroke="#555" stroke-width="0.5"/>
<text transform="translate(408.84 299.6) rotate(-90)" class="dsub" textLength="43.3" lengthAdjust="spacingAndGlyphs">Patient D – Epithelium</text>
<text transform="translate(408.84 330.3) rotate(-90)" class="dga" textLength="22.8" lengthAdjust="spacingAndGlyphs">Metastasis</text>
<text transform="translate(408.84 636.3) rotate(-90)" class="dgb" text-anchor="end" textLength="14.8" lengthAdjust="spacingAndGlyphs">Primary</text>
<line x1="410.61" x2="410.61" y1="252.5" y2="331.3" stroke="#555" stroke-width="0.5"/>
<line x1="410.61" x2="410.61" y1="632" y2="669" stroke="#555" stroke-width="0.5"/>
<text transform="translate(416.19 299.6) rotate(-90)" class="dsub" textLength="6.3" lengthAdjust="spacingAndGlyphs">All</text>
<text transform="translate(416.19 330.3) rotate(-90)" class="dga" textLength="25" lengthAdjust="spacingAndGlyphs">Immune Edge</text>
<text transform="translate(416.19 636.3) rotate(-90)" class="dgb" text-anchor="end" textLength="25.3" lengthAdjust="spacingAndGlyphs">Tumor Centre</text>
<line x1="417.97" x2="417.97" y1="252.5" y2="331.3" stroke="#555" stroke-width="0.5"/>
<line x1="417.97" x2="417.97" y1="632" y2="669" stroke="#555" stroke-width="0.5"/>
<text transform="translate(423.55 299.6) rotate(-90)" class="dsub" textLength="18.6" lengthAdjust="spacingAndGlyphs">Patient A</text>
<text transform="translate(423.55 330.3) rotate(-90)" class="dga" textLength="25" lengthAdjust="spacingAndGlyphs">Immune Edge</text>
<text transform="translate(423.55 636.3) rotate(-90)" class="dgb" text-anchor="end" textLength="25.3" lengthAdjust="spacingAndGlyphs">Tumor Centre</text>
<line x1="425.33" x2="425.33" y1="252.5" y2="331.3" stroke="#555" stroke-width="0.5"/>
<line x1="425.33" x2="425.33" y1="632" y2="669" stroke="#555" stroke-width="0.5"/>
<text transform="translate(430.91 299.6) rotate(-90)" class="dsub" textLength="18.6" lengthAdjust="spacingAndGlyphs">Patient B</text>
<text transform="translate(430.91 330.3) rotate(-90)" class="dga" textLength="25" lengthAdjust="spacingAndGlyphs">Immune Edge</text>
<text transform="translate(430.91 636.3) rotate(-90)" class="dgb" text-anchor="end" textLength="25.3" lengthAdjust="spacingAndGlyphs">Tumor Centre</text>
<line x1="432.69" x2="432.69" y1="252.5" y2="331.3" stroke="#555" stroke-width="0.5"/>
<line x1="432.69" x2="432.69" y1="632" y2="669" stroke="#555" stroke-width="0.5"/>
<text transform="translate(438.26 299.6) rotate(-90)" class="dsub" textLength="18.6" lengthAdjust="spacingAndGlyphs">Patient C</text>
<text transform="translate(438.26 330.3) rotate(-90)" class="dga" textLength="25" lengthAdjust="spacingAndGlyphs">Immune Edge</text>
<text transform="translate(438.26 636.3) rotate(-90)" class="dgb" text-anchor="end" textLength="25.3" lengthAdjust="spacingAndGlyphs">Tumor Centre</text>
<line x1="440.04" x2="440.04" y1="252.5" y2="331.3" stroke="#555" stroke-width="0.5"/>
<line x1="440.04" x2="440.04" y1="632" y2="669" stroke="#555" stroke-width="0.5"/>
<text transform="translate(445.62 299.6) rotate(-90)" class="dsub" textLength="18.6" lengthAdjust="spacingAndGlyphs">Patient D</text>
<text transform="translate(445.62 330.3) rotate(-90)" class="dga" textLength="25" lengthAdjust="spacingAndGlyphs">Immune Edge</text>
<text transform="translate(445.62 636.3) rotate(-90)" class="dgb" text-anchor="end" textLength="25.3" lengthAdjust="spacingAndGlyphs">Tumor Centre</text>
<text transform="translate(343.2 300) rotate(-90)" class="dsub2">Subgroup</text>
<text transform="translate(343.2 329.8) rotate(-90)" class="dsub2">GROUP A</text>
<text transform="translate(343.2 632.6) rotate(-90)" class="dsub2" text-anchor="end">GROUP B</text>
<g><rect x="344.65" y="333.85" width="6.86" height="4.39" fill="#efeff3"/><rect x="352.01" y="333.85" width="6.86" height="4.39" fill="#efeff3"/><rect x="359.36" y="333.85" width="6.86" height="4.39" fill="#efeff3"/><rect x="366.72" y="333.85" width="6.86" height="4.39" fill="#efeff3"/><rect x="374.08" y="333.85" width="6.86" height="4.39" fill="#c6e6c6"/><rect x="381.44" y="333.85" width="6.86" height="4.39" fill="#efeff3"/><rect x="388.79" y="333.85" width="6.86" height="4.39" fill="#efeff3"/><rect x="396.15" y="333.85" width="6.86" height="4.39" fill="#fad7b6"/><rect x="403.51" y="333.85" width="6.86" height="4.39" fill="#efeff3"/><rect x="410.86" y="333.85" width="6.86" height="4.39" fill="#86c98c"/><rect x="418.22" y="333.85" width="6.86" height="4.39" fill="#86c98c"/><rect x="425.58" y="333.85" width="6.86" height="4.39" fill="#86c98c"/><rect x="432.94" y="333.85" width="6.86" height="4.39" fill="#86c98c"/><rect x="440.29" y="333.85" width="6.86" height="4.39" fill="#86c98c"/><rect x="344.65" y="338.74" width="6.86" height="4.39" fill="#efeff3"/><rect x="352.01" y="338.74" width="6.86" height="4.39" fill="#86c98c"/><rect x="359.36" y="338.74" width="6.86" height="4.39" fill="#efeff3"/><rect x="366.72" y="338.74" width="6.86" height="4.39" fill="#86c98c"/><rect x="374.08" y="338.74" width="6.86" height="4.39" fill="#efeff3"/><rect x="381.44" y="338.74" width="6.86" height="4.39" fill="#efeff3"/><rect x="388.79" y="338.74" width="6.86" height="4.39" fill="#efeff3"/><rect x="396.15" y="338.74" width="6.86" height="4.39" fill="#f6b57a"/><rect x="403.51" y="338.74" width="6.86" height="4.39" fill="#efeff3"/><rect x="410.86" y="338.74" width="6.86" height="4.39" fill="#c6e6c6"/><rect x="418.22" y="338.74" width="6.86" height="4.39" fill="#86c98c"/><rect x="425.58" y="338.74" width="6.86" height="4.39" fill="#c6e6c6"/><rect x="432.94" y="338.74" width="6.86" height="4.39" fill="#c6e6c6"/><rect x="440.29" y="338.74" width="6.86" height="4.39" fill="#c6e6c6"/><rect x="344.65" y="343.63" width="6.86" height="4.39" fill="#efeff3"/><rect x="352.01" y="343.63" width="6.86" height="4.39" fill="#86c98c"/><rect x="359.36" y="343.63" width="6.86" height="4.39" fill="#efeff3"/><rect x="366.72" y="343.63" width="6.86" height="4.39" fill="#86c98c"/><rect x="374.08" y="343.63" width="6.86" height="4.39" fill="#efeff3"/><rect x="381.44" y="343.63" width="6.86" height="4.39" fill="#efeff3"/><rect x="388.79" y="343.63" width="6.86" height="4.39" fill="#c6e6c6"/><rect x="396.15" y="343.63" width="6.86" height="4.39" fill="#fad7b6"/><rect x="403.51" y="343.63" width="6.86" height="4.39" fill="#efeff3"/><rect x="410.86" y="343.63" width="6.86" height="4.39" fill="#c6e6c6"/><rect x="418.22" y="343.63" width="6.86" height="4.39" fill="#4aa85a"/><rect x="425.58" y="343.63" width="6.86" height="4.39" fill="#c6e6c6"/><rect x="432.94" y="343.63" width="6.86" height="4.39" fill="#c6e6c6"/><rect x="440.29" y="343.63" width="6.86" height="4.39" fill="#c6e6c6"/><rect x="344.65" y="348.53" width="6.86" height="4.39" fill="#efeff3"/><rect x="352.01" y="348.53" width="6.86" height="4.39" fill="#c6e6c6"/><rect x="359.36" y="348.53" width="6.86" height="4.39" fill="#efeff3"/><rect x="366.72" y="348.53" width="6.86" height="4.39" fill="#c6e6c6"/><rect x="374.08" y="348.53" width="6.86" height="4.39" fill="#efeff3"/><rect x="381.44" y="348.53" width="6.86" height="4.39" fill="#efeff3"/><rect x="388.79" y="348.53" width="6.86" height="4.39" fill="#efeff3"/><rect x="396.15" y="348.53" width="6.86" height="4.39" fill="#fad7b6"/><rect x="403.51" y="348.53" width="6.86" height="4.39" fill="#efeff3"/><rect x="410.86" y="348.53" width="6.86" height="4.39" fill="#c6e6c6"/><rect x="418.22" y="348.53" width="6.86" height="4.39" fill="#86c98c"/><rect x="425.58" y="348.53" width="6.86" height="4.39" fill="#efeff3"/><rect x="432.94" y="348.53" width="6.86" height="4.39" fill="#c6e6c6"/><rect x="440.29" y="348.53" width="6.86" height="4.39" fill="#c6e6c6"/><rect x="344.65" y="353.42" width="6.86" height="4.39" fill="#efeff3"/><rect x="352.01" y="353.42" width="6.86" height="4.39" fill="#86c98c"/><rect x="359.36" y="353.42" width="6.86" height="4.39" fill="#86c98c"/><rect x="366.72" y="353.42" width="6.86" height="4.39" fill="#86c98c"/><rect x="374.08" y="353.42" width="6.86" height="4.39" fill="#efeff3"/><rect x="381.44" y="353.42" width="6.86" height="4.39" fill="#efeff3"/><rect x="388.79" y="353.42" width="6.86" height="4.39" fill="#86c98c"/><rect x="396.15" y="353.42" width="6.86" height="4.39" fill="#f6b57a"/><rect x="403.51" y="353.42" width="6.86" height="4.39" fill="#efeff3"/><rect x="410.86" y="353.42" width="6.86" height="4.39" fill="#c6e6c6"/><rect x="418.22" y="353.42" width="6.86" height="4.39" fill="#c6e6c6"/><rect x="425.58" y="353.42" width="6.86" height="4.39" fill="#efeff3"/><rect x="432.94" y="353.42" width="6.86" height="4.39" fill="#efeff3"/><rect x="440.29" y="353.42" width="6.86" height="4.39" fill="#c6e6c6"/><rect x="344.65" y="358.31" width="6.86" height="4.39" fill="#efeff3"/><rect x="352.01" y="358.31" width="6.86" height="4.39" fill="#86c98c"/><rect x="359.36" y="358.31" width="6.86" height="4.39" fill="#86c98c"/><rect x="366.72" y="358.31" width="6.86" height="4.39" fill="#c6e6c6"/><rect x="374.08" y="358.31" width="6.86" height="4.39" fill="#efeff3"/><rect x="381.44" y="358.31" width="6.86" height="4.39" fill="#efeff3"/><rect x="388.79" y="358.31" width="6.86" height="4.39" fill="#c6e6c6"/><rect x="396.15" y="358.31" width="6.86" height="4.39" fill="#fad7b6"/><rect x="403.51" y="358.31" width="6.86" height="4.39" fill="#efeff3"/><rect x="410.86" y="358.31" width="6.86" height="4.39" fill="#c6e6c6"/><rect x="418.22" y="358.31" width="6.86" height="4.39" fill="#c6e6c6"/><rect x="425.58" y="358.31" width="6.86" height="4.39" fill="#efeff3"/><rect x="432.94" y="358.31" width="6.86" height="4.39" fill="#c6e6c6"/><rect x="440.29" y="358.31" width="6.86" height="4.39" fill="#c6e6c6"/><rect x="344.65" y="363.2" width="6.86" height="4.39" fill="#efeff3"/><rect x="352.01" y="363.2" width="6.86" height="4.39" fill="#86c98c"/><rect x="359.36" y="363.2" width="6.86" height="4.39" fill="#c6e6c6"/><rect x="366.72" y="363.2" width="6.86" height="4.39" fill="#efeff3"/><rect x="374.08" y="363.2" width="6.86" height="4.39" fill="#efeff3"/><rect x="381.44" y="363.2" width="6.86" height="4.39" fill="#efeff3"/><rect x="388.79" y="363.2" width="6.86" height="4.39" fill="#efeff3"/><rect x="396.15" y="363.2" width="6.86" height="4.39" fill="#efeff3"/><rect x="403.51" y="363.2" width="6.86" height="4.39" fill="#f08a22"/><rect x="410.86" y="363.2" width="6.86" height="4.39" fill="#c6e6c6"/><rect x="418.22" y="363.2" width="6.86" height="4.39" fill="#c6e6c6"/><rect x="425.58" y="363.2" width="6.86" height="4.39" fill="#c6e6c6"/><rect x="432.94" y="363.2" width="6.86" height="4.39" fill="#efeff3"/><rect x="440.29" y="363.2" width="6.86" height="4.39" fill="#86c98c"/><rect x="344.65" y="368.09" width="6.86" height="4.39" fill="#efeff3"/><rect x="352.01" y="368.09" width="6.86" height="4.39" fill="#86c98c"/><rect x="359.36" y="368.09" width="6.86" height="4.39" fill="#86c98c"/><rect x="366.72" y="368.09" width="6.86" height="4.39" fill="#efeff3"/><rect x="374.08" y="368.09" width="6.86" height="4.39" fill="#efeff3"/><rect x="381.44" y="368.09" width="6.86" height="4.39" fill="#efeff3"/><rect x="388.79" y="368.09" width="6.86" height="4.39" fill="#efeff3"/><rect x="396.15" y="368.09" width="6.86" height="4.39" fill="#efeff3"/><rect x="403.51" y="368.09" width="6.86" height="4.39" fill="#fad7b6"/><rect x="410.86" y="368.09" width="6.86" height="4.39" fill="#c6e6c6"/><rect x="418.22" y="368.09" width="6.86" height="4.39" fill="#c6e6c6"/><rect x="425.58" y="368.09" width="6.86" height="4.39" fill="#efeff3"/><rect x="432.94" y="368.09" width="6.86" height="4.39" fill="#efeff3"/><rect x="440.29" y="368.09" width="6.86" height="4.39" fill="#c6e6c6"/><rect x="344.65" y="372.98" width="6.86" height="4.39" fill="#efeff3"/><rect x="352.01" y="372.98" width="6.86" height="4.39" fill="#efeff3"/><rect x="359.36" y="372.98" width="6.86" height="4.39" fill="#efeff3"/><rect x="366.72" y="372.98" width="6.86" height="4.39" fill="#efeff3"/><rect x="374.08" y="372.98" width="6.86" height="4.39" fill="#efeff3"/><rect x="381.44" y="372.98" width="6.86" height="4.39" fill="#efeff3"/><rect x="388.79" y="372.98" width="6.86" height="4.39" fill="#efeff3"/><rect x="396.15" y="372.98" width="6.86" height="4.39" fill="#efeff3"/><rect x="403.51" y="372.98" width="6.86" height="4.39" fill="#fad7b6"/><rect x="410.86" y="372.98" width="6.86" height="4.39" fill="#c6e6c6"/><rect x="418.22" y="372.98" width="6.86" height="4.39" fill="#efeff3"/><rect x="425.58" y="372.98" width="6.86" height="4.39" fill="#c6e6c6"/><rect x="432.94" y="372.98" width="6.86" height="4.39" fill="#c6e6c6"/><rect x="440.29" y="372.98" width="6.86" height="4.39" fill="#c6e6c6"/><rect x="344.65" y="377.88" width="6.86" height="4.39" fill="#fad7b6"/><rect x="352.01" y="377.88" width="6.86" height="4.39" fill="#efeff3"/><rect x="359.36" y="377.88" width="6.86" height="4.39" fill="#efeff3"/><rect x="366.72" y="377.88" width="6.86" height="4.39" fill="#efeff3"/><rect x="374.08" y="377.88" width="6.86" height="4.39" fill="#c6e6c6"/><rect x="381.44" y="377.88" width="6.86" height="4.39" fill="#efeff3"/><rect x="388.79" y="377.88" width="6.86" height="4.39" fill="#efeff3"/><rect x="396.15" y="377.88" width="6.86" height="4.39" fill="#efeff3"/><rect x="403.51" y="377.88" width="6.86" height="4.39" fill="#efeff3"/><rect x="410.86" y="377.88" width="6.86" height="4.39" fill="#efeff3"/><rect x="418.22" y="377.88" width="6.86" height="4.39" fill="#efeff3"/><rect x="425.58" y="377.88" width="6.86" height="4.39" fill="#efeff3"/><rect x="432.94" y="377.88" width="6.86" height="4.39" fill="#efeff3"/><rect x="440.29" y="377.88" width="6.86" height="4.39" fill="#efeff3"/><rect x="344.65" y="382.77" width="6.86" height="4.39" fill="#efeff3"/><rect x="352.01" y="382.77" width="6.86" height="4.39" fill="#fad7b6"/><rect x="359.36" y="382.77" width="6.86" height="4.39" fill="#efeff3"/><rect x="366.72" y="382.77" width="6.86" height="4.39" fill="#efeff3"/><rect x="374.08" y="382.77" width="6.86" height="4.39" fill="#c6e6c6"/><rect x="381.44" y="382.77" width="6.86" height="4.39" fill="#efeff3"/><rect x="388.79" y="382.77" width="6.86" height="4.39" fill="#efeff3"/><rect x="396.15" y="382.77" width="6.86" height="4.39" fill="#efeff3"/><rect x="403.51" y="382.77" width="6.86" height="4.39" fill="#efeff3"/><rect x="410.86" y="382.77" width="6.86" height="4.39" fill="#c6e6c6"/><rect x="418.22" y="382.77" width="6.86" height="4.39" fill="#efeff3"/><rect x="425.58" y="382.77" width="6.86" height="4.39" fill="#efeff3"/><rect x="432.94" y="382.77" width="6.86" height="4.39" fill="#c6e6c6"/><rect x="440.29" y="382.77" width="6.86" height="4.39" fill="#c6e6c6"/><rect x="344.65" y="387.66" width="6.86" height="4.39" fill="#efeff3"/><rect x="352.01" y="387.66" width="6.86" height="4.39" fill="#86c98c"/><rect x="359.36" y="387.66" width="6.86" height="4.39" fill="#c6e6c6"/><rect x="366.72" y="387.66" width="6.86" height="4.39" fill="#efeff3"/><rect x="374.08" y="387.66" width="6.86" height="4.39" fill="#efeff3"/><rect x="381.44" y="387.66" width="6.86" height="4.39" fill="#efeff3"/><rect x="388.79" y="387.66" width="6.86" height="4.39" fill="#efeff3"/><rect x="396.15" y="387.66" width="6.86" height="4.39" fill="#efeff3"/><rect x="403.51" y="387.66" width="6.86" height="4.39" fill="#efeff3"/><rect x="410.86" y="387.66" width="6.86" height="4.39" fill="#efeff3"/><rect x="418.22" y="387.66" width="6.86" height="4.39" fill="#c6e6c6"/><rect x="425.58" y="387.66" width="6.86" height="4.39" fill="#efeff3"/><rect x="432.94" y="387.66" width="6.86" height="4.39" fill="#efeff3"/><rect x="440.29" y="387.66" width="6.86" height="4.39" fill="#c6e6c6"/><rect x="344.65" y="392.55" width="6.86" height="4.39" fill="#efeff3"/><rect x="352.01" y="392.55" width="6.86" height="4.39" fill="#86c98c"/><rect x="359.36" y="392.55" width="6.86" height="4.39" fill="#efeff3"/><rect x="366.72" y="392.55" width="6.86" height="4.39" fill="#efeff3"/><rect x="374.08" y="392.55" width="6.86" height="4.39" fill="#efeff3"/><rect x="381.44" y="392.55" width="6.86" height="4.39" fill="#efeff3"/><rect x="388.79" y="392.55" width="6.86" height="4.39" fill="#efeff3"/><rect x="396.15" y="392.55" width="6.86" height="4.39" fill="#efeff3"/><rect x="403.51" y="392.55" width="6.86" height="4.39" fill="#efeff3"/><rect x="410.86" y="392.55" width="6.86" height="4.39" fill="#efeff3"/><rect x="418.22" y="392.55" width="6.86" height="4.39" fill="#c6e6c6"/><rect x="425.58" y="392.55" width="6.86" height="4.39" fill="#efeff3"/><rect x="432.94" y="392.55" width="6.86" height="4.39" fill="#efeff3"/><rect x="440.29" y="392.55" width="6.86" height="4.39" fill="#efeff3"/><rect x="344.65" y="397.44" width="6.86" height="4.39" fill="#efeff3"/><rect x="352.01" y="397.44" width="6.86" height="4.39" fill="#efeff3"/><rect x="359.36" y="397.44" width="6.86" height="4.39" fill="#efeff3"/><rect x="366.72" y="397.44" width="6.86" height="4.39" fill="#efeff3"/><rect x="374.08" y="397.44" width="6.86" height="4.39" fill="#efeff3"/><rect x="381.44" y="397.44" width="6.86" height="4.39" fill="#efeff3"/><rect x="388.79" y="397.44" width="6.86" height="4.39" fill="#86c98c"/><rect x="396.15" y="397.44" width="6.86" height="4.39" fill="#efeff3"/><rect x="403.51" y="397.44" width="6.86" height="4.39" fill="#efeff3"/><rect x="410.86" y="397.44" width="6.86" height="4.39" fill="#efeff3"/><rect x="418.22" y="397.44" width="6.86" height="4.39" fill="#efeff3"/><rect x="425.58" y="397.44" width="6.86" height="4.39" fill="#efeff3"/><rect x="432.94" y="397.44" width="6.86" height="4.39" fill="#efeff3"/><rect x="440.29" y="397.44" width="6.86" height="4.39" fill="#efeff3"/><rect x="344.65" y="402.34" width="6.86" height="4.39" fill="#efeff3"/><rect x="352.01" y="402.34" width="6.86" height="4.39" fill="#c6e6c6"/><rect x="359.36" y="402.34" width="6.86" height="4.39" fill="#efeff3"/><rect x="366.72" y="402.34" width="6.86" height="4.39" fill="#efeff3"/><rect x="374.08" y="402.34" width="6.86" height="4.39" fill="#efeff3"/><rect x="381.44" y="402.34" width="6.86" height="4.39" fill="#efeff3"/><rect x="388.79" y="402.34" width="6.86" height="4.39" fill="#efeff3"/><rect x="396.15" y="402.34" width="6.86" height="4.39" fill="#efeff3"/><rect x="403.51" y="402.34" width="6.86" height="4.39" fill="#fad7b6"/><rect x="410.86" y="402.34" width="6.86" height="4.39" fill="#efeff3"/><rect x="418.22" y="402.34" width="6.86" height="4.39" fill="#efeff3"/><rect x="425.58" y="402.34" width="6.86" height="4.39" fill="#efeff3"/><rect x="432.94" y="402.34" width="6.86" height="4.39" fill="#efeff3"/><rect x="440.29" y="402.34" width="6.86" height="4.39" fill="#c6e6c6"/><rect x="344.65" y="407.23" width="6.86" height="4.39" fill="#efeff3"/><rect x="352.01" y="407.23" width="6.86" height="4.39" fill="#c6e6c6"/><rect x="359.36" y="407.23" width="6.86" height="4.39" fill="#efeff3"/><rect x="366.72" y="407.23" width="6.86" height="4.39" fill="#efeff3"/><rect x="374.08" y="407.23" width="6.86" height="4.39" fill="#efeff3"/><rect x="381.44" y="407.23" width="6.86" height="4.39" fill="#efeff3"/><rect x="388.79" y="407.23" width="6.86" height="4.39" fill="#c6e6c6"/><rect x="396.15" y="407.23" width="6.86" height="4.39" fill="#efeff3"/><rect x="403.51" y="407.23" width="6.86" height="4.39" fill="#fad7b6"/><rect x="410.86" y="407.23" width="6.86" height="4.39" fill="#efeff3"/><rect x="418.22" y="407.23" width="6.86" height="4.39" fill="#efeff3"/><rect x="425.58" y="407.23" width="6.86" height="4.39" fill="#efeff3"/><rect x="432.94" y="407.23" width="6.86" height="4.39" fill="#efeff3"/><rect x="440.29" y="407.23" width="6.86" height="4.39" fill="#efeff3"/><rect x="344.65" y="412.12" width="6.86" height="4.39" fill="#efeff3"/><rect x="352.01" y="412.12" width="6.86" height="4.39" fill="#c6e6c6"/><rect x="359.36" y="412.12" width="6.86" height="4.39" fill="#efeff3"/><rect x="366.72" y="412.12" width="6.86" height="4.39" fill="#efeff3"/><rect x="374.08" y="412.12" width="6.86" height="4.39" fill="#efeff3"/><rect x="381.44" y="412.12" width="6.86" height="4.39" fill="#efeff3"/><rect x="388.79" y="412.12" width="6.86" height="4.39" fill="#efeff3"/><rect x="396.15" y="412.12" width="6.86" height="4.39" fill="#efeff3"/><rect x="403.51" y="412.12" width="6.86" height="4.39" fill="#efeff3"/><rect x="410.86" y="412.12" width="6.86" height="4.39" fill="#c6e6c6"/><rect x="418.22" y="412.12" width="6.86" height="4.39" fill="#c6e6c6"/><rect x="425.58" y="412.12" width="6.86" height="4.39" fill="#c6e6c6"/><rect x="432.94" y="412.12" width="6.86" height="4.39" fill="#efeff3"/><rect x="440.29" y="412.12" width="6.86" height="4.39" fill="#c6e6c6"/><rect x="344.65" y="417.01" width="6.86" height="4.39" fill="#efeff3"/><rect x="352.01" y="417.01" width="6.86" height="4.39" fill="#c6e6c6"/><rect x="359.36" y="417.01" width="6.86" height="4.39" fill="#c6e6c6"/><rect x="366.72" y="417.01" width="6.86" height="4.39" fill="#efeff3"/><rect x="374.08" y="417.01" width="6.86" height="4.39" fill="#efeff3"/><rect x="381.44" y="417.01" width="6.86" height="4.39" fill="#efeff3"/><rect x="388.79" y="417.01" width="6.86" height="4.39" fill="#efeff3"/><rect x="396.15" y="417.01" width="6.86" height="4.39" fill="#efeff3"/><rect x="403.51" y="417.01" width="6.86" height="4.39" fill="#fad7b6"/><rect x="410.86" y="417.01" width="6.86" height="4.39" fill="#efeff3"/><rect x="418.22" y="417.01" width="6.86" height="4.39" fill="#efeff3"/><rect x="425.58" y="417.01" width="6.86" height="4.39" fill="#c6e6c6"/><rect x="432.94" y="417.01" width="6.86" height="4.39" fill="#efeff3"/><rect x="440.29" y="417.01" width="6.86" height="4.39" fill="#c6e6c6"/><rect x="344.65" y="421.9" width="6.86" height="4.39" fill="#efeff3"/><rect x="352.01" y="421.9" width="6.86" height="4.39" fill="#c6e6c6"/><rect x="359.36" y="421.9" width="6.86" height="4.39" fill="#efeff3"/><rect x="366.72" y="421.9" width="6.86" height="4.39" fill="#efeff3"/><rect x="374.08" y="421.9" width="6.86" height="4.39" fill="#efeff3"/><rect x="381.44" y="421.9" width="6.86" height="4.39" fill="#efeff3"/><rect x="388.79" y="421.9" width="6.86" height="4.39" fill="#efeff3"/><rect x="396.15" y="421.9" width="6.86" height="4.39" fill="#efeff3"/><rect x="403.51" y="421.9" width="6.86" height="4.39" fill="#f6b57a"/><rect x="410.86" y="421.9" width="6.86" height="4.39" fill="#efeff3"/><rect x="418.22" y="421.9" width="6.86" height="4.39" fill="#efeff3"/><rect x="425.58" y="421.9" width="6.86" height="4.39" fill="#efeff3"/><rect x="432.94" y="421.9" width="6.86" height="4.39" fill="#efeff3"/><rect x="440.29" y="421.9" width="6.86" height="4.39" fill="#c6e6c6"/><rect x="344.65" y="426.79" width="6.86" height="4.39" fill="#efeff3"/><rect x="352.01" y="426.79" width="6.86" height="4.39" fill="#c6e6c6"/><rect x="359.36" y="426.79" width="6.86" height="4.39" fill="#efeff3"/><rect x="366.72" y="426.79" width="6.86" height="4.39" fill="#efeff3"/><rect x="374.08" y="426.79" width="6.86" height="4.39" fill="#efeff3"/><rect x="381.44" y="426.79" width="6.86" height="4.39" fill="#efeff3"/><rect x="388.79" y="426.79" width="6.86" height="4.39" fill="#efeff3"/><rect x="396.15" y="426.79" width="6.86" height="4.39" fill="#efeff3"/><rect x="403.51" y="426.79" width="6.86" height="4.39" fill="#efeff3"/><rect x="410.86" y="426.79" width="6.86" height="4.39" fill="#efeff3"/><rect x="418.22" y="426.79" width="6.86" height="4.39" fill="#efeff3"/><rect x="425.58" y="426.79" width="6.86" height="4.39" fill="#efeff3"/><rect x="432.94" y="426.79" width="6.86" height="4.39" fill="#efeff3"/><rect x="440.29" y="426.79" width="6.86" height="4.39" fill="#efeff3"/><rect x="344.65" y="431.69" width="6.86" height="4.39" fill="#efeff3"/><rect x="352.01" y="431.69" width="6.86" height="4.39" fill="#c6e6c6"/><rect x="359.36" y="431.69" width="6.86" height="4.39" fill="#c6e6c6"/><rect x="366.72" y="431.69" width="6.86" height="4.39" fill="#efeff3"/><rect x="374.08" y="431.69" width="6.86" height="4.39" fill="#efeff3"/><rect x="381.44" y="431.69" width="6.86" height="4.39" fill="#efeff3"/><rect x="388.79" y="431.69" width="6.86" height="4.39" fill="#efeff3"/><rect x="396.15" y="431.69" width="6.86" height="4.39" fill="#efeff3"/><rect x="403.51" y="431.69" width="6.86" height="4.39" fill="#efeff3"/><rect x="410.86" y="431.69" width="6.86" height="4.39" fill="#efeff3"/><rect x="418.22" y="431.69" width="6.86" height="4.39" fill="#efeff3"/><rect x="425.58" y="431.69" width="6.86" height="4.39" fill="#efeff3"/><rect x="432.94" y="431.69" width="6.86" height="4.39" fill="#efeff3"/><rect x="440.29" y="431.69" width="6.86" height="4.39" fill="#efeff3"/><rect x="344.65" y="436.58" width="6.86" height="4.39" fill="#efeff3"/><rect x="352.01" y="436.58" width="6.86" height="4.39" fill="#c6e6c6"/><rect x="359.36" y="436.58" width="6.86" height="4.39" fill="#efeff3"/><rect x="366.72" y="436.58" width="6.86" height="4.39" fill="#efeff3"/><rect x="374.08" y="436.58" width="6.86" height="4.39" fill="#efeff3"/><rect x="381.44" y="436.58" width="6.86" height="4.39" fill="#efeff3"/><rect x="388.79" y="436.58" width="6.86" height="4.39" fill="#efeff3"/><rect x="396.15" y="436.58" width="6.86" height="4.39" fill="#efeff3"/><rect x="403.51" y="436.58" width="6.86" height="4.39" fill="#efeff3"/><rect x="410.86" y="436.58" width="6.86" height="4.39" fill="#efeff3"/><rect x="418.22" y="436.58" width="6.86" height="4.39" fill="#efeff3"/><rect x="425.58" y="436.58" width="6.86" height="4.39" fill="#efeff3"/><rect x="432.94" y="436.58" width="6.86" height="4.39" fill="#efeff3"/><rect x="440.29" y="436.58" width="6.86" height="4.39" fill="#efeff3"/><rect x="344.65" y="441.47" width="6.86" height="4.39" fill="#efeff3"/><rect x="352.01" y="441.47" width="6.86" height="4.39" fill="#efeff3"/><rect x="359.36" y="441.47" width="6.86" height="4.39" fill="#efeff3"/><rect x="366.72" y="441.47" width="6.86" height="4.39" fill="#efeff3"/><rect x="374.08" y="441.47" width="6.86" height="4.39" fill="#efeff3"/><rect x="381.44" y="441.47" width="6.86" height="4.39" fill="#efeff3"/><rect x="388.79" y="441.47" width="6.86" height="4.39" fill="#fad7b6"/><rect x="396.15" y="441.47" width="6.86" height="4.39" fill="#efeff3"/><rect x="403.51" y="441.47" width="6.86" height="4.39" fill="#fad7b6"/><rect x="410.86" y="441.47" width="6.86" height="4.39" fill="#efeff3"/><rect x="418.22" y="441.47" width="6.86" height="4.39" fill="#c6e6c6"/><rect x="425.58" y="441.47" width="6.86" height="4.39" fill="#efeff3"/><rect x="432.94" y="441.47" width="6.86" height="4.39" fill="#efeff3"/><rect x="440.29" y="441.47" width="6.86" height="4.39" fill="#efeff3"/><rect x="344.65" y="446.36" width="6.86" height="4.39" fill="#efeff3"/><rect x="352.01" y="446.36" width="6.86" height="4.39" fill="#efeff3"/><rect x="359.36" y="446.36" width="6.86" height="4.39" fill="#efeff3"/><rect x="366.72" y="446.36" width="6.86" height="4.39" fill="#efeff3"/><rect x="374.08" y="446.36" width="6.86" height="4.39" fill="#efeff3"/><rect x="381.44" y="446.36" width="6.86" height="4.39" fill="#efeff3"/><rect x="388.79" y="446.36" width="6.86" height="4.39" fill="#efeff3"/><rect x="396.15" y="446.36" width="6.86" height="4.39" fill="#efeff3"/><rect x="403.51" y="446.36" width="6.86" height="4.39" fill="#efeff3"/><rect x="410.86" y="446.36" width="6.86" height="4.39" fill="#efeff3"/><rect x="418.22" y="446.36" width="6.86" height="4.39" fill="#efeff3"/><rect x="425.58" y="446.36" width="6.86" height="4.39" fill="#efeff3"/><rect x="432.94" y="446.36" width="6.86" height="4.39" fill="#efeff3"/><rect x="440.29" y="446.36" width="6.86" height="4.39" fill="#efeff3"/><rect x="344.65" y="451.25" width="6.86" height="4.39" fill="#efeff3"/><rect x="352.01" y="451.25" width="6.86" height="4.39" fill="#c6e6c6"/><rect x="359.36" y="451.25" width="6.86" height="4.39" fill="#c6e6c6"/><rect x="366.72" y="451.25" width="6.86" height="4.39" fill="#efeff3"/><rect x="374.08" y="451.25" width="6.86" height="4.39" fill="#efeff3"/><rect x="381.44" y="451.25" width="6.86" height="4.39" fill="#efeff3"/><rect x="388.79" y="451.25" width="6.86" height="4.39" fill="#efeff3"/><rect x="396.15" y="451.25" width="6.86" height="4.39" fill="#f6b57a"/><rect x="403.51" y="451.25" width="6.86" height="4.39" fill="#efeff3"/><rect x="410.86" y="451.25" width="6.86" height="4.39" fill="#efeff3"/><rect x="418.22" y="451.25" width="6.86" height="4.39" fill="#efeff3"/><rect x="425.58" y="451.25" width="6.86" height="4.39" fill="#efeff3"/><rect x="432.94" y="451.25" width="6.86" height="4.39" fill="#c6e6c6"/><rect x="440.29" y="451.25" width="6.86" height="4.39" fill="#efeff3"/><rect x="344.65" y="456.15" width="6.86" height="4.39" fill="#efeff3"/><rect x="352.01" y="456.15" width="6.86" height="4.39" fill="#efeff3"/><rect x="359.36" y="456.15" width="6.86" height="4.39" fill="#c6e6c6"/><rect x="366.72" y="456.15" width="6.86" height="4.39" fill="#efeff3"/><rect x="374.08" y="456.15" width="6.86" height="4.39" fill="#efeff3"/><rect x="381.44" y="456.15" width="6.86" height="4.39" fill="#efeff3"/><rect x="388.79" y="456.15" width="6.86" height="4.39" fill="#efeff3"/><rect x="396.15" y="456.15" width="6.86" height="4.39" fill="#fad7b6"/><rect x="403.51" y="456.15" width="6.86" height="4.39" fill="#efeff3"/><rect x="410.86" y="456.15" width="6.86" height="4.39" fill="#efeff3"/><rect x="418.22" y="456.15" width="6.86" height="4.39" fill="#efeff3"/><rect x="425.58" y="456.15" width="6.86" height="4.39" fill="#efeff3"/><rect x="432.94" y="456.15" width="6.86" height="4.39" fill="#efeff3"/><rect x="440.29" y="456.15" width="6.86" height="4.39" fill="#efeff3"/><rect x="344.65" y="461.04" width="6.86" height="4.39" fill="#efeff3"/><rect x="352.01" y="461.04" width="6.86" height="4.39" fill="#efeff3"/><rect x="359.36" y="461.04" width="6.86" height="4.39" fill="#c6e6c6"/><rect x="366.72" y="461.04" width="6.86" height="4.39" fill="#efeff3"/><rect x="374.08" y="461.04" width="6.86" height="4.39" fill="#efeff3"/><rect x="381.44" y="461.04" width="6.86" height="4.39" fill="#efeff3"/><rect x="388.79" y="461.04" width="6.86" height="4.39" fill="#86c98c"/><rect x="396.15" y="461.04" width="6.86" height="4.39" fill="#efeff3"/><rect x="403.51" y="461.04" width="6.86" height="4.39" fill="#efeff3"/><rect x="410.86" y="461.04" width="6.86" height="4.39" fill="#efeff3"/><rect x="418.22" y="461.04" width="6.86" height="4.39" fill="#efeff3"/><rect x="425.58" y="461.04" width="6.86" height="4.39" fill="#fad7b6"/><rect x="432.94" y="461.04" width="6.86" height="4.39" fill="#efeff3"/><rect x="440.29" y="461.04" width="6.86" height="4.39" fill="#efeff3"/><rect x="344.65" y="465.93" width="6.86" height="4.39" fill="#efeff3"/><rect x="352.01" y="465.93" width="6.86" height="4.39" fill="#efeff3"/><rect x="359.36" y="465.93" width="6.86" height="4.39" fill="#efeff3"/><rect x="366.72" y="465.93" width="6.86" height="4.39" fill="#efeff3"/><rect x="374.08" y="465.93" width="6.86" height="4.39" fill="#efeff3"/><rect x="381.44" y="465.93" width="6.86" height="4.39" fill="#efeff3"/><rect x="388.79" y="465.93" width="6.86" height="4.39" fill="#efeff3"/><rect x="396.15" y="465.93" width="6.86" height="4.39" fill="#efeff3"/><rect x="403.51" y="465.93" width="6.86" height="4.39" fill="#efeff3"/><rect x="410.86" y="465.93" width="6.86" height="4.39" fill="#efeff3"/><rect x="418.22" y="465.93" width="6.86" height="4.39" fill="#efeff3"/><rect x="425.58" y="465.93" width="6.86" height="4.39" fill="#efeff3"/><rect x="432.94" y="465.93" width="6.86" height="4.39" fill="#efeff3"/><rect x="440.29" y="465.93" width="6.86" height="4.39" fill="#efeff3"/><rect x="344.65" y="470.82" width="6.86" height="4.39" fill="#efeff3"/><rect x="352.01" y="470.82" width="6.86" height="4.39" fill="#efeff3"/><rect x="359.36" y="470.82" width="6.86" height="4.39" fill="#efeff3"/><rect x="366.72" y="470.82" width="6.86" height="4.39" fill="#c6e6c6"/><rect x="374.08" y="470.82" width="6.86" height="4.39" fill="#efeff3"/><rect x="381.44" y="470.82" width="6.86" height="4.39" fill="#efeff3"/><rect x="388.79" y="470.82" width="6.86" height="4.39" fill="#efeff3"/><rect x="396.15" y="470.82" width="6.86" height="4.39" fill="#efeff3"/><rect x="403.51" y="470.82" width="6.86" height="4.39" fill="#efeff3"/><rect x="410.86" y="470.82" width="6.86" height="4.39" fill="#efeff3"/><rect x="418.22" y="470.82" width="6.86" height="4.39" fill="#efeff3"/><rect x="425.58" y="470.82" width="6.86" height="4.39" fill="#efeff3"/><rect x="432.94" y="470.82" width="6.86" height="4.39" fill="#efeff3"/><rect x="440.29" y="470.82" width="6.86" height="4.39" fill="#efeff3"/><rect x="344.65" y="475.71" width="6.86" height="4.39" fill="#fad7b6"/><rect x="352.01" y="475.71" width="6.86" height="4.39" fill="#efeff3"/><rect x="359.36" y="475.71" width="6.86" height="4.39" fill="#efeff3"/><rect x="366.72" y="475.71" width="6.86" height="4.39" fill="#c6e6c6"/><rect x="374.08" y="475.71" width="6.86" height="4.39" fill="#efeff3"/><rect x="381.44" y="475.71" width="6.86" height="4.39" fill="#efeff3"/><rect x="388.79" y="475.71" width="6.86" height="4.39" fill="#86c98c"/><rect x="396.15" y="475.71" width="6.86" height="4.39" fill="#efeff3"/><rect x="403.51" y="475.71" width="6.86" height="4.39" fill="#fad7b6"/><rect x="410.86" y="475.71" width="6.86" height="4.39" fill="#efeff3"/><rect x="418.22" y="475.71" width="6.86" height="4.39" fill="#efeff3"/><rect x="425.58" y="475.71" width="6.86" height="4.39" fill="#efeff3"/><rect x="432.94" y="475.71" width="6.86" height="4.39" fill="#efeff3"/><rect x="440.29" y="475.71" width="6.86" height="4.39" fill="#efeff3"/><rect x="344.65" y="480.6" width="6.86" height="4.39" fill="#efeff3"/><rect x="352.01" y="480.6" width="6.86" height="4.39" fill="#efeff3"/><rect x="359.36" y="480.6" width="6.86" height="4.39" fill="#fad7b6"/><rect x="366.72" y="480.6" width="6.86" height="4.39" fill="#86c98c"/><rect x="374.08" y="480.6" width="6.86" height="4.39" fill="#c6e6c6"/><rect x="381.44" y="480.6" width="6.86" height="4.39" fill="#efeff3"/><rect x="388.79" y="480.6" width="6.86" height="4.39" fill="#efeff3"/><rect x="396.15" y="480.6" width="6.86" height="4.39" fill="#efeff3"/><rect x="403.51" y="480.6" width="6.86" height="4.39" fill="#efeff3"/><rect x="410.86" y="480.6" width="6.86" height="4.39" fill="#efeff3"/><rect x="418.22" y="480.6" width="6.86" height="4.39" fill="#efeff3"/><rect x="425.58" y="480.6" width="6.86" height="4.39" fill="#efeff3"/><rect x="432.94" y="480.6" width="6.86" height="4.39" fill="#efeff3"/><rect x="440.29" y="480.6" width="6.86" height="4.39" fill="#efeff3"/><rect x="344.65" y="485.5" width="6.86" height="4.39" fill="#efeff3"/><rect x="352.01" y="485.5" width="6.86" height="4.39" fill="#efeff3"/><rect x="359.36" y="485.5" width="6.86" height="4.39" fill="#efeff3"/><rect x="366.72" y="485.5" width="6.86" height="4.39" fill="#86c98c"/><rect x="374.08" y="485.5" width="6.86" height="4.39" fill="#efeff3"/><rect x="381.44" y="485.5" width="6.86" height="4.39" fill="#efeff3"/><rect x="388.79" y="485.5" width="6.86" height="4.39" fill="#efeff3"/><rect x="396.15" y="485.5" width="6.86" height="4.39" fill="#efeff3"/><rect x="403.51" y="485.5" width="6.86" height="4.39" fill="#c6e6c6"/><rect x="410.86" y="485.5" width="6.86" height="4.39" fill="#efeff3"/><rect x="418.22" y="485.5" width="6.86" height="4.39" fill="#efeff3"/><rect x="425.58" y="485.5" width="6.86" height="4.39" fill="#efeff3"/><rect x="432.94" y="485.5" width="6.86" height="4.39" fill="#efeff3"/><rect x="440.29" y="485.5" width="6.86" height="4.39" fill="#efeff3"/><rect x="344.65" y="490.39" width="6.86" height="4.39" fill="#efeff3"/><rect x="352.01" y="490.39" width="6.86" height="4.39" fill="#fad7b6"/><rect x="359.36" y="490.39" width="6.86" height="4.39" fill="#f08a22"/><rect x="366.72" y="490.39" width="6.86" height="4.39" fill="#efeff3"/><rect x="374.08" y="490.39" width="6.86" height="4.39" fill="#efeff3"/><rect x="381.44" y="490.39" width="6.86" height="4.39" fill="#efeff3"/><rect x="388.79" y="490.39" width="6.86" height="4.39" fill="#efeff3"/><rect x="396.15" y="490.39" width="6.86" height="4.39" fill="#efeff3"/><rect x="403.51" y="490.39" width="6.86" height="4.39" fill="#86c98c"/><rect x="410.86" y="490.39" width="6.86" height="4.39" fill="#efeff3"/><rect x="418.22" y="490.39" width="6.86" height="4.39" fill="#efeff3"/><rect x="425.58" y="490.39" width="6.86" height="4.39" fill="#efeff3"/><rect x="432.94" y="490.39" width="6.86" height="4.39" fill="#efeff3"/><rect x="440.29" y="490.39" width="6.86" height="4.39" fill="#f08a22"/><rect x="344.65" y="495.28" width="6.86" height="4.39" fill="#c6e6c6"/><rect x="352.01" y="495.28" width="6.86" height="4.39" fill="#efeff3"/><rect x="359.36" y="495.28" width="6.86" height="4.39" fill="#efeff3"/><rect x="366.72" y="495.28" width="6.86" height="4.39" fill="#efeff3"/><rect x="374.08" y="495.28" width="6.86" height="4.39" fill="#efeff3"/><rect x="381.44" y="495.28" width="6.86" height="4.39" fill="#efeff3"/><rect x="388.79" y="495.28" width="6.86" height="4.39" fill="#f6b57a"/><rect x="396.15" y="495.28" width="6.86" height="4.39" fill="#efeff3"/><rect x="403.51" y="495.28" width="6.86" height="4.39" fill="#efeff3"/><rect x="410.86" y="495.28" width="6.86" height="4.39" fill="#efeff3"/><rect x="418.22" y="495.28" width="6.86" height="4.39" fill="#efeff3"/><rect x="425.58" y="495.28" width="6.86" height="4.39" fill="#efeff3"/><rect x="432.94" y="495.28" width="6.86" height="4.39" fill="#efeff3"/><rect x="440.29" y="495.28" width="6.86" height="4.39" fill="#fad7b6"/><rect x="344.65" y="500.17" width="6.86" height="4.39" fill="#c6e6c6"/><rect x="352.01" y="500.17" width="6.86" height="4.39" fill="#efeff3"/><rect x="359.36" y="500.17" width="6.86" height="4.39" fill="#efeff3"/><rect x="366.72" y="500.17" width="6.86" height="4.39" fill="#efeff3"/><rect x="374.08" y="500.17" width="6.86" height="4.39" fill="#efeff3"/><rect x="381.44" y="500.17" width="6.86" height="4.39" fill="#efeff3"/><rect x="388.79" y="500.17" width="6.86" height="4.39" fill="#fad7b6"/><rect x="396.15" y="500.17" width="6.86" height="4.39" fill="#efeff3"/><rect x="403.51" y="500.17" width="6.86" height="4.39" fill="#efeff3"/><rect x="410.86" y="500.17" width="6.86" height="4.39" fill="#efeff3"/><rect x="418.22" y="500.17" width="6.86" height="4.39" fill="#efeff3"/><rect x="425.58" y="500.17" width="6.86" height="4.39" fill="#efeff3"/><rect x="432.94" y="500.17" width="6.86" height="4.39" fill="#efeff3"/><rect x="440.29" y="500.17" width="6.86" height="4.39" fill="#fad7b6"/><rect x="344.65" y="505.06" width="6.86" height="4.39" fill="#efeff3"/><rect x="352.01" y="505.06" width="6.86" height="4.39" fill="#efeff3"/><rect x="359.36" y="505.06" width="6.86" height="4.39" fill="#efeff3"/><rect x="366.72" y="505.06" width="6.86" height="4.39" fill="#efeff3"/><rect x="374.08" y="505.06" width="6.86" height="4.39" fill="#efeff3"/><rect x="381.44" y="505.06" width="6.86" height="4.39" fill="#efeff3"/><rect x="388.79" y="505.06" width="6.86" height="4.39" fill="#efeff3"/><rect x="396.15" y="505.06" width="6.86" height="4.39" fill="#efeff3"/><rect x="403.51" y="505.06" width="6.86" height="4.39" fill="#c6e6c6"/><rect x="410.86" y="505.06" width="6.86" height="4.39" fill="#efeff3"/><rect x="418.22" y="505.06" width="6.86" height="4.39" fill="#efeff3"/><rect x="425.58" y="505.06" width="6.86" height="4.39" fill="#efeff3"/><rect x="432.94" y="505.06" width="6.86" height="4.39" fill="#efeff3"/><rect x="440.29" y="505.06" width="6.86" height="4.39" fill="#fad7b6"/><rect x="344.65" y="509.95" width="6.86" height="4.39" fill="#efeff3"/><rect x="352.01" y="509.95" width="6.86" height="4.39" fill="#efeff3"/><rect x="359.36" y="509.95" width="6.86" height="4.39" fill="#efeff3"/><rect x="366.72" y="509.95" width="6.86" height="4.39" fill="#efeff3"/><rect x="374.08" y="509.95" width="6.86" height="4.39" fill="#efeff3"/><rect x="381.44" y="509.95" width="6.86" height="4.39" fill="#efeff3"/><rect x="388.79" y="509.95" width="6.86" height="4.39" fill="#efeff3"/><rect x="396.15" y="509.95" width="6.86" height="4.39" fill="#efeff3"/><rect x="403.51" y="509.95" width="6.86" height="4.39" fill="#efeff3"/><rect x="410.86" y="509.95" width="6.86" height="4.39" fill="#efeff3"/><rect x="418.22" y="509.95" width="6.86" height="4.39" fill="#efeff3"/><rect x="425.58" y="509.95" width="6.86" height="4.39" fill="#efeff3"/><rect x="432.94" y="509.95" width="6.86" height="4.39" fill="#efeff3"/><rect x="440.29" y="509.95" width="6.86" height="4.39" fill="#fad7b6"/><rect x="344.65" y="514.85" width="6.86" height="4.39" fill="#efeff3"/><rect x="352.01" y="514.85" width="6.86" height="4.39" fill="#efeff3"/><rect x="359.36" y="514.85" width="6.86" height="4.39" fill="#efeff3"/><rect x="366.72" y="514.85" width="6.86" height="4.39" fill="#efeff3"/><rect x="374.08" y="514.85" width="6.86" height="4.39" fill="#efeff3"/><rect x="381.44" y="514.85" width="6.86" height="4.39" fill="#efeff3"/><rect x="388.79" y="514.85" width="6.86" height="4.39" fill="#efeff3"/><rect x="396.15" y="514.85" width="6.86" height="4.39" fill="#efeff3"/><rect x="403.51" y="514.85" width="6.86" height="4.39" fill="#efeff3"/><rect x="410.86" y="514.85" width="6.86" height="4.39" fill="#fad7b6"/><rect x="418.22" y="514.85" width="6.86" height="4.39" fill="#efeff3"/><rect x="425.58" y="514.85" width="6.86" height="4.39" fill="#efeff3"/><rect x="432.94" y="514.85" width="6.86" height="4.39" fill="#efeff3"/><rect x="440.29" y="514.85" width="6.86" height="4.39" fill="#fad7b6"/><rect x="344.65" y="519.74" width="6.86" height="4.39" fill="#efeff3"/><rect x="352.01" y="519.74" width="6.86" height="4.39" fill="#efeff3"/><rect x="359.36" y="519.74" width="6.86" height="4.39" fill="#efeff3"/><rect x="366.72" y="519.74" width="6.86" height="4.39" fill="#efeff3"/><rect x="374.08" y="519.74" width="6.86" height="4.39" fill="#efeff3"/><rect x="381.44" y="519.74" width="6.86" height="4.39" fill="#efeff3"/><rect x="388.79" y="519.74" width="6.86" height="4.39" fill="#efeff3"/><rect x="396.15" y="519.74" width="6.86" height="4.39" fill="#efeff3"/><rect x="403.51" y="519.74" width="6.86" height="4.39" fill="#efeff3"/><rect x="410.86" y="519.74" width="6.86" height="4.39" fill="#efeff3"/><rect x="418.22" y="519.74" width="6.86" height="4.39" fill="#efeff3"/><rect x="425.58" y="519.74" width="6.86" height="4.39" fill="#efeff3"/><rect x="432.94" y="519.74" width="6.86" height="4.39" fill="#efeff3"/><rect x="440.29" y="519.74" width="6.86" height="4.39" fill="#fad7b6"/><rect x="344.65" y="524.63" width="6.86" height="4.39" fill="#efeff3"/><rect x="352.01" y="524.63" width="6.86" height="4.39" fill="#efeff3"/><rect x="359.36" y="524.63" width="6.86" height="4.39" fill="#efeff3"/><rect x="366.72" y="524.63" width="6.86" height="4.39" fill="#efeff3"/><rect x="374.08" y="524.63" width="6.86" height="4.39" fill="#efeff3"/><rect x="381.44" y="524.63" width="6.86" height="4.39" fill="#efeff3"/><rect x="388.79" y="524.63" width="6.86" height="4.39" fill="#efeff3"/><rect x="396.15" y="524.63" width="6.86" height="4.39" fill="#efeff3"/><rect x="403.51" y="524.63" width="6.86" height="4.39" fill="#c6e6c6"/><rect x="410.86" y="524.63" width="6.86" height="4.39" fill="#efeff3"/><rect x="418.22" y="524.63" width="6.86" height="4.39" fill="#efeff3"/><rect x="425.58" y="524.63" width="6.86" height="4.39" fill="#efeff3"/><rect x="432.94" y="524.63" width="6.86" height="4.39" fill="#efeff3"/><rect x="440.29" y="524.63" width="6.86" height="4.39" fill="#fad7b6"/><rect x="344.65" y="529.52" width="6.86" height="4.39" fill="#efeff3"/><rect x="352.01" y="529.52" width="6.86" height="4.39" fill="#efeff3"/><rect x="359.36" y="529.52" width="6.86" height="4.39" fill="#efeff3"/><rect x="366.72" y="529.52" width="6.86" height="4.39" fill="#efeff3"/><rect x="374.08" y="529.52" width="6.86" height="4.39" fill="#efeff3"/><rect x="381.44" y="529.52" width="6.86" height="4.39" fill="#efeff3"/><rect x="388.79" y="529.52" width="6.86" height="4.39" fill="#efeff3"/><rect x="396.15" y="529.52" width="6.86" height="4.39" fill="#efeff3"/><rect x="403.51" y="529.52" width="6.86" height="4.39" fill="#efeff3"/><rect x="410.86" y="529.52" width="6.86" height="4.39" fill="#efeff3"/><rect x="418.22" y="529.52" width="6.86" height="4.39" fill="#efeff3"/><rect x="425.58" y="529.52" width="6.86" height="4.39" fill="#efeff3"/><rect x="432.94" y="529.52" width="6.86" height="4.39" fill="#fad7b6"/><rect x="440.29" y="529.52" width="6.86" height="4.39" fill="#efeff3"/><rect x="344.65" y="534.41" width="6.86" height="4.39" fill="#efeff3"/><rect x="352.01" y="534.41" width="6.86" height="4.39" fill="#efeff3"/><rect x="359.36" y="534.41" width="6.86" height="4.39" fill="#efeff3"/><rect x="366.72" y="534.41" width="6.86" height="4.39" fill="#fad7b6"/><rect x="374.08" y="534.41" width="6.86" height="4.39" fill="#efeff3"/><rect x="381.44" y="534.41" width="6.86" height="4.39" fill="#efeff3"/><rect x="388.79" y="534.41" width="6.86" height="4.39" fill="#efeff3"/><rect x="396.15" y="534.41" width="6.86" height="4.39" fill="#efeff3"/><rect x="403.51" y="534.41" width="6.86" height="4.39" fill="#efeff3"/><rect x="410.86" y="534.41" width="6.86" height="4.39" fill="#efeff3"/><rect x="418.22" y="534.41" width="6.86" height="4.39" fill="#efeff3"/><rect x="425.58" y="534.41" width="6.86" height="4.39" fill="#efeff3"/><rect x="432.94" y="534.41" width="6.86" height="4.39" fill="#efeff3"/><rect x="440.29" y="534.41" width="6.86" height="4.39" fill="#efeff3"/><rect x="344.65" y="539.31" width="6.86" height="4.39" fill="#efeff3"/><rect x="352.01" y="539.31" width="6.86" height="4.39" fill="#fad7b6"/><rect x="359.36" y="539.31" width="6.86" height="4.39" fill="#efeff3"/><rect x="366.72" y="539.31" width="6.86" height="4.39" fill="#fad7b6"/><rect x="374.08" y="539.31" width="6.86" height="4.39" fill="#efeff3"/><rect x="381.44" y="539.31" width="6.86" height="4.39" fill="#efeff3"/><rect x="388.79" y="539.31" width="6.86" height="4.39" fill="#efeff3"/><rect x="396.15" y="539.31" width="6.86" height="4.39" fill="#efeff3"/><rect x="403.51" y="539.31" width="6.86" height="4.39" fill="#efeff3"/><rect x="410.86" y="539.31" width="6.86" height="4.39" fill="#efeff3"/><rect x="418.22" y="539.31" width="6.86" height="4.39" fill="#efeff3"/><rect x="425.58" y="539.31" width="6.86" height="4.39" fill="#efeff3"/><rect x="432.94" y="539.31" width="6.86" height="4.39" fill="#efeff3"/><rect x="440.29" y="539.31" width="6.86" height="4.39" fill="#efeff3"/><rect x="344.65" y="544.2" width="6.86" height="4.39" fill="#efeff3"/><rect x="352.01" y="544.2" width="6.86" height="4.39" fill="#fad7b6"/><rect x="359.36" y="544.2" width="6.86" height="4.39" fill="#efeff3"/><rect x="366.72" y="544.2" width="6.86" height="4.39" fill="#efeff3"/><rect x="374.08" y="544.2" width="6.86" height="4.39" fill="#efeff3"/><rect x="381.44" y="544.2" width="6.86" height="4.39" fill="#efeff3"/><rect x="388.79" y="544.2" width="6.86" height="4.39" fill="#fad7b6"/><rect x="396.15" y="544.2" width="6.86" height="4.39" fill="#efeff3"/><rect x="403.51" y="544.2" width="6.86" height="4.39" fill="#efeff3"/><rect x="410.86" y="544.2" width="6.86" height="4.39" fill="#efeff3"/><rect x="418.22" y="544.2" width="6.86" height="4.39" fill="#efeff3"/><rect x="425.58" y="544.2" width="6.86" height="4.39" fill="#efeff3"/><rect x="432.94" y="544.2" width="6.86" height="4.39" fill="#efeff3"/><rect x="440.29" y="544.2" width="6.86" height="4.39" fill="#efeff3"/><rect x="344.65" y="549.09" width="6.86" height="4.39" fill="#efeff3"/><rect x="352.01" y="549.09" width="6.86" height="4.39" fill="#efeff3"/><rect x="359.36" y="549.09" width="6.86" height="4.39" fill="#efeff3"/><rect x="366.72" y="549.09" width="6.86" height="4.39" fill="#efeff3"/><rect x="374.08" y="549.09" width="6.86" height="4.39" fill="#efeff3"/><rect x="381.44" y="549.09" width="6.86" height="4.39" fill="#efeff3"/><rect x="388.79" y="549.09" width="6.86" height="4.39" fill="#fad7b6"/><rect x="396.15" y="549.09" width="6.86" height="4.39" fill="#efeff3"/><rect x="403.51" y="549.09" width="6.86" height="4.39" fill="#efeff3"/><rect x="410.86" y="549.09" width="6.86" height="4.39" fill="#efeff3"/><rect x="418.22" y="549.09" width="6.86" height="4.39" fill="#efeff3"/><rect x="425.58" y="549.09" width="6.86" height="4.39" fill="#efeff3"/><rect x="432.94" y="549.09" width="6.86" height="4.39" fill="#fad7b6"/><rect x="440.29" y="549.09" width="6.86" height="4.39" fill="#fad7b6"/><rect x="344.65" y="553.98" width="6.86" height="4.39" fill="#efeff3"/><rect x="352.01" y="553.98" width="6.86" height="4.39" fill="#efeff3"/><rect x="359.36" y="553.98" width="6.86" height="4.39" fill="#fad7b6"/><rect x="366.72" y="553.98" width="6.86" height="4.39" fill="#efeff3"/><rect x="374.08" y="553.98" width="6.86" height="4.39" fill="#efeff3"/><rect x="381.44" y="553.98" width="6.86" height="4.39" fill="#efeff3"/><rect x="388.79" y="553.98" width="6.86" height="4.39" fill="#efeff3"/><rect x="396.15" y="553.98" width="6.86" height="4.39" fill="#efeff3"/><rect x="403.51" y="553.98" width="6.86" height="4.39" fill="#efeff3"/><rect x="410.86" y="553.98" width="6.86" height="4.39" fill="#efeff3"/><rect x="418.22" y="553.98" width="6.86" height="4.39" fill="#efeff3"/><rect x="425.58" y="553.98" width="6.86" height="4.39" fill="#efeff3"/><rect x="432.94" y="553.98" width="6.86" height="4.39" fill="#efeff3"/><rect x="440.29" y="553.98" width="6.86" height="4.39" fill="#fad7b6"/><rect x="344.65" y="558.87" width="6.86" height="4.39" fill="#efeff3"/><rect x="352.01" y="558.87" width="6.86" height="4.39" fill="#fad7b6"/><rect x="359.36" y="558.87" width="6.86" height="4.39" fill="#efeff3"/><rect x="366.72" y="558.87" width="6.86" height="4.39" fill="#fad7b6"/><rect x="374.08" y="558.87" width="6.86" height="4.39" fill="#efeff3"/><rect x="381.44" y="558.87" width="6.86" height="4.39" fill="#efeff3"/><rect x="388.79" y="558.87" width="6.86" height="4.39" fill="#efeff3"/><rect x="396.15" y="558.87" width="6.86" height="4.39" fill="#86c98c"/><rect x="403.51" y="558.87" width="6.86" height="4.39" fill="#c6e6c6"/><rect x="410.86" y="558.87" width="6.86" height="4.39" fill="#fad7b6"/><rect x="418.22" y="558.87" width="6.86" height="4.39" fill="#f6b57a"/><rect x="425.58" y="558.87" width="6.86" height="4.39" fill="#efeff3"/><rect x="432.94" y="558.87" width="6.86" height="4.39" fill="#efeff3"/><rect x="440.29" y="558.87" width="6.86" height="4.39" fill="#efeff3"/><rect x="344.65" y="563.76" width="6.86" height="4.39" fill="#efeff3"/><rect x="352.01" y="563.76" width="6.86" height="4.39" fill="#fad7b6"/><rect x="359.36" y="563.76" width="6.86" height="4.39" fill="#efeff3"/><rect x="366.72" y="563.76" width="6.86" height="4.39" fill="#fad7b6"/><rect x="374.08" y="563.76" width="6.86" height="4.39" fill="#efeff3"/><rect x="381.44" y="563.76" width="6.86" height="4.39" fill="#efeff3"/><rect x="388.79" y="563.76" width="6.86" height="4.39" fill="#efeff3"/><rect x="396.15" y="563.76" width="6.86" height="4.39" fill="#86c98c"/><rect x="403.51" y="563.76" width="6.86" height="4.39" fill="#efeff3"/><rect x="410.86" y="563.76" width="6.86" height="4.39" fill="#efeff3"/><rect x="418.22" y="563.76" width="6.86" height="4.39" fill="#fad7b6"/><rect x="425.58" y="563.76" width="6.86" height="4.39" fill="#efeff3"/><rect x="432.94" y="563.76" width="6.86" height="4.39" fill="#efeff3"/><rect x="440.29" y="563.76" width="6.86" height="4.39" fill="#efeff3"/><rect x="344.65" y="568.66" width="6.86" height="4.39" fill="#efeff3"/><rect x="352.01" y="568.66" width="6.86" height="4.39" fill="#efeff3"/><rect x="359.36" y="568.66" width="6.86" height="4.39" fill="#efeff3"/><rect x="366.72" y="568.66" width="6.86" height="4.39" fill="#efeff3"/><rect x="374.08" y="568.66" width="6.86" height="4.39" fill="#efeff3"/><rect x="381.44" y="568.66" width="6.86" height="4.39" fill="#efeff3"/><rect x="388.79" y="568.66" width="6.86" height="4.39" fill="#efeff3"/><rect x="396.15" y="568.66" width="6.86" height="4.39" fill="#c6e6c6"/><rect x="403.51" y="568.66" width="6.86" height="4.39" fill="#efeff3"/><rect x="410.86" y="568.66" width="6.86" height="4.39" fill="#efeff3"/><rect x="418.22" y="568.66" width="6.86" height="4.39" fill="#efeff3"/><rect x="425.58" y="568.66" width="6.86" height="4.39" fill="#efeff3"/><rect x="432.94" y="568.66" width="6.86" height="4.39" fill="#f6b57a"/><rect x="440.29" y="568.66" width="6.86" height="4.39" fill="#fad7b6"/><rect x="344.65" y="573.55" width="6.86" height="4.39" fill="#efeff3"/><rect x="352.01" y="573.55" width="6.86" height="4.39" fill="#efeff3"/><rect x="359.36" y="573.55" width="6.86" height="4.39" fill="#efeff3"/><rect x="366.72" y="573.55" width="6.86" height="4.39" fill="#efeff3"/><rect x="374.08" y="573.55" width="6.86" height="4.39" fill="#efeff3"/><rect x="381.44" y="573.55" width="6.86" height="4.39" fill="#efeff3"/><rect x="388.79" y="573.55" width="6.86" height="4.39" fill="#efeff3"/><rect x="396.15" y="573.55" width="6.86" height="4.39" fill="#efeff3"/><rect x="403.51" y="573.55" width="6.86" height="4.39" fill="#efeff3"/><rect x="410.86" y="573.55" width="6.86" height="4.39" fill="#fad7b6"/><rect x="418.22" y="573.55" width="6.86" height="4.39" fill="#efeff3"/><rect x="425.58" y="573.55" width="6.86" height="4.39" fill="#efeff3"/><rect x="432.94" y="573.55" width="6.86" height="4.39" fill="#f6b57a"/><rect x="440.29" y="573.55" width="6.86" height="4.39" fill="#fad7b6"/><rect x="344.65" y="578.44" width="6.86" height="4.39" fill="#efeff3"/><rect x="352.01" y="578.44" width="6.86" height="4.39" fill="#efeff3"/><rect x="359.36" y="578.44" width="6.86" height="4.39" fill="#efeff3"/><rect x="366.72" y="578.44" width="6.86" height="4.39" fill="#efeff3"/><rect x="374.08" y="578.44" width="6.86" height="4.39" fill="#efeff3"/><rect x="381.44" y="578.44" width="6.86" height="4.39" fill="#efeff3"/><rect x="388.79" y="578.44" width="6.86" height="4.39" fill="#efeff3"/><rect x="396.15" y="578.44" width="6.86" height="4.39" fill="#efeff3"/><rect x="403.51" y="578.44" width="6.86" height="4.39" fill="#efeff3"/><rect x="410.86" y="578.44" width="6.86" height="4.39" fill="#fad7b6"/><rect x="418.22" y="578.44" width="6.86" height="4.39" fill="#efeff3"/><rect x="425.58" y="578.44" width="6.86" height="4.39" fill="#efeff3"/><rect x="432.94" y="578.44" width="6.86" height="4.39" fill="#efeff3"/><rect x="440.29" y="578.44" width="6.86" height="4.39" fill="#fad7b6"/><rect x="344.65" y="583.33" width="6.86" height="4.39" fill="#efeff3"/><rect x="352.01" y="583.33" width="6.86" height="4.39" fill="#fad7b6"/><rect x="359.36" y="583.33" width="6.86" height="4.39" fill="#efeff3"/><rect x="366.72" y="583.33" width="6.86" height="4.39" fill="#efeff3"/><rect x="374.08" y="583.33" width="6.86" height="4.39" fill="#efeff3"/><rect x="381.44" y="583.33" width="6.86" height="4.39" fill="#efeff3"/><rect x="388.79" y="583.33" width="6.86" height="4.39" fill="#efeff3"/><rect x="396.15" y="583.33" width="6.86" height="4.39" fill="#efeff3"/><rect x="403.51" y="583.33" width="6.86" height="4.39" fill="#c6e6c6"/><rect x="410.86" y="583.33" width="6.86" height="4.39" fill="#fad7b6"/><rect x="418.22" y="583.33" width="6.86" height="4.39" fill="#fad7b6"/><rect x="425.58" y="583.33" width="6.86" height="4.39" fill="#efeff3"/><rect x="432.94" y="583.33" width="6.86" height="4.39" fill="#efeff3"/><rect x="440.29" y="583.33" width="6.86" height="4.39" fill="#fad7b6"/><rect x="344.65" y="588.22" width="6.86" height="4.39" fill="#efeff3"/><rect x="352.01" y="588.22" width="6.86" height="4.39" fill="#fad7b6"/><rect x="359.36" y="588.22" width="6.86" height="4.39" fill="#efeff3"/><rect x="366.72" y="588.22" width="6.86" height="4.39" fill="#efeff3"/><rect x="374.08" y="588.22" width="6.86" height="4.39" fill="#efeff3"/><rect x="381.44" y="588.22" width="6.86" height="4.39" fill="#efeff3"/><rect x="388.79" y="588.22" width="6.86" height="4.39" fill="#efeff3"/><rect x="396.15" y="588.22" width="6.86" height="4.39" fill="#efeff3"/><rect x="403.51" y="588.22" width="6.86" height="4.39" fill="#efeff3"/><rect x="410.86" y="588.22" width="6.86" height="4.39" fill="#fad7b6"/><rect x="418.22" y="588.22" width="6.86" height="4.39" fill="#fad7b6"/><rect x="425.58" y="588.22" width="6.86" height="4.39" fill="#efeff3"/><rect x="432.94" y="588.22" width="6.86" height="4.39" fill="#efeff3"/><rect x="440.29" y="588.22" width="6.86" height="4.39" fill="#fad7b6"/><rect x="344.65" y="593.12" width="6.86" height="4.39" fill="#efeff3"/><rect x="352.01" y="593.12" width="6.86" height="4.39" fill="#efeff3"/><rect x="359.36" y="593.12" width="6.86" height="4.39" fill="#fad7b6"/><rect x="366.72" y="593.12" width="6.86" height="4.39" fill="#efeff3"/><rect x="374.08" y="593.12" width="6.86" height="4.39" fill="#efeff3"/><rect x="381.44" y="593.12" width="6.86" height="4.39" fill="#efeff3"/><rect x="388.79" y="593.12" width="6.86" height="4.39" fill="#efeff3"/><rect x="396.15" y="593.12" width="6.86" height="4.39" fill="#efeff3"/><rect x="403.51" y="593.12" width="6.86" height="4.39" fill="#efeff3"/><rect x="410.86" y="593.12" width="6.86" height="4.39" fill="#efeff3"/><rect x="418.22" y="593.12" width="6.86" height="4.39" fill="#efeff3"/><rect x="425.58" y="593.12" width="6.86" height="4.39" fill="#efeff3"/><rect x="432.94" y="593.12" width="6.86" height="4.39" fill="#efeff3"/><rect x="440.29" y="593.12" width="6.86" height="4.39" fill="#fad7b6"/><rect x="344.65" y="598.01" width="6.86" height="4.39" fill="#efeff3"/><rect x="352.01" y="598.01" width="6.86" height="4.39" fill="#efeff3"/><rect x="359.36" y="598.01" width="6.86" height="4.39" fill="#efeff3"/><rect x="366.72" y="598.01" width="6.86" height="4.39" fill="#efeff3"/><rect x="374.08" y="598.01" width="6.86" height="4.39" fill="#efeff3"/><rect x="381.44" y="598.01" width="6.86" height="4.39" fill="#efeff3"/><rect x="388.79" y="598.01" width="6.86" height="4.39" fill="#efeff3"/><rect x="396.15" y="598.01" width="6.86" height="4.39" fill="#efeff3"/><rect x="403.51" y="598.01" width="6.86" height="4.39" fill="#efeff3"/><rect x="410.86" y="598.01" width="6.86" height="4.39" fill="#efeff3"/><rect x="418.22" y="598.01" width="6.86" height="4.39" fill="#efeff3"/><rect x="425.58" y="598.01" width="6.86" height="4.39" fill="#efeff3"/><rect x="432.94" y="598.01" width="6.86" height="4.39" fill="#efeff3"/><rect x="440.29" y="598.01" width="6.86" height="4.39" fill="#fad7b6"/><rect x="344.65" y="602.9" width="6.86" height="4.39" fill="#efeff3"/><rect x="352.01" y="602.9" width="6.86" height="4.39" fill="#fad7b6"/><rect x="359.36" y="602.9" width="6.86" height="4.39" fill="#efeff3"/><rect x="366.72" y="602.9" width="6.86" height="4.39" fill="#efeff3"/><rect x="374.08" y="602.9" width="6.86" height="4.39" fill="#efeff3"/><rect x="381.44" y="602.9" width="6.86" height="4.39" fill="#efeff3"/><rect x="388.79" y="602.9" width="6.86" height="4.39" fill="#efeff3"/><rect x="396.15" y="602.9" width="6.86" height="4.39" fill="#efeff3"/><rect x="403.51" y="602.9" width="6.86" height="4.39" fill="#c6e6c6"/><rect x="410.86" y="602.9" width="6.86" height="4.39" fill="#fad7b6"/><rect x="418.22" y="602.9" width="6.86" height="4.39" fill="#efeff3"/><rect x="425.58" y="602.9" width="6.86" height="4.39" fill="#fad7b6"/><rect x="432.94" y="602.9" width="6.86" height="4.39" fill="#efeff3"/><rect x="440.29" y="602.9" width="6.86" height="4.39" fill="#fad7b6"/><rect x="344.65" y="607.79" width="6.86" height="4.39" fill="#efeff3"/><rect x="352.01" y="607.79" width="6.86" height="4.39" fill="#fad7b6"/><rect x="359.36" y="607.79" width="6.86" height="4.39" fill="#fad7b6"/><rect x="366.72" y="607.79" width="6.86" height="4.39" fill="#efeff3"/><rect x="374.08" y="607.79" width="6.86" height="4.39" fill="#efeff3"/><rect x="381.44" y="607.79" width="6.86" height="4.39" fill="#efeff3"/><rect x="388.79" y="607.79" width="6.86" height="4.39" fill="#efeff3"/><rect x="396.15" y="607.79" width="6.86" height="4.39" fill="#efeff3"/><rect x="403.51" y="607.79" width="6.86" height="4.39" fill="#c6e6c6"/><rect x="410.86" y="607.79" width="6.86" height="4.39" fill="#fad7b6"/><rect x="418.22" y="607.79" width="6.86" height="4.39" fill="#efeff3"/><rect x="425.58" y="607.79" width="6.86" height="4.39" fill="#efeff3"/><rect x="432.94" y="607.79" width="6.86" height="4.39" fill="#fad7b6"/><rect x="440.29" y="607.79" width="6.86" height="4.39" fill="#fad7b6"/><rect x="344.65" y="612.68" width="6.86" height="4.39" fill="#efeff3"/><rect x="352.01" y="612.68" width="6.86" height="4.39" fill="#efeff3"/><rect x="359.36" y="612.68" width="6.86" height="4.39" fill="#efeff3"/><rect x="366.72" y="612.68" width="6.86" height="4.39" fill="#efeff3"/><rect x="374.08" y="612.68" width="6.86" height="4.39" fill="#efeff3"/><rect x="381.44" y="612.68" width="6.86" height="4.39" fill="#efeff3"/><rect x="388.79" y="612.68" width="6.86" height="4.39" fill="#efeff3"/><rect x="396.15" y="612.68" width="6.86" height="4.39" fill="#c6e6c6"/><rect x="403.51" y="612.68" width="6.86" height="4.39" fill="#efeff3"/><rect x="410.86" y="612.68" width="6.86" height="4.39" fill="#f6b57a"/><rect x="418.22" y="612.68" width="6.86" height="4.39" fill="#f6b57a"/><rect x="425.58" y="612.68" width="6.86" height="4.39" fill="#efeff3"/><rect x="432.94" y="612.68" width="6.86" height="4.39" fill="#f6b57a"/><rect x="440.29" y="612.68" width="6.86" height="4.39" fill="#fad7b6"/><rect x="344.65" y="617.57" width="6.86" height="4.39" fill="#efeff3"/><rect x="352.01" y="617.57" width="6.86" height="4.39" fill="#fad7b6"/><rect x="359.36" y="617.57" width="6.86" height="4.39" fill="#efeff3"/><rect x="366.72" y="617.57" width="6.86" height="4.39" fill="#efeff3"/><rect x="374.08" y="617.57" width="6.86" height="4.39" fill="#efeff3"/><rect x="381.44" y="617.57" width="6.86" height="4.39" fill="#efeff3"/><rect x="388.79" y="617.57" width="6.86" height="4.39" fill="#efeff3"/><rect x="396.15" y="617.57" width="6.86" height="4.39" fill="#efeff3"/><rect x="403.51" y="617.57" width="6.86" height="4.39" fill="#efeff3"/><rect x="410.86" y="617.57" width="6.86" height="4.39" fill="#f6b57a"/><rect x="418.22" y="617.57" width="6.86" height="4.39" fill="#f6b57a"/><rect x="425.58" y="617.57" width="6.86" height="4.39" fill="#fad7b6"/><rect x="432.94" y="617.57" width="6.86" height="4.39" fill="#fad7b6"/><rect x="440.29" y="617.57" width="6.86" height="4.39" fill="#f6b57a"/><rect x="344.65" y="622.47" width="6.86" height="4.39" fill="#efeff3"/><rect x="352.01" y="622.47" width="6.86" height="4.39" fill="#f6b57a"/><rect x="359.36" y="622.47" width="6.86" height="4.39" fill="#efeff3"/><rect x="366.72" y="622.47" width="6.86" height="4.39" fill="#efeff3"/><rect x="374.08" y="622.47" width="6.86" height="4.39" fill="#efeff3"/><rect x="381.44" y="622.47" width="6.86" height="4.39" fill="#efeff3"/><rect x="388.79" y="622.47" width="6.86" height="4.39" fill="#efeff3"/><rect x="396.15" y="622.47" width="6.86" height="4.39" fill="#efeff3"/><rect x="403.51" y="622.47" width="6.86" height="4.39" fill="#efeff3"/><rect x="410.86" y="622.47" width="6.86" height="4.39" fill="#f6b57a"/><rect x="418.22" y="622.47" width="6.86" height="4.39" fill="#f08a22"/><rect x="425.58" y="622.47" width="6.86" height="4.39" fill="#fad7b6"/><rect x="432.94" y="622.47" width="6.86" height="4.39" fill="#fad7b6"/><rect x="440.29" y="622.47" width="6.86" height="4.39" fill="#fad7b6"/><rect x="344.65" y="627.36" width="6.86" height="4.39" fill="#c6e6c6"/><rect x="352.01" y="627.36" width="6.86" height="4.39" fill="#f6b57a"/><rect x="359.36" y="627.36" width="6.86" height="4.39" fill="#efeff3"/><rect x="366.72" y="627.36" width="6.86" height="4.39" fill="#fad7b6"/><rect x="374.08" y="627.36" width="6.86" height="4.39" fill="#efeff3"/><rect x="381.44" y="627.36" width="6.86" height="4.39" fill="#efeff3"/><rect x="388.79" y="627.36" width="6.86" height="4.39" fill="#efeff3"/><rect x="396.15" y="627.36" width="6.86" height="4.39" fill="#86c98c"/><rect x="403.51" y="627.36" width="6.86" height="4.39" fill="#c6e6c6"/><rect x="410.86" y="627.36" width="6.86" height="4.39" fill="#f6b57a"/><rect x="418.22" y="627.36" width="6.86" height="4.39" fill="#f6b57a"/><rect x="425.58" y="627.36" width="6.86" height="4.39" fill="#f6b57a"/><rect x="432.94" y="627.36" width="6.86" height="4.39" fill="#fad7b6"/><rect x="440.29" y="627.36" width="6.86" height="4.39" fill="#f6b57a"/></g>
<g class="dlab"><text x="448.2" y="337.6">Complement System</text><text x="448.2" y="342.49">Lymphocyte Trafficking</text><text x="448.2" y="347.38">Phagocytosis</text><text x="448.2" y="352.27">Lymphocyte Regulation</text><text x="448.2" y="357.16">MHC Class II Antigen Presentation</text><text x="448.2" y="362.05">Type II IFN Signaling</text><text x="448.2" y="366.95">T cells</text><text x="448.2" y="371.84">Other IL Signaling</text><text x="448.2" y="376.73">GPCR Signaling</text><text x="448.2" y="381.62">PPAR Signaling</text><text x="448.2" y="386.51">Vitamin &amp; Cofactor Metabolism</text><text x="448.2" y="391.41">TCR Signaling</text><text x="448.2" y="396.3">NK Activity</text><text x="448.2" y="401.19">Cytotoxicity</text><text x="448.2" y="406.08">Immune Exhaustion</text><text x="448.2" y="410.97">T-cell Checkpoints</text><text x="448.2" y="415.86">NF-kB Signaling</text><text x="448.2" y="420.76">B cells</text><text x="448.2" y="425.65">Chemokine Signaling</text><text x="448.2" y="430.54">Th17 Differentiation</text><text x="448.2" y="435.43">TLR Signaling</text><text x="448.2" y="440.32">JAK-STAT Signaling</text><text x="448.2" y="445.22">Neutrophil Degranulation</text><text x="448.2" y="450.11">TNF Signaling</text><text x="448.2" y="455">Host Defense Peptides</text><text x="448.2" y="459.89">Endocytosis</text><text x="448.2" y="464.78">MHC Class I Antigen Presentation</text><text x="448.2" y="469.67">Type III Interferon Signaling</text><text x="448.2" y="474.57">Cancer Antigens</text><text x="448.2" y="479.46">Type I Interferon Signaling</text><text x="448.2" y="484.35">PDGF Signaling</text><text x="448.2" y="489.24">MET Signaling</text><text x="448.2" y="494.13">Cell Adhesion &amp; Motility</text><text x="448.2" y="499.03">Oxidative Stress</text><text x="448.2" y="503.92">EMT</text><text x="448.2" y="508.81">VEGF Signaling</text><text x="448.2" y="513.7">EGFR Signaling</text><text x="448.2" y="518.59">Immortality &amp; Stemness</text><text x="448.2" y="523.48">Epigenetic Modification</text><text x="448.2" y="528.38">RNA Processing</text><text x="448.2" y="533.27">Autophagy</text><text x="448.2" y="538.16">ERBB2 Signaling</text><text x="448.2" y="543.05">Glutamine Metabolism</text><text x="448.2" y="547.94">RAGE Signaling</text><text x="448.2" y="552.84">NO Signaling</text><text x="448.2" y="557.73">TGF-beta Signaling</text><text x="448.2" y="562.62">Glycolysis &amp; Glucose Transport</text><text x="448.2" y="567.51">Amino Acid Synthesis &amp; Transport</text><text x="448.2" y="572.4">mTOR Signaling</text><text x="448.2" y="577.29">HIF1 Signaling</text><text x="448.2" y="582.19">Interferon Response Genes</text><text x="448.2" y="587.08">Senescence</text><text x="448.2" y="591.97">p53 Signaling</text><text x="448.2" y="596.86">Differentiation</text><text x="448.2" y="601.75">Estrogen Signaling</text><text x="448.2" y="606.65">Hedgehog Signaling</text><text x="448.2" y="611.54">Notch Signaling</text><text x="448.2" y="616.43">DNA Damage Repair</text><text x="448.2" y="621.32">Wnt Signaling</text><text x="448.2" y="626.21">Mitochondrial Metabolism / TCA</text><text x="448.2" y="631.1">Cell Cycle</text></g>
<path d="M344 473.02H343.4V477.91H344M344 609.99H343.4V614.88H344M344 512.15H343.4V517.04H344M343.4 612.43H343V619.77H344M344 585.53H343.4V590.42H344M344 482.8H343.39V487.69H344M343.4 475.46H342.99V485.25H343.39M344 507.26H343V514.6H343.4M344 541.5H343.37V546.39H344M344 394.75H343.36V399.64H344M344 389.86H342.96V397.19H343.36M344 526.83H343.33V531.72H344M343 510.93H342.6V521.93H344M344 580.64H343V587.97H343.4M344 575.74H342.6V584.3H343M342.96 393.52H342.56V404.53H344M344 365.4H343.2V370.29H344M342.6 516.43H342.2V529.27H343.33M344 448.56H343.11V453.45H344M344 384.96H342.16V399.03H342.56M344 360.5H342.8V367.84H343.2M344 595.31H342.94V600.2H344M344 345.83H342.87V350.72H344M344 536.61H342.79V543.95H343.37M344 561.07H342.7V565.96H344M344 419.21H342.61V424.1H344M344 336.05H342.51V340.94H344M344 375.18H342.4V380.07H344M342.8 364.17H342V377.63H342.4M342.87 348.28H342.15V355.61H344M342.61 421.65H342.01V428.99H344M344 624.66H341.86V629.55H344M344 433.88H341.7V438.77H344M344 551.29H341.53V556.18H344M342.51 338.49H341.35V351.94H342.15M343 616.1H341.16V627.11H341.86M344 497.48H340.95V502.37H344M344 463.23H340.73V468.12H344M342.2 522.85H340.5V540.28H342.79M342.6 580.02H340.26V597.76H342.94M341.7 436.33H340V443.67H344M344 570.85H339.73V588.89H340.26M343.11 451H339.44V458.34H344M342.99 480.35H339.14V492.58H344M344 605.1H338.82V621.6H341.16M341.35 345.22H338.49V370.9H342M340.5 531.57H338.14V553.73H341.53M342.16 392H337.77V409.42H344M339.14 486.47H337.38V499.92H340.95M339.73 579.87H336.98V613.35H338.82M340 440H336.56V454.67H339.44M337.38 493.2H336.13V542.65H338.14M337.77 400.71H335.67V414.31H344M336.13 517.92H335.19V563.51H342.7M342.01 425.32H334.69V447.33H336.56M334.69 436.33H334.18V465.68H340.73M335.67 407.51H333.64V451H334.18M335.19 540.72H333.08V596.61H336.98M333.64 429.26H332.5V568.66H333.08M338.49 358.06H331.9V498.96H332.5" class="dg2"/>
<rect x="462" y="641" width="4.9" height="26" fill="url(#gD)"/>
<text x="467.8" y="644.6" class="cbl">5</text><text x="467.8" y="656.4" class="cbl">0</text><text x="467.8" y="668.4" class="cbl">−5</text>
<text x="476" y="656.6" class="cbt2">−log<tspan font-size="3.6" dy="1.2">10</tspan><tspan dy="-1.2" font-style="italic"> P</tspan><tspan font-size="3.6" dy="1.4">adj</tspan></text></svg><div id="hm"><div class="hr" style="top:252.3px;height:3.1px;background:linear-gradient(90deg,#dcd6ee 4.77px,#dcd6ee 0 9.54px,#b4acda 0 14.31px,#f4eef0 0 19.07px,#f4eef0 0 23.84px,#f8ccbe 0 28.61px,#f4eef0 0 33.38px,#f4eef0 0 38.15px,#dcd6ee 0 42.92px,#dcd6ee 0 47.69px,#dcd6ee 0 52.46px,#6c68bc 0 57.22px,#f8ccbe 0 61.99px,#f8ccbe 0 66.76px,#f8ccbe 0 71.53px,#f4eef0 0 76.3px,#f4a48c 0 81.07px,#f4a48c 0 85.84px,#dcd6ee 0 90.61px,#f8ccbe 0 95.38px,#f4a48c 0 100.14px,#f4a48c 0 104.91px,#f8ccbe 0 109.68px,#dcd6ee 0 114.45px,#dcd6ee 0 119.22px,#dcd6ee 0 123.99px,#f8ccbe 0 128.76px,#dcd6ee 0 133.53px,#f8ccbe 0 138.29px,#dcd6ee 0 143.06px,#f4eef0 0 147.83px,#dcd6ee 0 152.6px,#b4acda 0 157.37px,#dcd6ee 0 162.14px,#f8ccbe 0 166.91px,#f8ccbe 0 171.67px,#f8ccbe 0 176.44px,#f8ccbe 0 181.21px,#da2620 0 185.98px,#ec5c42 0 190.75px,#f8ccbe 0 195.52px,#ec5c42 0 200.29px,#ec5c42 0 205.06px,#dcd6ee 0 209.82px,#dcd6ee 0 214.59px,#dcd6ee 0 219.36px,#dcd6ee 0 224.13px,#dcd6ee 0)"></div><div class="hr" style="top:255.36px;height:3.1px;background:linear-gradient(90deg,#f4a48c 4.77px,#f4a48c 0 9.54px,#f4eef0 0 14.31px,#f4eef0 0 19.07px,#ec5c42 0 23.84px,#ec5c42 0 28.61px,#f4a48c 0 33.38px,#f8ccbe 0 38.15px,#f8ccbe 0 42.92px,#f4eef0 0 47.69px,#dcd6ee 0 52.46px,#dcd6ee 0 57.22px,#f4a48c 0 61.99px,#f4a48c 0 66.76px,#f8ccbe 0 71.53px,#dcd6ee 0 76.3px,#f4a48c 0 81.07px,#f4a48c 0 85.84px,#f4a48c 0 90.61px,#f4a48c 0 95.38px,#f8ccbe 0 100.14px,#ec5c42 0 104.91px,#dcd6ee 0 109.68px,#f8ccbe 0 114.45px,#f8ccbe 0 119.22px,#3a46a8 0 123.99px,#ec5c42 0 128.76px,#6c68bc 0 133.53px,#f4a48c 0 138.29px,#dcd6ee 0 143.06px,#dcd6ee 0 147.83px,#f4eef0 0 152.6px,#dcd6ee 0 157.37px,#dcd6ee 0 162.14px,#f4eef0 0 166.91px,#f4eef0 0 171.67px,#6c68bc 0 176.44px,#6c68bc 0 181.21px,#6c68bc 0 185.98px,#b4acda 0 190.75px,#dcd6ee 0 195.52px,#dcd6ee 0 200.29px,#dcd6ee 0 205.06px,#dcd6ee 0 209.82px,#6c68bc 0 214.59px,#6c68bc 0 219.36px,#b4acda 0 224.13px,#b4acda 0)"></div><div class="hr" style="top:258.42px;height:3.1px;background:linear-gradient(90deg,#f8ccbe 4.77px,#f4eef0 0 9.54px,#3a46a8 0 14.31px,#f4eef0 0 19.07px,#f4eef0 0 23.84px,#f4eef0 0 28.61px,#f8ccbe 0 33.38px,#f8ccbe 0 38.15px,#f4eef0 0 42.92px,#f4eef0 0 47.69px,#dcd6ee 0 52.46px,#dcd6ee 0 57.22px,#f4a48c 0 61.99px,#f4a48c 0 66.76px,#f8ccbe 0 71.53px,#b4acda 0 76.3px,#f4a48c 0 81.07px,#f4a48c 0 85.84px,#f4a48c 0 90.61px,#f4a48c 0 95.38px,#f8ccbe 0 100.14px,#ec5c42 0 104.91px,#f8ccbe 0 109.68px,#f8ccbe 0 114.45px,#f4a48c 0 119.22px,#b4acda 0 123.99px,#ec5c42 0 128.76px,#dcd6ee 0 133.53px,#f8ccbe 0 138.29px,#dcd6ee 0 143.06px,#dcd6ee 0 147.83px,#dcd6ee 0 152.6px,#dcd6ee 0 157.37px,#f4eef0 0 162.14px,#dcd6ee 0 166.91px,#dcd6ee 0 171.67px,#dcd6ee 0 176.44px,#b4acda 0 181.21px,#6c68bc 0 185.98px,#b4acda 0 190.75px,#dcd6ee 0 195.52px,#dcd6ee 0 200.29px,#f8ccbe 0 205.06px,#f8ccbe 0 209.82px,#6c68bc 0 214.59px,#6c68bc 0 219.36px,#6c68bc 0 224.13px,#6c68bc 0)"></div><div class="hr" style="top:261.48px;height:3.1px;background:linear-gradient(90deg,#f4eef0 4.77px,#dcd6ee 0 9.54px,#f4eef0 0 14.31px,#f4a48c 0 19.07px,#f4eef0 0 23.84px,#f8ccbe 0 28.61px,#f8ccbe 0 33.38px,#f4eef0 0 38.15px,#ec5c42 0 42.92px,#da2620 0 47.69px,#f8ccbe 0 52.46px,#da2620 0 57.22px,#dcd6ee 0 61.99px,#b4acda 0 66.76px,#dcd6ee 0 71.53px,#f4eef0 0 76.3px,#f4a48c 0 81.07px,#f8ccbe 0 85.84px,#f4a48c 0 90.61px,#f8ccbe 0 95.38px,#f8ccbe 0 100.14px,#dcd6ee 0 104.91px,#f8ccbe 0 109.68px,#f4a48c 0 114.45px,#dcd6ee 0 119.22px,#dcd6ee 0 123.99px,#f8ccbe 0 128.76px,#f4a48c 0 133.53px,#b4acda 0 138.29px,#dcd6ee 0 143.06px,#b4acda 0 147.83px,#dcd6ee 0 152.6px,#f4eef0 0 157.37px,#dcd6ee 0 162.14px,#dcd6ee 0 166.91px,#b4acda 0 171.67px,#3a46a8 0 176.44px,#dcd6ee 0 181.21px,#f4a48c 0 185.98px,#f4a48c 0 190.75px,#f8ccbe 0 195.52px,#b4acda 0 200.29px,#b4acda 0 205.06px,#f4a48c 0 209.82px,#f4a48c 0 214.59px,#f4a48c 0 219.36px,#dcd6ee 0 224.13px,#3a46a8 0)"></div><div class="hr" style="top:264.54px;height:3.1px;background:linear-gradient(90deg,#f4eef0 4.77px,#f4eef0 0 9.54px,#dcd6ee 0 14.31px,#f4a48c 0 19.07px,#f4eef0 0 23.84px,#f4a48c 0 28.61px,#f8ccbe 0 33.38px,#f4eef0 0 38.15px,#ec5c42 0 42.92px,#ec5c42 0 47.69px,#f4a48c 0 52.46px,#f8ccbe 0 57.22px,#f4eef0 0 61.99px,#dcd6ee 0 66.76px,#dcd6ee 0 71.53px,#f8ccbe 0 76.3px,#b4acda 0 81.07px,#dcd6ee 0 85.84px,#f8ccbe 0 90.61px,#f8ccbe 0 95.38px,#dcd6ee 0 100.14px,#b4acda 0 104.91px,#dcd6ee 0 109.68px,#f8ccbe 0 114.45px,#f4eef0 0 119.22px,#f4eef0 0 123.99px,#dcd6ee 0 128.76px,#ec5c42 0 133.53px,#dcd6ee 0 138.29px,#b4acda 0 143.06px,#b4acda 0 147.83px,#dcd6ee 0 152.6px,#dcd6ee 0 157.37px,#f4eef0 0 162.14px,#b4acda 0 166.91px,#b4acda 0 171.67px,#6c68bc 0 176.44px,#dcd6ee 0 181.21px,#f4a48c 0 185.98px,#f4a48c 0 190.75px,#6c68bc 0 195.52px,#dcd6ee 0 200.29px,#b4acda 0 205.06px,#f4a48c 0 209.82px,#f8ccbe 0 214.59px,#dcd6ee 0 219.36px,#b4acda 0 224.13px,#3a46a8 0)"></div><div class="hr" style="top:267.59px;height:3.1px;background:linear-gradient(90deg,#f4a48c 4.77px,#ec5c42 0 9.54px,#dcd6ee 0 14.31px,#f4a48c 0 19.07px,#f4eef0 0 23.84px,#f4a48c 0 28.61px,#f8ccbe 0 33.38px,#f4eef0 0 38.15px,#ec5c42 0 42.92px,#ec5c42 0 47.69px,#f4a48c 0 52.46px,#f4eef0 0 57.22px,#f4a48c 0 61.99px,#f4a48c 0 66.76px,#f8ccbe 0 71.53px,#f8ccbe 0 76.3px,#dcd6ee 0 81.07px,#f4eef0 0 85.84px,#ec5c42 0 90.61px,#f4a48c 0 95.38px,#f4eef0 0 100.14px,#dcd6ee 0 104.91px,#f8ccbe 0 109.68px,#f4a48c 0 114.45px,#f4eef0 0 119.22px,#b4acda 0 123.99px,#6c68bc 0 128.76px,#ec5c42 0 133.53px,#b4acda 0 138.29px,#6c68bc 0 143.06px,#b4acda 0 147.83px,#dcd6ee 0 152.6px,#dcd6ee 0 157.37px,#dcd6ee 0 162.14px,#dcd6ee 0 166.91px,#b4acda 0 171.67px,#6c68bc 0 176.44px,#b4acda 0 181.21px,#f4a48c 0 185.98px,#f4a48c 0 190.75px,#6c68bc 0 195.52px,#dcd6ee 0 200.29px,#b4acda 0 205.06px,#dcd6ee 0 209.82px,#f8ccbe 0 214.59px,#6c68bc 0 219.36px,#dcd6ee 0 224.13px,#6c68bc 0)"></div><div class="hr" style="top:270.65px;height:3.1px;background:linear-gradient(90deg,#dcd6ee 4.77px,#dcd6ee 0 9.54px,#b4acda 0 14.31px,#f4a48c 0 19.07px,#f4eef0 0 23.84px,#f4eef0 0 28.61px,#dcd6ee 0 33.38px,#dcd6ee 0 38.15px,#ec5c42 0 42.92px,#ec5c42 0 47.69px,#f4a48c 0 52.46px,#f8ccbe 0 57.22px,#f4eef0 0 61.99px,#f4eef0 0 66.76px,#f4eef0 0 71.53px,#f4a48c 0 76.3px,#dcd6ee 0 81.07px,#f4eef0 0 85.84px,#ec5c42 0 90.61px,#f4a48c 0 95.38px,#f4eef0 0 100.14px,#f4eef0 0 104.91px,#f4a48c 0 109.68px,#ec5c42 0 114.45px,#f8ccbe 0 119.22px,#dcd6ee 0 123.99px,#b4acda 0 128.76px,#ec5c42 0 133.53px,#b4acda 0 138.29px,#6c68bc 0 143.06px,#b4acda 0 147.83px,#b4acda 0 152.6px,#b4acda 0 157.37px,#b4acda 0 162.14px,#b4acda 0 166.91px,#b4acda 0 171.67px,#b4acda 0 176.44px,#b4acda 0 181.21px,#f8ccbe 0 185.98px,#f4a48c 0 190.75px,#6c68bc 0 195.52px,#b4acda 0 200.29px,#b4acda 0 205.06px,#f4a48c 0 209.82px,#f4a48c 0 214.59px,#b4acda 0 219.36px,#dcd6ee 0 224.13px,#b4acda 0)"></div><div class="hr" style="top:273.71px;height:3.1px;background:linear-gradient(90deg,#b4acda 4.77px,#f4eef0 0 9.54px,#dcd6ee 0 14.31px,#ec5c42 0 19.07px,#dcd6ee 0 23.84px,#b4acda 0 28.61px,#b4acda 0 33.38px,#b4acda 0 38.15px,#ec5c42 0 42.92px,#ec5c42 0 47.69px,#f4a48c 0 52.46px,#f4a48c 0 57.22px,#b4acda 0 61.99px,#b4acda 0 66.76px,#f4eef0 0 71.53px,#f4a48c 0 76.3px,#b4acda 0 81.07px,#f4eef0 0 85.84px,#ec5c42 0 90.61px,#f4a48c 0 95.38px,#dcd6ee 0 100.14px,#f4eef0 0 104.91px,#f4a48c 0 109.68px,#ec5c42 0 114.45px,#f8ccbe 0 119.22px,#f4eef0 0 123.99px,#b4acda 0 128.76px,#ec5c42 0 133.53px,#6c68bc 0 138.29px,#6c68bc 0 143.06px,#6c68bc 0 147.83px,#dcd6ee 0 152.6px,#f4eef0 0 157.37px,#f4eef0 0 162.14px,#b4acda 0 166.91px,#b4acda 0 171.67px,#6c68bc 0 176.44px,#b4acda 0 181.21px,#dcd6ee 0 185.98px,#dcd6ee 0 190.75px,#6c68bc 0 195.52px,#f8ccbe 0 200.29px,#b4acda 0 205.06px,#f4a48c 0 209.82px,#f4a48c 0 214.59px,#dcd6ee 0 219.36px,#f8ccbe 0 224.13px,#dcd6ee 0)"></div><div class="hr" style="top:276.77px;height:3.1px;background:linear-gradient(90deg,#b4acda 4.77px,#f4eef0 0 9.54px,#dcd6ee 0 14.31px,#f4a48c 0 19.07px,#b4acda 0 23.84px,#dcd6ee 0 28.61px,#dcd6ee 0 33.38px,#6c68bc 0 38.15px,#ec5c42 0 42.92px,#ec5c42 0 47.69px,#f4a48c 0 52.46px,#ec5c42 0 57.22px,#6c68bc 0 61.99px,#b4acda 0 66.76px,#f4eef0 0 71.53px,#f8ccbe 0 76.3px,#b4acda 0 81.07px,#f4eef0 0 85.84px,#ec5c42 0 90.61px,#f4a48c 0 95.38px,#dcd6ee 0 100.14px,#f8ccbe 0 104.91px,#f8ccbe 0 109.68px,#ec5c42 0 114.45px,#f8ccbe 0 119.22px,#f4eef0 0 123.99px,#b4acda 0 128.76px,#ec5c42 0 133.53px,#6c68bc 0 138.29px,#6c68bc 0 143.06px,#6c68bc 0 147.83px,#dcd6ee 0 152.6px,#f4eef0 0 157.37px,#f4eef0 0 162.14px,#b4acda 0 166.91px,#b4acda 0 171.67px,#f8ccbe 0 176.44px,#dcd6ee 0 181.21px,#f4a48c 0 185.98px,#f4a48c 0 190.75px,#6c68bc 0 195.52px,#b4acda 0 200.29px,#b4acda 0 205.06px,#f4a48c 0 209.82px,#f4a48c 0 214.59px,#b4acda 0 219.36px,#dcd6ee 0 224.13px,#dcd6ee 0)"></div><div class="hr" style="top:279.83px;height:3.1px;background:linear-gradient(90deg,#dcd6ee 4.77px,#f4eef0 0 9.54px,#f4eef0 0 14.31px,#ec5c42 0 19.07px,#f4eef0 0 23.84px,#f4eef0 0 28.61px,#f8ccbe 0 33.38px,#dcd6ee 0 38.15px,#ec5c42 0 42.92px,#da2620 0 47.69px,#f4a48c 0 52.46px,#ec5c42 0 57.22px,#dcd6ee 0 61.99px,#f4eef0 0 66.76px,#f4eef0 0 71.53px,#f8ccbe 0 76.3px,#dcd6ee 0 81.07px,#f8ccbe 0 85.84px,#ec5c42 0 90.61px,#f4a48c 0 95.38px,#dcd6ee 0 100.14px,#f4eef0 0 104.91px,#f4eef0 0 109.68px,#f4a48c 0 114.45px,#f8ccbe 0 119.22px,#dcd6ee 0 123.99px,#b4acda 0 128.76px,#ec5c42 0 133.53px,#6c68bc 0 138.29px,#6c68bc 0 143.06px,#6c68bc 0 147.83px,#dcd6ee 0 152.6px,#f4eef0 0 157.37px,#f4eef0 0 162.14px,#b4acda 0 166.91px,#b4acda 0 171.67px,#6c68bc 0 176.44px,#b4acda 0 181.21px,#f4a48c 0 185.98px,#f4a48c 0 190.75px,#6c68bc 0 195.52px,#b4acda 0 200.29px,#b4acda 0 205.06px,#f4a48c 0 209.82px,#f4a48c 0 214.59px,#dcd6ee 0 219.36px,#dcd6ee 0 224.13px,#dcd6ee 0)"></div><div class="hr" style="top:282.89px;height:3.1px;background:linear-gradient(90deg,#dcd6ee 4.77px,#f4eef0 0 9.54px,#f8ccbe 0 14.31px,#ec5c42 0 19.07px,#f4eef0 0 23.84px,#f8ccbe 0 28.61px,#dcd6ee 0 33.38px,#dcd6ee 0 38.15px,#ec5c42 0 42.92px,#ec5c42 0 47.69px,#f4a48c 0 52.46px,#f4a48c 0 57.22px,#dcd6ee 0 61.99px,#dcd6ee 0 66.76px,#f4eef0 0 71.53px,#f8ccbe 0 76.3px,#f4eef0 0 81.07px,#f4eef0 0 85.84px,#f4a48c 0 90.61px,#f4a48c 0 95.38px,#dcd6ee 0 100.14px,#f4eef0 0 104.91px,#f8ccbe 0 109.68px,#f4a48c 0 114.45px,#f8ccbe 0 119.22px,#b4acda 0 123.99px,#dcd6ee 0 128.76px,#ec5c42 0 133.53px,#b4acda 0 138.29px,#b4acda 0 143.06px,#6c68bc 0 147.83px,#b4acda 0 152.6px,#b4acda 0 157.37px,#dcd6ee 0 162.14px,#b4acda 0 166.91px,#b4acda 0 171.67px,#6c68bc 0 176.44px,#b4acda 0 181.21px,#f4a48c 0 185.98px,#f4a48c 0 190.75px,#6c68bc 0 195.52px,#dcd6ee 0 200.29px,#b4acda 0 205.06px,#f4a48c 0 209.82px,#f4a48c 0 214.59px,#dcd6ee 0 219.36px,#dcd6ee 0 224.13px,#dcd6ee 0)"></div><div class="hr" style="top:285.95px;height:3.1px;background:linear-gradient(90deg,#6c68bc 4.77px,#dcd6ee 0 9.54px,#b4acda 0 14.31px,#f4a48c 0 19.07px,#b4acda 0 23.84px,#b4acda 0 28.61px,#6c68bc 0 33.38px,#6c68bc 0 38.15px,#f4a48c 0 42.92px,#ec5c42 0 47.69px,#f8ccbe 0 52.46px,#f4a48c 0 57.22px,#b4acda 0 61.99px,#b4acda 0 66.76px,#dcd6ee 0 71.53px,#f8ccbe 0 76.3px,#b4acda 0 81.07px,#f4eef0 0 85.84px,#ec5c42 0 90.61px,#f4a48c 0 95.38px,#b4acda 0 100.14px,#f4eef0 0 104.91px,#f4a48c 0 109.68px,#ec5c42 0 114.45px,#f8ccbe 0 119.22px,#dcd6ee 0 123.99px,#dcd6ee 0 128.76px,#ec5c42 0 133.53px,#b4acda 0 138.29px,#6c68bc 0 143.06px,#b4acda 0 147.83px,#b4acda 0 152.6px,#b4acda 0 157.37px,#b4acda 0 162.14px,#b4acda 0 166.91px,#b4acda 0 171.67px,#dcd6ee 0 176.44px,#dcd6ee 0 181.21px,#f4a48c 0 185.98px,#f4a48c 0 190.75px,#dcd6ee 0 195.52px,#dcd6ee 0 200.29px,#6c68bc 0 205.06px,#f4a48c 0 209.82px,#f4a48c 0 214.59px,#f8ccbe 0 219.36px,#f4a48c 0 224.13px,#f4a48c 0)"></div><div class="hr" style="top:289.01px;height:3.1px;background:linear-gradient(90deg,#dcd6ee 4.77px,#f4eef0 0 9.54px,#f4eef0 0 14.31px,#f4a48c 0 19.07px,#f4eef0 0 23.84px,#f8ccbe 0 28.61px,#dcd6ee 0 33.38px,#dcd6ee 0 38.15px,#ec5c42 0 42.92px,#ec5c42 0 47.69px,#f8ccbe 0 52.46px,#f8ccbe 0 57.22px,#dcd6ee 0 61.99px,#b4acda 0 66.76px,#f4eef0 0 71.53px,#f8ccbe 0 76.3px,#dcd6ee 0 81.07px,#f8ccbe 0 85.84px,#ec5c42 0 90.61px,#f4a48c 0 95.38px,#dcd6ee 0 100.14px,#b4acda 0 104.91px,#ec5c42 0 109.68px,#da2620 0 114.45px,#f8ccbe 0 119.22px,#b4acda 0 123.99px,#dcd6ee 0 128.76px,#ec5c42 0 133.53px,#b4acda 0 138.29px,#6c68bc 0 143.06px,#b4acda 0 147.83px,#b4acda 0 152.6px,#f4eef0 0 157.37px,#f4eef0 0 162.14px,#b4acda 0 166.91px,#b4acda 0 171.67px,#dcd6ee 0 176.44px,#f8ccbe 0 181.21px,#f8ccbe 0 185.98px,#f4a48c 0 190.75px,#b4acda 0 195.52px,#b4acda 0 200.29px,#6c68bc 0 205.06px,#f4a48c 0 209.82px,#f4a48c 0 214.59px,#f4a48c 0 219.36px,#f4a48c 0 224.13px,#f4a48c 0)"></div><div class="hr" style="top:292.06px;height:3.1px;background:linear-gradient(90deg,#f4eef0 4.77px,#f4eef0 0 9.54px,#f4eef0 0 14.31px,#ec5c42 0 19.07px,#f4eef0 0 23.84px,#f8ccbe 0 28.61px,#f4eef0 0 33.38px,#f8ccbe 0 38.15px,#da2620 0 42.92px,#f4a48c 0 47.69px,#f4eef0 0 52.46px,#f8ccbe 0 57.22px,#f4eef0 0 61.99px,#f4eef0 0 66.76px,#f4eef0 0 71.53px,#f4a48c 0 76.3px,#b4acda 0 81.07px,#f4eef0 0 85.84px,#ec5c42 0 90.61px,#f4a48c 0 95.38px,#dcd6ee 0 100.14px,#dcd6ee 0 104.91px,#f8ccbe 0 109.68px,#ec5c42 0 114.45px,#f8ccbe 0 119.22px,#b4acda 0 123.99px,#b4acda 0 128.76px,#f4a48c 0 133.53px,#b4acda 0 138.29px,#b4acda 0 143.06px,#b4acda 0 147.83px,#dcd6ee 0 152.6px,#dcd6ee 0 157.37px,#dcd6ee 0 162.14px,#b4acda 0 166.91px,#b4acda 0 171.67px,#b4acda 0 176.44px,#dcd6ee 0 181.21px,#dcd6ee 0 185.98px,#dcd6ee 0 190.75px,#6c68bc 0 195.52px,#f8ccbe 0 200.29px,#b4acda 0 205.06px,#f4a48c 0 209.82px,#f4a48c 0 214.59px,#f4a48c 0 219.36px,#f4a48c 0 224.13px,#f8ccbe 0)"></div><div class="hr" style="top:295.12px;height:3.1px;background:linear-gradient(90deg,#dcd6ee 4.77px,#f4eef0 0 9.54px,#f4eef0 0 14.31px,#f4a48c 0 19.07px,#f4eef0 0 23.84px,#f8ccbe 0 28.61px,#f8ccbe 0 33.38px,#f4eef0 0 38.15px,#ec5c42 0 42.92px,#f4a48c 0 47.69px,#f8ccbe 0 52.46px,#f4a48c 0 57.22px,#b4acda 0 61.99px,#b4acda 0 66.76px,#f4eef0 0 71.53px,#f8ccbe 0 76.3px,#f4eef0 0 81.07px,#f8ccbe 0 85.84px,#f4a48c 0 90.61px,#da2620 0 95.38px,#dcd6ee 0 100.14px,#f4eef0 0 104.91px,#f4a48c 0 109.68px,#f4a48c 0 114.45px,#dcd6ee 0 119.22px,#6c68bc 0 123.99px,#6c68bc 0 128.76px,#ec5c42 0 133.53px,#3a46a8 0 138.29px,#b4acda 0 143.06px,#b4acda 0 147.83px,#b4acda 0 152.6px,#b4acda 0 157.37px,#b4acda 0 162.14px,#b4acda 0 166.91px,#b4acda 0 171.67px,#dcd6ee 0 176.44px,#f8ccbe 0 181.21px,#f8ccbe 0 185.98px,#dcd6ee 0 190.75px,#dcd6ee 0 195.52px,#dcd6ee 0 200.29px,#f8ccbe 0 205.06px,#f4a48c 0 209.82px,#f8ccbe 0 214.59px,#f8ccbe 0 219.36px,#f8ccbe 0 224.13px,#f8ccbe 0)"></div><div class="hr" style="top:298.18px;height:3.1px;background:linear-gradient(90deg,#b4acda 4.77px,#f4eef0 0 9.54px,#f4eef0 0 14.31px,#f4a48c 0 19.07px,#f4eef0 0 23.84px,#f4a48c 0 28.61px,#f8ccbe 0 33.38px,#f4eef0 0 38.15px,#ec5c42 0 42.92px,#ec5c42 0 47.69px,#f4a48c 0 52.46px,#f4a48c 0 57.22px,#f4eef0 0 61.99px,#dcd6ee 0 66.76px,#f4eef0 0 71.53px,#f8ccbe 0 76.3px,#f8ccbe 0 81.07px,#f4eef0 0 85.84px,#f8ccbe 0 90.61px,#f4a48c 0 95.38px,#f4eef0 0 100.14px,#ec5c42 0 104.91px,#f8ccbe 0 109.68px,#f4eef0 0 114.45px,#b4acda 0 119.22px,#b4acda 0 123.99px,#f4eef0 0 128.76px,#f4eef0 0 133.53px,#b4acda 0 138.29px,#b4acda 0 143.06px,#b4acda 0 147.83px,#b4acda 0 152.6px,#b4acda 0 157.37px,#dcd6ee 0 162.14px,#b4acda 0 166.91px,#b4acda 0 171.67px,#6c68bc 0 176.44px,#dcd6ee 0 181.21px,#da2620 0 185.98px,#da2620 0 190.75px,#dcd6ee 0 195.52px,#dcd6ee 0 200.29px,#dcd6ee 0 205.06px,#f8ccbe 0 209.82px,#f4a48c 0 214.59px,#dcd6ee 0 219.36px,#dcd6ee 0 224.13px,#dcd6ee 0)"></div><div class="hr" style="top:301.24px;height:3.1px;background:linear-gradient(90deg,#dcd6ee 4.77px,#f8ccbe 0 9.54px,#f4a48c 0 14.31px,#ec5c42 0 19.07px,#f8ccbe 0 23.84px,#f8ccbe 0 28.61px,#ec5c42 0 33.38px,#f8ccbe 0 38.15px,#ec5c42 0 42.92px,#da2620 0 47.69px,#ec5c42 0 52.46px,#ec5c42 0 57.22px,#f4a48c 0 61.99px,#f4a48c 0 66.76px,#f8ccbe 0 71.53px,#f8ccbe 0 76.3px,#f8ccbe 0 81.07px,#f8ccbe 0 85.84px,#f8ccbe 0 90.61px,#f8ccbe 0 95.38px,#f8ccbe 0 100.14px,#f4a48c 0 104.91px,#f4a48c 0 109.68px,#f8ccbe 0 114.45px,#dcd6ee 0 119.22px,#dcd6ee 0 123.99px,#dcd6ee 0 128.76px,#dcd6ee 0 133.53px,#dcd6ee 0 138.29px,#dcd6ee 0 143.06px,#dcd6ee 0 147.83px,#dcd6ee 0 152.6px,#dcd6ee 0 157.37px,#dcd6ee 0 162.14px,#dcd6ee 0 166.91px,#dcd6ee 0 171.67px,#dcd6ee 0 176.44px,#b4acda 0 181.21px,#dcd6ee 0 185.98px,#b4acda 0 190.75px,#dcd6ee 0 195.52px,#dcd6ee 0 200.29px,#dcd6ee 0 205.06px,#dcd6ee 0 209.82px,#dcd6ee 0 214.59px,#dcd6ee 0 219.36px,#dcd6ee 0 224.13px,#dcd6ee 0)"></div><div class="hr" style="top:305.5px;height:3.41px;background:linear-gradient(90deg,#b4acda 4.77px,#b4acda 0 9.54px,#dcd6ee 0 14.31px,#f8ccbe 0 19.07px,#dcd6ee 0 23.84px,#b4acda 0 28.61px,#dcd6ee 0 33.38px,#b4acda 0 38.15px,#6c68bc 0 42.92px,#dcd6ee 0 47.69px,#f4a48c 0 52.46px,#ec5c42 0 57.22px,#b4acda 0 61.99px,#6c68bc 0 66.76px,#6c68bc 0 71.53px,#6c68bc 0 76.3px,#b4acda 0 81.07px,#b4acda 0 85.84px,#f8ccbe 0 90.61px,#f8ccbe 0 95.38px,#f8ccbe 0 100.14px,#dcd6ee 0 104.91px,#dcd6ee 0 109.68px,#b4acda 0 114.45px,#f8ccbe 0 119.22px,#f4a48c 0 123.99px,#dcd6ee 0 128.76px,#f8ccbe 0 133.53px,#dcd6ee 0 138.29px,#b4acda 0 143.06px,#ec5c42 0 147.83px,#dcd6ee 0 152.6px,#dcd6ee 0 157.37px,#b4acda 0 162.14px,#dcd6ee 0 166.91px,#dcd6ee 0 171.67px,#f4a48c 0 176.44px,#f4a48c 0 181.21px,#f4a48c 0 185.98px,#f8ccbe 0 190.75px,#dcd6ee 0 195.52px,#dcd6ee 0 200.29px,#b4acda 0 205.06px,#f8ccbe 0 209.82px,#f8ccbe 0 214.59px,#da2620 0 219.36px,#da2620 0 224.13px,#ec5c42 0)"></div><div class="hr" style="top:308.87px;height:3.41px;background:linear-gradient(90deg,#b4acda 4.77px,#dcd6ee 0 9.54px,#dcd6ee 0 14.31px,#f8ccbe 0 19.07px,#b4acda 0 23.84px,#6c68bc 0 28.61px,#6c68bc 0 33.38px,#6c68bc 0 38.15px,#f4a48c 0 42.92px,#ec5c42 0 47.69px,#ec5c42 0 52.46px,#ec5c42 0 57.22px,#b4acda 0 61.99px,#b4acda 0 66.76px,#f4eef0 0 71.53px,#f4eef0 0 76.3px,#b4acda 0 81.07px,#dcd6ee 0 85.84px,#ec5c42 0 90.61px,#f4a48c 0 95.38px,#f8ccbe 0 100.14px,#dcd6ee 0 104.91px,#f4a48c 0 109.68px,#ec5c42 0 114.45px,#dcd6ee 0 119.22px,#f8ccbe 0 123.99px,#b4acda 0 128.76px,#ec5c42 0 133.53px,#6c68bc 0 138.29px,#6c68bc 0 143.06px,#6c68bc 0 147.83px,#b4acda 0 152.6px,#b4acda 0 157.37px,#b4acda 0 162.14px,#6c68bc 0 166.91px,#6c68bc 0 171.67px,#dcd6ee 0 176.44px,#dcd6ee 0 181.21px,#dcd6ee 0 185.98px,#dcd6ee 0 190.75px,#b4acda 0 195.52px,#b4acda 0 200.29px,#dcd6ee 0 205.06px,#f4a48c 0 209.82px,#ec5c42 0 214.59px,#f8ccbe 0 219.36px,#f4a48c 0 224.13px,#f4a48c 0)"></div><div class="hr" style="top:312.24px;height:3.41px;background:linear-gradient(90deg,#dcd6ee 4.77px,#dcd6ee 0 9.54px,#dcd6ee 0 14.31px,#f8ccbe 0 19.07px,#dcd6ee 0 23.84px,#b4acda 0 28.61px,#b4acda 0 33.38px,#dcd6ee 0 38.15px,#ec5c42 0 42.92px,#f4a48c 0 47.69px,#f4a48c 0 52.46px,#f4a48c 0 57.22px,#dcd6ee 0 61.99px,#b4acda 0 66.76px,#f4eef0 0 71.53px,#f4eef0 0 76.3px,#b4acda 0 81.07px,#f8ccbe 0 85.84px,#ec5c42 0 90.61px,#f4a48c 0 95.38px,#f8ccbe 0 100.14px,#b4acda 0 104.91px,#f4a48c 0 109.68px,#ec5c42 0 114.45px,#dcd6ee 0 119.22px,#f8ccbe 0 123.99px,#b4acda 0 128.76px,#ec5c42 0 133.53px,#6c68bc 0 138.29px,#b4acda 0 143.06px,#6c68bc 0 147.83px,#dcd6ee 0 152.6px,#dcd6ee 0 157.37px,#dcd6ee 0 162.14px,#b4acda 0 166.91px,#6c68bc 0 171.67px,#b4acda 0 176.44px,#dcd6ee 0 181.21px,#f8ccbe 0 185.98px,#f8ccbe 0 190.75px,#6c68bc 0 195.52px,#6c68bc 0 200.29px,#6c68bc 0 205.06px,#f4a48c 0 209.82px,#f4a48c 0 214.59px,#f8ccbe 0 219.36px,#f8ccbe 0 224.13px,#f8ccbe 0)"></div><div class="hr" style="top:315.61px;height:3.41px;background:linear-gradient(90deg,#dcd6ee 4.77px,#dcd6ee 0 9.54px,#b4acda 0 14.31px,#f4a48c 0 19.07px,#b4acda 0 23.84px,#b4acda 0 28.61px,#b4acda 0 33.38px,#b4acda 0 38.15px,#da2620 0 42.92px,#da2620 0 47.69px,#f4a48c 0 52.46px,#f4a48c 0 57.22px,#dcd6ee 0 61.99px,#dcd6ee 0 66.76px,#f4eef0 0 71.53px,#f8ccbe 0 76.3px,#6c68bc 0 81.07px,#dcd6ee 0 85.84px,#ec5c42 0 90.61px,#f4a48c 0 95.38px,#f8ccbe 0 100.14px,#f4eef0 0 104.91px,#dcd6ee 0 109.68px,#ec5c42 0 114.45px,#b4acda 0 119.22px,#f8ccbe 0 123.99px,#6c68bc 0 128.76px,#f4a48c 0 133.53px,#6c68bc 0 138.29px,#6c68bc 0 143.06px,#b4acda 0 147.83px,#b4acda 0 152.6px,#b4acda 0 157.37px,#b4acda 0 162.14px,#b4acda 0 166.91px,#b4acda 0 171.67px,#dcd6ee 0 176.44px,#6c68bc 0 181.21px,#6c68bc 0 185.98px,#dcd6ee 0 190.75px,#b4acda 0 195.52px,#b4acda 0 200.29px,#dcd6ee 0 205.06px,#f4a48c 0 209.82px,#ec5c42 0 214.59px,#f4a48c 0 219.36px,#f4a48c 0 224.13px,#f4a48c 0)"></div><div class="hr" style="top:318.98px;height:3.41px;background:linear-gradient(90deg,#f4eef0 4.77px,#f4eef0 0 9.54px,#f4eef0 0 14.31px,#ec5c42 0 19.07px,#dcd6ee 0 23.84px,#dcd6ee 0 28.61px,#dcd6ee 0 33.38px,#b4acda 0 38.15px,#ec5c42 0 42.92px,#f4a48c 0 47.69px,#f4a48c 0 52.46px,#f8ccbe 0 57.22px,#dcd6ee 0 61.99px,#dcd6ee 0 66.76px,#dcd6ee 0 71.53px,#f4eef0 0 76.3px,#6c68bc 0 81.07px,#f8ccbe 0 85.84px,#f8ccbe 0 90.61px,#f4a48c 0 95.38px,#dcd6ee 0 100.14px,#dcd6ee 0 104.91px,#f4eef0 0 109.68px,#ec5c42 0 114.45px,#dcd6ee 0 119.22px,#dcd6ee 0 123.99px,#b4acda 0 128.76px,#da2620 0 133.53px,#b4acda 0 138.29px,#b4acda 0 143.06px,#b4acda 0 147.83px,#b4acda 0 152.6px,#b4acda 0 157.37px,#b4acda 0 162.14px,#b4acda 0 166.91px,#b4acda 0 171.67px,#f4a48c 0 176.44px,#f4a48c 0 181.21px,#f8ccbe 0 185.98px,#dcd6ee 0 190.75px,#b4acda 0 195.52px,#dcd6ee 0 200.29px,#6c68bc 0 205.06px,#f8ccbe 0 209.82px,#f8ccbe 0 214.59px,#f4a48c 0 219.36px,#f4a48c 0 224.13px,#f4a48c 0)"></div><div class="hr" style="top:322.35px;height:3.41px;background:linear-gradient(90deg,#dcd6ee 4.77px,#f4eef0 0 9.54px,#f8ccbe 0 14.31px,#da2620 0 19.07px,#dcd6ee 0 23.84px,#dcd6ee 0 28.61px,#b4acda 0 33.38px,#dcd6ee 0 38.15px,#dcd6ee 0 42.92px,#f4a48c 0 47.69px,#f8ccbe 0 52.46px,#f8ccbe 0 57.22px,#6c68bc 0 61.99px,#6c68bc 0 66.76px,#dcd6ee 0 71.53px,#ec5c42 0 76.3px,#dcd6ee 0 81.07px,#dcd6ee 0 85.84px,#f8ccbe 0 90.61px,#f8ccbe 0 95.38px,#f8ccbe 0 100.14px,#b4acda 0 104.91px,#dcd6ee 0 109.68px,#da2620 0 114.45px,#dcd6ee 0 119.22px,#dcd6ee 0 123.99px,#dcd6ee 0 128.76px,#f4a48c 0 133.53px,#b4acda 0 138.29px,#dcd6ee 0 143.06px,#b4acda 0 147.83px,#b4acda 0 152.6px,#b4acda 0 157.37px,#b4acda 0 162.14px,#6c68bc 0 166.91px,#6c68bc 0 171.67px,#f8ccbe 0 176.44px,#dcd6ee 0 181.21px,#dcd6ee 0 185.98px,#f4a48c 0 190.75px,#f8ccbe 0 195.52px,#dcd6ee 0 200.29px,#b4acda 0 205.06px,#f4a48c 0 209.82px,#f4a48c 0 214.59px,#ec5c42 0 219.36px,#ec5c42 0 224.13px,#da2620 0)"></div><div class="hr" style="top:325.72px;height:3.41px;background:linear-gradient(90deg,#b4acda 4.77px,#dcd6ee 0 9.54px,#dcd6ee 0 14.31px,#f8ccbe 0 19.07px,#b4acda 0 23.84px,#6c68bc 0 28.61px,#6c68bc 0 33.38px,#6c68bc 0 38.15px,#f4a48c 0 42.92px,#ec5c42 0 47.69px,#f8ccbe 0 52.46px,#f8ccbe 0 57.22px,#dcd6ee 0 61.99px,#dcd6ee 0 66.76px,#f8ccbe 0 71.53px,#dcd6ee 0 76.3px,#dcd6ee 0 81.07px,#f8ccbe 0 85.84px,#ec5c42 0 90.61px,#f8ccbe 0 95.38px,#f8ccbe 0 100.14px,#6c68bc 0 104.91px,#f8ccbe 0 109.68px,#ec5c42 0 114.45px,#f8ccbe 0 119.22px,#f8ccbe 0 123.99px,#dcd6ee 0 128.76px,#f4a48c 0 133.53px,#b4acda 0 138.29px,#b4acda 0 143.06px,#6c68bc 0 147.83px,#dcd6ee 0 152.6px,#dcd6ee 0 157.37px,#b4acda 0 162.14px,#b4acda 0 166.91px,#b4acda 0 171.67px,#b4acda 0 176.44px,#dcd6ee 0 181.21px,#dcd6ee 0 185.98px,#dcd6ee 0 190.75px,#b4acda 0 195.52px,#f8ccbe 0 200.29px,#dcd6ee 0 205.06px,#f4a48c 0 209.82px,#f4a48c 0 214.59px,#f4a48c 0 219.36px,#dcd6ee 0 224.13px,#dcd6ee 0)"></div><div class="hr" style="top:329.08px;height:3.41px;background:linear-gradient(90deg,#dcd6ee 4.77px,#6c68bc 0 9.54px,#dcd6ee 0 14.31px,#f4eef0 0 19.07px,#dcd6ee 0 23.84px,#dcd6ee 0 28.61px,#b4acda 0 33.38px,#6c68bc 0 38.15px,#ec5c42 0 42.92px,#ec5c42 0 47.69px,#f4a48c 0 52.46px,#dcd6ee 0 57.22px,#f4a48c 0 61.99px,#f4a48c 0 66.76px,#f4a48c 0 71.53px,#f8ccbe 0 76.3px,#dcd6ee 0 81.07px,#dcd6ee 0 85.84px,#da2620 0 90.61px,#ec5c42 0 95.38px,#f4a48c 0 100.14px,#dcd6ee 0 104.91px,#f8ccbe 0 109.68px,#da2620 0 114.45px,#dcd6ee 0 119.22px,#f8ccbe 0 123.99px,#dcd6ee 0 128.76px,#dcd6ee 0 133.53px,#dcd6ee 0 138.29px,#dcd6ee 0 143.06px,#b4acda 0 147.83px,#b4acda 0 152.6px,#b4acda 0 157.37px,#dcd6ee 0 162.14px,#dcd6ee 0 166.91px,#b4acda 0 171.67px,#6c68bc 0 176.44px,#6c68bc 0 181.21px,#b4acda 0 185.98px,#b4acda 0 190.75px,#6c68bc 0 195.52px,#b4acda 0 200.29px,#dcd6ee 0 205.06px,#dcd6ee 0 209.82px,#f8ccbe 0 214.59px,#6c68bc 0 219.36px,#6c68bc 0 224.13px,#b4acda 0)"></div><div class="hr" style="top:332.45px;height:3.41px;background:linear-gradient(90deg,#f8ccbe 4.77px,#f8ccbe 0 9.54px,#f8ccbe 0 14.31px,#f4a48c 0 19.07px,#f4eef0 0 23.84px,#f4eef0 0 28.61px,#dcd6ee 0 33.38px,#dcd6ee 0 38.15px,#f4a48c 0 42.92px,#ec5c42 0 47.69px,#f4a48c 0 52.46px,#f8ccbe 0 57.22px,#dcd6ee 0 61.99px,#dcd6ee 0 66.76px,#f8ccbe 0 71.53px,#f8ccbe 0 76.3px,#dcd6ee 0 81.07px,#f8ccbe 0 85.84px,#f4a48c 0 90.61px,#f4a48c 0 95.38px,#f8ccbe 0 100.14px,#f8ccbe 0 104.91px,#f8ccbe 0 109.68px,#da2620 0 114.45px,#b4acda 0 119.22px,#b4acda 0 123.99px,#dcd6ee 0 128.76px,#ec5c42 0 133.53px,#dcd6ee 0 138.29px,#f8ccbe 0 143.06px,#b4acda 0 147.83px,#dcd6ee 0 152.6px,#b4acda 0 157.37px,#b4acda 0 162.14px,#dcd6ee 0 166.91px,#dcd6ee 0 171.67px,#6c68bc 0 176.44px,#6c68bc 0 181.21px,#b4acda 0 185.98px,#b4acda 0 190.75px,#b4acda 0 195.52px,#dcd6ee 0 200.29px,#b4acda 0 205.06px,#f4a48c 0 209.82px,#dcd6ee 0 214.59px,#6c68bc 0 219.36px,#6c68bc 0 224.13px,#6c68bc 0)"></div><div class="hr" style="top:335.82px;height:3.41px;background:linear-gradient(90deg,#f8ccbe 4.77px,#f8ccbe 0 9.54px,#f4eef0 0 14.31px,#ec5c42 0 19.07px,#f4eef0 0 23.84px,#dcd6ee 0 28.61px,#dcd6ee 0 33.38px,#dcd6ee 0 38.15px,#f8ccbe 0 42.92px,#f4a48c 0 47.69px,#f8ccbe 0 52.46px,#f8ccbe 0 57.22px,#dcd6ee 0 61.99px,#dcd6ee 0 66.76px,#f8ccbe 0 71.53px,#da2620 0 76.3px,#dcd6ee 0 81.07px,#f8ccbe 0 85.84px,#f4a48c 0 90.61px,#f4a48c 0 95.38px,#f8ccbe 0 100.14px,#f8ccbe 0 104.91px,#dcd6ee 0 109.68px,#da2620 0 114.45px,#dcd6ee 0 119.22px,#dcd6ee 0 123.99px,#b4acda 0 128.76px,#ec5c42 0 133.53px,#dcd6ee 0 138.29px,#b4acda 0 143.06px,#dcd6ee 0 147.83px,#dcd6ee 0 152.6px,#dcd6ee 0 157.37px,#dcd6ee 0 162.14px,#dcd6ee 0 166.91px,#dcd6ee 0 171.67px,#b4acda 0 176.44px,#b4acda 0 181.21px,#6c68bc 0 185.98px,#b4acda 0 190.75px,#b4acda 0 195.52px,#b4acda 0 200.29px,#dcd6ee 0 205.06px,#f8ccbe 0 209.82px,#f4a48c 0 214.59px,#dcd6ee 0 219.36px,#dcd6ee 0 224.13px,#6c68bc 0)"></div><div class="hr" style="top:339.19px;height:3.41px;background:linear-gradient(90deg,#f8ccbe 4.77px,#dcd6ee 0 9.54px,#6c68bc 0 14.31px,#f8ccbe 0 19.07px,#f4eef0 0 23.84px,#dcd6ee 0 28.61px,#dcd6ee 0 33.38px,#f4eef0 0 38.15px,#da2620 0 42.92px,#ec5c42 0 47.69px,#f8ccbe 0 52.46px,#dcd6ee 0 57.22px,#dcd6ee 0 61.99px,#dcd6ee 0 66.76px,#dcd6ee 0 71.53px,#f8ccbe 0 76.3px,#6c68bc 0 81.07px,#dcd6ee 0 85.84px,#ec5c42 0 90.61px,#f8ccbe 0 95.38px,#f8ccbe 0 100.14px,#dcd6ee 0 104.91px,#f8ccbe 0 109.68px,#ec5c42 0 114.45px,#dcd6ee 0 119.22px,#dcd6ee 0 123.99px,#6c68bc 0 128.76px,#f4a48c 0 133.53px,#b4acda 0 138.29px,#dcd6ee 0 143.06px,#dcd6ee 0 147.83px,#f8ccbe 0 152.6px,#dcd6ee 0 157.37px,#dcd6ee 0 162.14px,#dcd6ee 0 166.91px,#b4acda 0 171.67px,#b4acda 0 176.44px,#dcd6ee 0 181.21px,#dcd6ee 0 185.98px,#b4acda 0 190.75px,#b4acda 0 195.52px,#b4acda 0 200.29px,#b4acda 0 205.06px,#f4a48c 0 209.82px,#f8ccbe 0 214.59px,#6c68bc 0 219.36px,#dcd6ee 0 224.13px,#6c68bc 0)"></div><div class="hr" style="top:342.56px;height:3.41px;background:linear-gradient(90deg,#dcd6ee 4.77px,#dcd6ee 0 9.54px,#dcd6ee 0 14.31px,#f4a48c 0 19.07px,#f4eef0 0 23.84px,#f4eef0 0 28.61px,#f8ccbe 0 33.38px,#f4eef0 0 38.15px,#ec5c42 0 42.92px,#ec5c42 0 47.69px,#f4a48c 0 52.46px,#f8ccbe 0 57.22px,#dcd6ee 0 61.99px,#dcd6ee 0 66.76px,#f8ccbe 0 71.53px,#f8ccbe 0 76.3px,#f8ccbe 0 81.07px,#f8ccbe 0 85.84px,#f8ccbe 0 90.61px,#f8ccbe 0 95.38px,#f8ccbe 0 100.14px,#f4a48c 0 104.91px,#f8ccbe 0 109.68px,#ec5c42 0 114.45px,#f8ccbe 0 119.22px,#f8ccbe 0 123.99px,#b4acda 0 128.76px,#ec5c42 0 133.53px,#6c68bc 0 138.29px,#b4acda 0 143.06px,#6c68bc 0 147.83px,#f8ccbe 0 152.6px,#f8ccbe 0 157.37px,#dcd6ee 0 162.14px,#b4acda 0 166.91px,#b4acda 0 171.67px,#b4acda 0 176.44px,#dcd6ee 0 181.21px,#f8ccbe 0 185.98px,#b4acda 0 190.75px,#6c68bc 0 195.52px,#b4acda 0 200.29px,#b4acda 0 205.06px,#f4a48c 0 209.82px,#f8ccbe 0 214.59px,#6c68bc 0 219.36px,#6c68bc 0 224.13px,#6c68bc 0)"></div><div class="hr" style="top:345.93px;height:3.41px;background:linear-gradient(90deg,#dcd6ee 4.77px,#dcd6ee 0 9.54px,#f8ccbe 0 14.31px,#f8ccbe 0 19.07px,#f8ccbe 0 23.84px,#f4a48c 0 28.61px,#f4a48c 0 33.38px,#f8ccbe 0 38.15px,#f8ccbe 0 42.92px,#ec5c42 0 47.69px,#ec5c42 0 52.46px,#f8ccbe 0 57.22px,#f8ccbe 0 61.99px,#f8ccbe 0 66.76px,#f8ccbe 0 71.53px,#f8ccbe 0 76.3px,#f4a48c 0 81.07px,#f8ccbe 0 85.84px,#f4a48c 0 90.61px,#f4a48c 0 95.38px,#f8ccbe 0 100.14px,#f4a48c 0 104.91px,#f4a48c 0 109.68px,#ec5c42 0 114.45px,#dcd6ee 0 119.22px,#dcd6ee 0 123.99px,#dcd6ee 0 128.76px,#dcd6ee 0 133.53px,#dcd6ee 0 138.29px,#dcd6ee 0 143.06px,#dcd6ee 0 147.83px,#dcd6ee 0 152.6px,#dcd6ee 0 157.37px,#dcd6ee 0 162.14px,#dcd6ee 0 166.91px,#dcd6ee 0 171.67px,#6c68bc 0 176.44px,#6c68bc 0 181.21px,#dcd6ee 0 185.98px,#dcd6ee 0 190.75px,#6c68bc 0 195.52px,#dcd6ee 0 200.29px,#dcd6ee 0 205.06px,#dcd6ee 0 209.82px,#dcd6ee 0 214.59px,#3a46a8 0 219.36px,#6c68bc 0 224.13px,#6c68bc 0)"></div><div class="hr" style="top:351.9px;height:3.32px;background:linear-gradient(90deg,#dcd6ee 4.77px,#dcd6ee 0 9.54px,#dcd6ee 0 14.31px,#f8ccbe 0 19.07px,#b4acda 0 23.84px,#dcd6ee 0 28.61px,#dcd6ee 0 33.38px,#b4acda 0 38.15px,#ec5c42 0 42.92px,#ec5c42 0 47.69px,#f8ccbe 0 52.46px,#dcd6ee 0 57.22px,#dcd6ee 0 61.99px,#dcd6ee 0 66.76px,#dcd6ee 0 71.53px,#f8ccbe 0 76.3px,#dcd6ee 0 81.07px,#f8ccbe 0 85.84px,#da2620 0 90.61px,#ec5c42 0 95.38px,#f8ccbe 0 100.14px,#dcd6ee 0 104.91px,#f8ccbe 0 109.68px,#da2620 0 114.45px,#b4acda 0 119.22px,#f8ccbe 0 123.99px,#b4acda 0 128.76px,#f4a48c 0 133.53px,#b4acda 0 138.29px,#b4acda 0 143.06px,#b4acda 0 147.83px,#dcd6ee 0 152.6px,#dcd6ee 0 157.37px,#dcd6ee 0 162.14px,#b4acda 0 166.91px,#b4acda 0 171.67px,#b4acda 0 176.44px,#b4acda 0 181.21px,#dcd6ee 0 185.98px,#dcd6ee 0 190.75px,#b4acda 0 195.52px,#b4acda 0 200.29px,#dcd6ee 0 205.06px,#dcd6ee 0 209.82px,#dcd6ee 0 214.59px,#dcd6ee 0 219.36px,#f8ccbe 0 224.13px,#dcd6ee 0)"></div><div class="hr" style="top:355.17px;height:3.32px;background:linear-gradient(90deg,#b4acda 4.77px,#dcd6ee 0 9.54px,#dcd6ee 0 14.31px,#f8ccbe 0 19.07px,#b4acda 0 23.84px,#dcd6ee 0 28.61px,#b4acda 0 33.38px,#b4acda 0 38.15px,#ec5c42 0 42.92px,#ec5c42 0 47.69px,#f8ccbe 0 52.46px,#f4a48c 0 57.22px,#b4acda 0 61.99px,#b4acda 0 66.76px,#dcd6ee 0 71.53px,#f4a48c 0 76.3px,#dcd6ee 0 81.07px,#dcd6ee 0 85.84px,#ec5c42 0 90.61px,#f4a48c 0 95.38px,#f8ccbe 0 100.14px,#dcd6ee 0 104.91px,#f8ccbe 0 109.68px,#f4a48c 0 114.45px,#dcd6ee 0 119.22px,#f8ccbe 0 123.99px,#6c68bc 0 128.76px,#f4a48c 0 133.53px,#6c68bc 0 138.29px,#6c68bc 0 143.06px,#6c68bc 0 147.83px,#f8ccbe 0 152.6px,#dcd6ee 0 157.37px,#ec5c42 0 162.14px,#b4acda 0 166.91px,#6c68bc 0 171.67px,#dcd6ee 0 176.44px,#dcd6ee 0 181.21px,#f8ccbe 0 185.98px,#f4a48c 0 190.75px,#b4acda 0 195.52px,#dcd6ee 0 200.29px,#dcd6ee 0 205.06px,#ec5c42 0 209.82px,#ec5c42 0 214.59px,#dcd6ee 0 219.36px,#f4a48c 0 224.13px,#f8ccbe 0)"></div><div class="hr" style="top:358.45px;height:3.32px;background:linear-gradient(90deg,#b4acda 4.77px,#f8ccbe 0 9.54px,#f4a48c 0 14.31px,#f4a48c 0 19.07px,#dcd6ee 0 23.84px,#dcd6ee 0 28.61px,#dcd6ee 0 33.38px,#b4acda 0 38.15px,#f8ccbe 0 42.92px,#ec5c42 0 47.69px,#f4a48c 0 52.46px,#da2620 0 57.22px,#b4acda 0 61.99px,#b4acda 0 66.76px,#dcd6ee 0 71.53px,#f8ccbe 0 76.3px,#dcd6ee 0 81.07px,#dcd6ee 0 85.84px,#f4a48c 0 90.61px,#ec5c42 0 95.38px,#f4a48c 0 100.14px,#dcd6ee 0 104.91px,#f8ccbe 0 109.68px,#f8ccbe 0 114.45px,#dcd6ee 0 119.22px,#dcd6ee 0 123.99px,#b4acda 0 128.76px,#f4a48c 0 133.53px,#6c68bc 0 138.29px,#6c68bc 0 143.06px,#dcd6ee 0 147.83px,#b4acda 0 152.6px,#b4acda 0 157.37px,#b4acda 0 162.14px,#b4acda 0 166.91px,#b4acda 0 171.67px,#dcd6ee 0 176.44px,#dcd6ee 0 181.21px,#f4a48c 0 185.98px,#ec5c42 0 190.75px,#6c68bc 0 195.52px,#dcd6ee 0 200.29px,#b4acda 0 205.06px,#b4acda 0 209.82px,#dcd6ee 0 214.59px,#f8ccbe 0 219.36px,#f8ccbe 0 224.13px,#f4a48c 0)"></div><div class="hr" style="top:361.72px;height:3.32px;background:linear-gradient(90deg,#b4acda 4.77px,#dcd6ee 0 9.54px,#f4a48c 0 14.31px,#f4a48c 0 19.07px,#dcd6ee 0 23.84px,#dcd6ee 0 28.61px,#b4acda 0 33.38px,#b4acda 0 38.15px,#ec5c42 0 42.92px,#da2620 0 47.69px,#f8ccbe 0 52.46px,#f8ccbe 0 57.22px,#dcd6ee 0 61.99px,#dcd6ee 0 66.76px,#dcd6ee 0 71.53px,#f4a48c 0 76.3px,#dcd6ee 0 81.07px,#f8ccbe 0 85.84px,#f8ccbe 0 90.61px,#da2620 0 95.38px,#f8ccbe 0 100.14px,#dcd6ee 0 104.91px,#f4a48c 0 109.68px,#f8ccbe 0 114.45px,#dcd6ee 0 119.22px,#dcd6ee 0 123.99px,#dcd6ee 0 128.76px,#f4a48c 0 133.53px,#dcd6ee 0 138.29px,#dcd6ee 0 143.06px,#dcd6ee 0 147.83px,#f8ccbe 0 152.6px,#dcd6ee 0 157.37px,#f8ccbe 0 162.14px,#dcd6ee 0 166.91px,#dcd6ee 0 171.67px,#dcd6ee 0 176.44px,#dcd6ee 0 181.21px,#f4a48c 0 185.98px,#f4a48c 0 190.75px,#dcd6ee 0 195.52px,#dcd6ee 0 200.29px,#b4acda 0 205.06px,#dcd6ee 0 209.82px,#dcd6ee 0 214.59px,#6c68bc 0 219.36px,#6c68bc 0 224.13px,#b4acda 0)"></div><div class="hr" style="top:365px;height:3.32px;background:linear-gradient(90deg,#dcd6ee 4.77px,#f4eef0 0 9.54px,#f8ccbe 0 14.31px,#dcd6ee 0 19.07px,#f4eef0 0 23.84px,#f4eef0 0 28.61px,#dcd6ee 0 33.38px,#dcd6ee 0 38.15px,#f8ccbe 0 42.92px,#f4a48c 0 47.69px,#f4a48c 0 52.46px,#b4acda 0 57.22px,#dcd6ee 0 61.99px,#dcd6ee 0 66.76px,#dcd6ee 0 71.53px,#f8ccbe 0 76.3px,#dcd6ee 0 81.07px,#f8ccbe 0 85.84px,#f8ccbe 0 90.61px,#f8ccbe 0 95.38px,#f8ccbe 0 100.14px,#dcd6ee 0 104.91px,#dcd6ee 0 109.68px,#f8ccbe 0 114.45px,#f8ccbe 0 119.22px,#dcd6ee 0 123.99px,#dcd6ee 0 128.76px,#f8ccbe 0 133.53px,#dcd6ee 0 138.29px,#dcd6ee 0 143.06px,#dcd6ee 0 147.83px,#dcd6ee 0 152.6px,#dcd6ee 0 157.37px,#dcd6ee 0 162.14px,#dcd6ee 0 166.91px,#dcd6ee 0 171.67px,#dcd6ee 0 176.44px,#dcd6ee 0 181.21px,#f4a48c 0 185.98px,#f4a48c 0 190.75px,#6c68bc 0 195.52px,#dcd6ee 0 200.29px,#f8ccbe 0 205.06px,#dcd6ee 0 209.82px,#f4a48c 0 214.59px,#6c68bc 0 219.36px,#dcd6ee 0 224.13px,#6c68bc 0)"></div><div class="hr" style="top:368.27px;height:3.32px;background:linear-gradient(90deg,#f8ccbe 4.77px,#f8ccbe 0 9.54px,#f4a48c 0 14.31px,#f4a48c 0 19.07px,#dcd6ee 0 23.84px,#dcd6ee 0 28.61px,#dcd6ee 0 33.38px,#dcd6ee 0 38.15px,#f8ccbe 0 42.92px,#f4a48c 0 47.69px,#f8ccbe 0 52.46px,#6c68bc 0 57.22px,#dcd6ee 0 61.99px,#dcd6ee 0 66.76px,#f8ccbe 0 71.53px,#f8ccbe 0 76.3px,#dcd6ee 0 81.07px,#dcd6ee 0 85.84px,#f4a48c 0 90.61px,#f4a48c 0 95.38px,#f8ccbe 0 100.14px,#dcd6ee 0 104.91px,#dcd6ee 0 109.68px,#dcd6ee 0 114.45px,#f8ccbe 0 119.22px,#dcd6ee 0 123.99px,#f8ccbe 0 128.76px,#f8ccbe 0 133.53px,#f8ccbe 0 138.29px,#f8ccbe 0 143.06px,#f8ccbe 0 147.83px,#f8ccbe 0 152.6px,#f8ccbe 0 157.37px,#f8ccbe 0 162.14px,#dcd6ee 0 166.91px,#dcd6ee 0 171.67px,#6c68bc 0 176.44px,#6c68bc 0 181.21px,#dcd6ee 0 185.98px,#f4a48c 0 190.75px,#dcd6ee 0 195.52px,#dcd6ee 0 200.29px,#f4a48c 0 205.06px,#f8ccbe 0 209.82px,#b4acda 0 214.59px,#6c68bc 0 219.36px,#6c68bc 0 224.13px,#6c68bc 0)"></div><div class="hr" style="top:371.55px;height:3.32px;background:linear-gradient(90deg,#f8ccbe 4.77px,#f8ccbe 0 9.54px,#b4acda 0 14.31px,#f8ccbe 0 19.07px,#dcd6ee 0 23.84px,#f4a48c 0 28.61px,#f8ccbe 0 33.38px,#f4eef0 0 38.15px,#f4a48c 0 42.92px,#f4a48c 0 47.69px,#dcd6ee 0 52.46px,#dcd6ee 0 57.22px,#f8ccbe 0 61.99px,#f8ccbe 0 66.76px,#f8ccbe 0 71.53px,#f4a48c 0 76.3px,#dcd6ee 0 81.07px,#f8ccbe 0 85.84px,#ec5c42 0 90.61px,#f4a48c 0 95.38px,#f8ccbe 0 100.14px,#f8ccbe 0 104.91px,#f8ccbe 0 109.68px,#ec5c42 0 114.45px,#f8ccbe 0 119.22px,#dcd6ee 0 123.99px,#f4a48c 0 128.76px,#f4a48c 0 133.53px,#f8ccbe 0 138.29px,#f8ccbe 0 143.06px,#dcd6ee 0 147.83px,#dcd6ee 0 152.6px,#dcd6ee 0 157.37px,#dcd6ee 0 162.14px,#dcd6ee 0 166.91px,#dcd6ee 0 171.67px,#6c68bc 0 176.44px,#6c68bc 0 181.21px,#b4acda 0 185.98px,#b4acda 0 190.75px,#b4acda 0 195.52px,#b4acda 0 200.29px,#dcd6ee 0 205.06px,#f8ccbe 0 209.82px,#dcd6ee 0 214.59px,#6c68bc 0 219.36px,#6c68bc 0 224.13px,#6c68bc 0)"></div><div class="hr" style="top:374.82px;height:3.32px;background:linear-gradient(90deg,#f8ccbe 4.77px,#f8ccbe 0 9.54px,#b4acda 0 14.31px,#f8ccbe 0 19.07px,#dcd6ee 0 23.84px,#f8ccbe 0 28.61px,#f8ccbe 0 33.38px,#dcd6ee 0 38.15px,#f8ccbe 0 42.92px,#ec5c42 0 47.69px,#f8ccbe 0 52.46px,#dcd6ee 0 57.22px,#f8ccbe 0 61.99px,#f8ccbe 0 66.76px,#f8ccbe 0 71.53px,#f4a48c 0 76.3px,#f8ccbe 0 81.07px,#f8ccbe 0 85.84px,#f4a48c 0 90.61px,#f8ccbe 0 95.38px,#f8ccbe 0 100.14px,#f8ccbe 0 104.91px,#f8ccbe 0 109.68px,#ec5c42 0 114.45px,#f8ccbe 0 119.22px,#dcd6ee 0 123.99px,#f4a48c 0 128.76px,#f4a48c 0 133.53px,#f8ccbe 0 138.29px,#f8ccbe 0 143.06px,#dcd6ee 0 147.83px,#dcd6ee 0 152.6px,#dcd6ee 0 157.37px,#dcd6ee 0 162.14px,#dcd6ee 0 166.91px,#dcd6ee 0 171.67px,#6c68bc 0 176.44px,#6c68bc 0 181.21px,#b4acda 0 185.98px,#b4acda 0 190.75px,#b4acda 0 195.52px,#b4acda 0 200.29px,#f8ccbe 0 205.06px,#dcd6ee 0 209.82px,#dcd6ee 0 214.59px,#6c68bc 0 219.36px,#6c68bc 0 224.13px,#6c68bc 0)"></div><div class="hr" style="top:378.1px;height:3.32px;background:linear-gradient(90deg,#f8ccbe 4.77px,#dcd6ee 0 9.54px,#b4acda 0 14.31px,#f8ccbe 0 19.07px,#dcd6ee 0 23.84px,#f8ccbe 0 28.61px,#f8ccbe 0 33.38px,#dcd6ee 0 38.15px,#ec5c42 0 42.92px,#da2620 0 47.69px,#f8ccbe 0 52.46px,#dcd6ee 0 57.22px,#f8ccbe 0 61.99px,#f8ccbe 0 66.76px,#f8ccbe 0 71.53px,#f8ccbe 0 76.3px,#dcd6ee 0 81.07px,#f8ccbe 0 85.84px,#da2620 0 90.61px,#f4a48c 0 95.38px,#f4a48c 0 100.14px,#f8ccbe 0 104.91px,#f8ccbe 0 109.68px,#ec5c42 0 114.45px,#dcd6ee 0 119.22px,#b4acda 0 123.99px,#f8ccbe 0 128.76px,#f8ccbe 0 133.53px,#b4acda 0 138.29px,#b4acda 0 143.06px,#b4acda 0 147.83px,#b4acda 0 152.6px,#dcd6ee 0 157.37px,#dcd6ee 0 162.14px,#b4acda 0 166.91px,#b4acda 0 171.67px,#6c68bc 0 176.44px,#6c68bc 0 181.21px,#dcd6ee 0 185.98px,#dcd6ee 0 190.75px,#b4acda 0 195.52px,#dcd6ee 0 200.29px,#f8ccbe 0 205.06px,#dcd6ee 0 209.82px,#dcd6ee 0 214.59px,#6c68bc 0 219.36px,#6c68bc 0 224.13px,#6c68bc 0)"></div><div class="hr" style="top:381.38px;height:3.32px;background:linear-gradient(90deg,#dcd6ee 4.77px,#f4eef0 0 9.54px,#dcd6ee 0 14.31px,#f8ccbe 0 19.07px,#f4eef0 0 23.84px,#f4a48c 0 28.61px,#f8ccbe 0 33.38px,#dcd6ee 0 38.15px,#f4a48c 0 42.92px,#f4a48c 0 47.69px,#f8ccbe 0 52.46px,#dcd6ee 0 57.22px,#dcd6ee 0 61.99px,#f8ccbe 0 66.76px,#f8ccbe 0 71.53px,#f4a48c 0 76.3px,#f8ccbe 0 81.07px,#f4a48c 0 85.84px,#f4a48c 0 90.61px,#f8ccbe 0 95.38px,#f4a48c 0 100.14px,#f8ccbe 0 104.91px,#f8ccbe 0 109.68px,#f4a48c 0 114.45px,#dcd6ee 0 119.22px,#6c68bc 0 123.99px,#dcd6ee 0 128.76px,#f8ccbe 0 133.53px,#b4acda 0 138.29px,#b4acda 0 143.06px,#dcd6ee 0 147.83px,#b4acda 0 152.6px,#b4acda 0 157.37px,#dcd6ee 0 162.14px,#dcd6ee 0 166.91px,#b4acda 0 171.67px,#6c68bc 0 176.44px,#6c68bc 0 181.21px,#dcd6ee 0 185.98px,#f8ccbe 0 190.75px,#dcd6ee 0 195.52px,#f8ccbe 0 200.29px,#f8ccbe 0 205.06px,#f8ccbe 0 209.82px,#dcd6ee 0 214.59px,#b4acda 0 219.36px,#b4acda 0 224.13px,#6c68bc 0)"></div><div class="hr" style="top:384.65px;height:3.32px;background:linear-gradient(90deg,#f8ccbe 4.77px,#f8ccbe 0 9.54px,#b4acda 0 14.31px,#f8ccbe 0 19.07px,#f8ccbe 0 23.84px,#f4a48c 0 28.61px,#f8ccbe 0 33.38px,#dcd6ee 0 38.15px,#f8ccbe 0 42.92px,#f8ccbe 0 47.69px,#f8ccbe 0 52.46px,#dcd6ee 0 57.22px,#f8ccbe 0 61.99px,#f8ccbe 0 66.76px,#f8ccbe 0 71.53px,#f8ccbe 0 76.3px,#f4a48c 0 81.07px,#f4a48c 0 85.84px,#f8ccbe 0 90.61px,#f8ccbe 0 95.38px,#f8ccbe 0 100.14px,#f8ccbe 0 104.91px,#f8ccbe 0 109.68px,#f8ccbe 0 114.45px,#f8ccbe 0 119.22px,#dcd6ee 0 123.99px,#f8ccbe 0 128.76px,#f8ccbe 0 133.53px,#f8ccbe 0 138.29px,#dcd6ee 0 143.06px,#dcd6ee 0 147.83px,#dcd6ee 0 152.6px,#dcd6ee 0 157.37px,#6c68bc 0 162.14px,#dcd6ee 0 166.91px,#dcd6ee 0 171.67px,#6c68bc 0 176.44px,#6c68bc 0 181.21px,#f8ccbe 0 185.98px,#f8ccbe 0 190.75px,#6c68bc 0 195.52px,#dcd6ee 0 200.29px,#dcd6ee 0 205.06px,#dcd6ee 0 209.82px,#dcd6ee 0 214.59px,#6c68bc 0 219.36px,#6c68bc 0 224.13px,#6c68bc 0)"></div><div class="hr" style="top:387.92px;height:3.32px;background:linear-gradient(90deg,#f8ccbe 4.77px,#f8ccbe 0 9.54px,#dcd6ee 0 14.31px,#dcd6ee 0 19.07px,#f8ccbe 0 23.84px,#f8ccbe 0 28.61px,#f8ccbe 0 33.38px,#dcd6ee 0 38.15px,#f8ccbe 0 42.92px,#dcd6ee 0 47.69px,#dcd6ee 0 52.46px,#6c68bc 0 57.22px,#f8ccbe 0 61.99px,#f8ccbe 0 66.76px,#f8ccbe 0 71.53px,#f8ccbe 0 76.3px,#f8ccbe 0 81.07px,#f8ccbe 0 85.84px,#f8ccbe 0 90.61px,#dcd6ee 0 95.38px,#dcd6ee 0 100.14px,#dcd6ee 0 104.91px,#dcd6ee 0 109.68px,#b4acda 0 114.45px,#dcd6ee 0 119.22px,#dcd6ee 0 123.99px,#f8ccbe 0 128.76px,#f8ccbe 0 133.53px,#f4a48c 0 138.29px,#f8ccbe 0 143.06px,#f8ccbe 0 147.83px,#f8ccbe 0 152.6px,#f8ccbe 0 157.37px,#f8ccbe 0 162.14px,#dcd6ee 0 166.91px,#dcd6ee 0 171.67px,#dcd6ee 0 176.44px,#dcd6ee 0 181.21px,#dcd6ee 0 185.98px,#dcd6ee 0 190.75px,#dcd6ee 0 195.52px,#dcd6ee 0 200.29px,#dcd6ee 0 205.06px,#b4acda 0 209.82px,#dcd6ee 0 214.59px,#3a46a8 0 219.36px,#6c68bc 0 224.13px,#6c68bc 0)"></div><div class="hr" style="top:394.6px;height:3.24px;background:linear-gradient(90deg,#dcd6ee 4.77px,#b4acda 0 9.54px,#dcd6ee 0 14.31px,#6c68bc 0 19.07px,#dcd6ee 0 23.84px,#dcd6ee 0 28.61px,#dcd6ee 0 33.38px,#b4acda 0 38.15px,#b4acda 0 42.92px,#dcd6ee 0 47.69px,#f8ccbe 0 52.46px,#f8ccbe 0 57.22px,#dcd6ee 0 61.99px,#f8ccbe 0 66.76px,#dcd6ee 0 71.53px,#dcd6ee 0 76.3px,#dcd6ee 0 81.07px,#f4a48c 0 85.84px,#dcd6ee 0 90.61px,#ec5c42 0 95.38px,#da2620 0 100.14px,#f4a48c 0 104.91px,#f8ccbe 0 109.68px,#dcd6ee 0 114.45px,#f8ccbe 0 119.22px,#f4a48c 0 123.99px,#dcd6ee 0 128.76px,#6c68bc 0 133.53px,#dcd6ee 0 138.29px,#dcd6ee 0 143.06px,#f8ccbe 0 147.83px,#f8ccbe 0 152.6px,#dcd6ee 0 157.37px,#f8ccbe 0 162.14px,#f8ccbe 0 166.91px,#f8ccbe 0 171.67px,#dcd6ee 0 176.44px,#dcd6ee 0 181.21px,#dcd6ee 0 185.98px,#f8ccbe 0 190.75px,#f8ccbe 0 195.52px,#ec5c42 0 200.29px,#f4a48c 0 205.06px,#dcd6ee 0 209.82px,#dcd6ee 0 214.59px,#6c68bc 0 219.36px,#b4acda 0 224.13px,#6c68bc 0)"></div><div class="hr" style="top:397.8px;height:3.24px;background:linear-gradient(90deg,#dcd6ee 4.77px,#6c68bc 0 9.54px,#6c68bc 0 14.31px,#b4acda 0 19.07px,#dcd6ee 0 23.84px,#b4acda 0 28.61px,#dcd6ee 0 33.38px,#dcd6ee 0 38.15px,#dcd6ee 0 42.92px,#f4a48c 0 47.69px,#da2620 0 52.46px,#da2620 0 57.22px,#f8ccbe 0 61.99px,#f4a48c 0 66.76px,#dcd6ee 0 71.53px,#b4acda 0 76.3px,#dcd6ee 0 81.07px,#f8ccbe 0 85.84px,#dcd6ee 0 90.61px,#ec5c42 0 95.38px,#ec5c42 0 100.14px,#f4a48c 0 104.91px,#f8ccbe 0 109.68px,#b4acda 0 114.45px,#f8ccbe 0 119.22px,#f8ccbe 0 123.99px,#f8ccbe 0 128.76px,#6c68bc 0 133.53px,#dcd6ee 0 138.29px,#dcd6ee 0 143.06px,#dcd6ee 0 147.83px,#b4acda 0 152.6px,#b4acda 0 157.37px,#b4acda 0 162.14px,#dcd6ee 0 166.91px,#dcd6ee 0 171.67px,#b4acda 0 176.44px,#b4acda 0 181.21px,#b4acda 0 185.98px,#dcd6ee 0 190.75px,#f4a48c 0 195.52px,#ec5c42 0 200.29px,#ec5c42 0 205.06px,#dcd6ee 0 209.82px,#b4acda 0 214.59px,#b4acda 0 219.36px,#dcd6ee 0 224.13px,#dcd6ee 0)"></div><div class="hr" style="top:400.99px;height:3.24px;background:linear-gradient(90deg,#b4acda 4.77px,#6c68bc 0 9.54px,#b4acda 0 14.31px,#b4acda 0 19.07px,#dcd6ee 0 23.84px,#dcd6ee 0 28.61px,#dcd6ee 0 33.38px,#f8ccbe 0 38.15px,#f8ccbe 0 42.92px,#dcd6ee 0 47.69px,#dcd6ee 0 52.46px,#da2620 0 57.22px,#f8ccbe 0 61.99px,#f4a48c 0 66.76px,#dcd6ee 0 71.53px,#b4acda 0 76.3px,#dcd6ee 0 81.07px,#f8ccbe 0 85.84px,#dcd6ee 0 90.61px,#f8ccbe 0 95.38px,#da2620 0 100.14px,#f8ccbe 0 104.91px,#f8ccbe 0 109.68px,#6c68bc 0 114.45px,#f4a48c 0 119.22px,#dcd6ee 0 123.99px,#dcd6ee 0 128.76px,#6c68bc 0 133.53px,#dcd6ee 0 138.29px,#dcd6ee 0 143.06px,#dcd6ee 0 147.83px,#b4acda 0 152.6px,#dcd6ee 0 157.37px,#b4acda 0 162.14px,#dcd6ee 0 166.91px,#dcd6ee 0 171.67px,#b4acda 0 176.44px,#dcd6ee 0 181.21px,#dcd6ee 0 185.98px,#f8ccbe 0 190.75px,#f8ccbe 0 195.52px,#f8ccbe 0 200.29px,#f8ccbe 0 205.06px,#dcd6ee 0 209.82px,#f8ccbe 0 214.59px,#dcd6ee 0 219.36px,#f4a48c 0 224.13px,#b4acda 0)"></div><div class="hr" style="top:404.19px;height:3.24px;background:linear-gradient(90deg,#dcd6ee 4.77px,#dcd6ee 0 9.54px,#dcd6ee 0 14.31px,#6c68bc 0 19.07px,#f8ccbe 0 23.84px,#f8ccbe 0 28.61px,#f4a48c 0 33.38px,#f4a48c 0 38.15px,#b4acda 0 42.92px,#b4acda 0 47.69px,#dcd6ee 0 52.46px,#f8ccbe 0 57.22px,#f8ccbe 0 61.99px,#f4a48c 0 66.76px,#dcd6ee 0 71.53px,#dcd6ee 0 76.3px,#f8ccbe 0 81.07px,#f8ccbe 0 85.84px,#dcd6ee 0 90.61px,#f8ccbe 0 95.38px,#f8ccbe 0 100.14px,#f8ccbe 0 104.91px,#dcd6ee 0 109.68px,#b4acda 0 114.45px,#f8ccbe 0 119.22px,#f8ccbe 0 123.99px,#ec5c42 0 128.76px,#6c68bc 0 133.53px,#dcd6ee 0 138.29px,#dcd6ee 0 143.06px,#b4acda 0 147.83px,#b4acda 0 152.6px,#b4acda 0 157.37px,#b4acda 0 162.14px,#dcd6ee 0 166.91px,#f8ccbe 0 171.67px,#dcd6ee 0 176.44px,#dcd6ee 0 181.21px,#b4acda 0 185.98px,#dcd6ee 0 190.75px,#f4a48c 0 195.52px,#f8ccbe 0 200.29px,#ec5c42 0 205.06px,#dcd6ee 0 209.82px,#dcd6ee 0 214.59px,#6c68bc 0 219.36px,#b4acda 0 224.13px,#f8ccbe 0)"></div><div class="hr" style="top:407.39px;height:3.24px;background:linear-gradient(90deg,#f4a48c 4.77px,#f4a48c 0 9.54px,#f8ccbe 0 14.31px,#6c68bc 0 19.07px,#f8ccbe 0 23.84px,#f4a48c 0 28.61px,#f8ccbe 0 33.38px,#f8ccbe 0 38.15px,#dcd6ee 0 42.92px,#b4acda 0 47.69px,#dcd6ee 0 52.46px,#b4acda 0 57.22px,#f8ccbe 0 61.99px,#f4a48c 0 66.76px,#dcd6ee 0 71.53px,#dcd6ee 0 76.3px,#f8ccbe 0 81.07px,#f8ccbe 0 85.84px,#dcd6ee 0 90.61px,#dcd6ee 0 95.38px,#f8ccbe 0 100.14px,#f8ccbe 0 104.91px,#dcd6ee 0 109.68px,#dcd6ee 0 114.45px,#f4a48c 0 119.22px,#f8ccbe 0 123.99px,#ec5c42 0 128.76px,#dcd6ee 0 133.53px,#dcd6ee 0 138.29px,#dcd6ee 0 143.06px,#dcd6ee 0 147.83px,#dcd6ee 0 152.6px,#dcd6ee 0 157.37px,#dcd6ee 0 162.14px,#dcd6ee 0 166.91px,#f8ccbe 0 171.67px,#dcd6ee 0 176.44px,#f8ccbe 0 181.21px,#6c68bc 0 185.98px,#dcd6ee 0 190.75px,#f4a48c 0 195.52px,#f8ccbe 0 200.29px,#f8ccbe 0 205.06px,#6c68bc 0 209.82px,#b4acda 0 214.59px,#6c68bc 0 219.36px,#6c68bc 0 224.13px,#dcd6ee 0)"></div><div class="hr" style="top:410.58px;height:3.24px;background:linear-gradient(90deg,#f8ccbe 4.77px,#f8ccbe 0 9.54px,#b4acda 0 14.31px,#b4acda 0 19.07px,#dcd6ee 0 23.84px,#f8ccbe 0 28.61px,#f8ccbe 0 33.38px,#f8ccbe 0 38.15px,#b4acda 0 42.92px,#dcd6ee 0 47.69px,#b4acda 0 52.46px,#b4acda 0 57.22px,#dcd6ee 0 61.99px,#f8ccbe 0 66.76px,#dcd6ee 0 71.53px,#dcd6ee 0 76.3px,#f8ccbe 0 81.07px,#f8ccbe 0 85.84px,#dcd6ee 0 90.61px,#dcd6ee 0 95.38px,#dcd6ee 0 100.14px,#dcd6ee 0 104.91px,#dcd6ee 0 109.68px,#dcd6ee 0 114.45px,#f4a48c 0 119.22px,#dcd6ee 0 123.99px,#f4a48c 0 128.76px,#dcd6ee 0 133.53px,#f4a48c 0 138.29px,#f4a48c 0 143.06px,#f8ccbe 0 147.83px,#f8ccbe 0 152.6px,#dcd6ee 0 157.37px,#dcd6ee 0 162.14px,#f4a48c 0 166.91px,#f4a48c 0 171.67px,#dcd6ee 0 176.44px,#dcd6ee 0 181.21px,#dcd6ee 0 185.98px,#dcd6ee 0 190.75px,#f4a48c 0 195.52px,#dcd6ee 0 200.29px,#f4a48c 0 205.06px,#dcd6ee 0 209.82px,#dcd6ee 0 214.59px,#6c68bc 0 219.36px,#6c68bc 0 224.13px,#6c68bc 0)"></div><div class="hr" style="top:413.78px;height:3.24px;background:linear-gradient(90deg,#f8ccbe 4.77px,#dcd6ee 0 9.54px,#b4acda 0 14.31px,#6c68bc 0 19.07px,#dcd6ee 0 23.84px,#f8ccbe 0 28.61px,#f8ccbe 0 33.38px,#f8ccbe 0 38.15px,#b4acda 0 42.92px,#6c68bc 0 47.69px,#b4acda 0 52.46px,#b4acda 0 57.22px,#f8ccbe 0 61.99px,#f4a48c 0 66.76px,#dcd6ee 0 71.53px,#dcd6ee 0 76.3px,#f8ccbe 0 81.07px,#f8ccbe 0 85.84px,#b4acda 0 90.61px,#dcd6ee 0 95.38px,#dcd6ee 0 100.14px,#f8ccbe 0 104.91px,#dcd6ee 0 109.68px,#dcd6ee 0 114.45px,#f4a48c 0 119.22px,#dcd6ee 0 123.99px,#f8ccbe 0 128.76px,#b4acda 0 133.53px,#f4a48c 0 138.29px,#f4a48c 0 143.06px,#f4a48c 0 147.83px,#dcd6ee 0 152.6px,#f8ccbe 0 157.37px,#f8ccbe 0 162.14px,#f4a48c 0 166.91px,#f8ccbe 0 171.67px,#dcd6ee 0 176.44px,#dcd6ee 0 181.21px,#b4acda 0 185.98px,#b4acda 0 190.75px,#f4a48c 0 195.52px,#dcd6ee 0 200.29px,#f4a48c 0 205.06px,#dcd6ee 0 209.82px,#dcd6ee 0 214.59px,#6c68bc 0 219.36px,#6c68bc 0 224.13px,#6c68bc 0)"></div><div class="hr" style="top:416.97px;height:3.24px;background:linear-gradient(90deg,#f4a48c 4.77px,#dcd6ee 0 9.54px,#b4acda 0 14.31px,#6c68bc 0 19.07px,#f8ccbe 0 23.84px,#f8ccbe 0 28.61px,#f8ccbe 0 33.38px,#f8ccbe 0 38.15px,#b4acda 0 42.92px,#b4acda 0 47.69px,#dcd6ee 0 52.46px,#b4acda 0 57.22px,#f8ccbe 0 61.99px,#f4a48c 0 66.76px,#f8ccbe 0 71.53px,#dcd6ee 0 76.3px,#f4a48c 0 81.07px,#f4a48c 0 85.84px,#dcd6ee 0 90.61px,#dcd6ee 0 95.38px,#b4acda 0 100.14px,#dcd6ee 0 104.91px,#b4acda 0 109.68px,#b4acda 0 114.45px,#f4a48c 0 119.22px,#f8ccbe 0 123.99px,#f4a48c 0 128.76px,#dcd6ee 0 133.53px,#f8ccbe 0 138.29px,#f4a48c 0 143.06px,#f8ccbe 0 147.83px,#dcd6ee 0 152.6px,#dcd6ee 0 157.37px,#f8ccbe 0 162.14px,#f4a48c 0 166.91px,#f8ccbe 0 171.67px,#f8ccbe 0 176.44px,#dcd6ee 0 181.21px,#b4acda 0 185.98px,#b4acda 0 190.75px,#f4a48c 0 195.52px,#dcd6ee 0 200.29px,#f8ccbe 0 205.06px,#dcd6ee 0 209.82px,#b4acda 0 214.59px,#6c68bc 0 219.36px,#6c68bc 0 224.13px,#6c68bc 0)"></div><div class="hr" style="top:420.17px;height:3.24px;background:linear-gradient(90deg,#f8ccbe 4.77px,#dcd6ee 0 9.54px,#b4acda 0 14.31px,#6c68bc 0 19.07px,#f8ccbe 0 23.84px,#f8ccbe 0 28.61px,#f8ccbe 0 33.38px,#f8ccbe 0 38.15px,#dcd6ee 0 42.92px,#b4acda 0 47.69px,#b4acda 0 52.46px,#b4acda 0 57.22px,#f8ccbe 0 61.99px,#f8ccbe 0 66.76px,#dcd6ee 0 71.53px,#f8ccbe 0 76.3px,#f8ccbe 0 81.07px,#f8ccbe 0 85.84px,#dcd6ee 0 90.61px,#b4acda 0 95.38px,#dcd6ee 0 100.14px,#dcd6ee 0 104.91px,#6c68bc 0 109.68px,#b4acda 0 114.45px,#f8ccbe 0 119.22px,#dcd6ee 0 123.99px,#f4a48c 0 128.76px,#dcd6ee 0 133.53px,#f4a48c 0 138.29px,#f4a48c 0 143.06px,#f8ccbe 0 147.83px,#f8ccbe 0 152.6px,#dcd6ee 0 157.37px,#f8ccbe 0 162.14px,#ec5c42 0 166.91px,#f8ccbe 0 171.67px,#dcd6ee 0 176.44px,#dcd6ee 0 181.21px,#b4acda 0 185.98px,#b4acda 0 190.75px,#f8ccbe 0 195.52px,#dcd6ee 0 200.29px,#f8ccbe 0 205.06px,#dcd6ee 0 209.82px,#b4acda 0 214.59px,#b4acda 0 219.36px,#6c68bc 0 224.13px,#6c68bc 0)"></div><div class="hr" style="top:423.37px;height:3.24px;background:linear-gradient(90deg,#f8ccbe 4.77px,#dcd6ee 0 9.54px,#b4acda 0 14.31px,#6c68bc 0 19.07px,#f8ccbe 0 23.84px,#f8ccbe 0 28.61px,#f4a48c 0 33.38px,#f8ccbe 0 38.15px,#b4acda 0 42.92px,#b4acda 0 47.69px,#dcd6ee 0 52.46px,#dcd6ee 0 57.22px,#f8ccbe 0 61.99px,#f4a48c 0 66.76px,#dcd6ee 0 71.53px,#f8ccbe 0 76.3px,#f8ccbe 0 81.07px,#f8ccbe 0 85.84px,#dcd6ee 0 90.61px,#dcd6ee 0 95.38px,#dcd6ee 0 100.14px,#dcd6ee 0 104.91px,#dcd6ee 0 109.68px,#b4acda 0 114.45px,#f4a48c 0 119.22px,#f8ccbe 0 123.99px,#f8ccbe 0 128.76px,#b4acda 0 133.53px,#ec5c42 0 138.29px,#ec5c42 0 143.06px,#f4a48c 0 147.83px,#f8ccbe 0 152.6px,#f8ccbe 0 157.37px,#f8ccbe 0 162.14px,#ec5c42 0 166.91px,#f4a48c 0 171.67px,#b4acda 0 176.44px,#dcd6ee 0 181.21px,#6c68bc 0 185.98px,#6c68bc 0 190.75px,#f8ccbe 0 195.52px,#f8ccbe 0 200.29px,#f8ccbe 0 205.06px,#b4acda 0 209.82px,#b4acda 0 214.59px,#b4acda 0 219.36px,#b4acda 0 224.13px,#b4acda 0)"></div><div class="hr" style="top:426.56px;height:3.24px;background:linear-gradient(90deg,#f8ccbe 4.77px,#dcd6ee 0 9.54px,#b4acda 0 14.31px,#6c68bc 0 19.07px,#f8ccbe 0 23.84px,#f8ccbe 0 28.61px,#f8ccbe 0 33.38px,#f8ccbe 0 38.15px,#b4acda 0 42.92px,#b4acda 0 47.69px,#b4acda 0 52.46px,#b4acda 0 57.22px,#f8ccbe 0 61.99px,#f8ccbe 0 66.76px,#dcd6ee 0 71.53px,#dcd6ee 0 76.3px,#f8ccbe 0 81.07px,#f8ccbe 0 85.84px,#dcd6ee 0 90.61px,#dcd6ee 0 95.38px,#dcd6ee 0 100.14px,#f8ccbe 0 104.91px,#b4acda 0 109.68px,#b4acda 0 114.45px,#f8ccbe 0 119.22px,#dcd6ee 0 123.99px,#f8ccbe 0 128.76px,#6c68bc 0 133.53px,#ec5c42 0 138.29px,#ec5c42 0 143.06px,#f4a48c 0 147.83px,#f8ccbe 0 152.6px,#f8ccbe 0 157.37px,#f8ccbe 0 162.14px,#ec5c42 0 166.91px,#f4a48c 0 171.67px,#dcd6ee 0 176.44px,#dcd6ee 0 181.21px,#6c68bc 0 185.98px,#6c68bc 0 190.75px,#f4a48c 0 195.52px,#dcd6ee 0 200.29px,#f4a48c 0 205.06px,#6c68bc 0 209.82px,#b4acda 0 214.59px,#dcd6ee 0 219.36px,#b4acda 0 224.13px,#b4acda 0)"></div><div class="hr" style="top:429.76px;height:3.24px;background:linear-gradient(90deg,#f8ccbe 4.77px,#dcd6ee 0 9.54px,#b4acda 0 14.31px,#6c68bc 0 19.07px,#dcd6ee 0 23.84px,#f8ccbe 0 28.61px,#f8ccbe 0 33.38px,#f8ccbe 0 38.15px,#b4acda 0 42.92px,#6c68bc 0 47.69px,#f4eef0 0 52.46px,#6c68bc 0 57.22px,#f8ccbe 0 61.99px,#f8ccbe 0 66.76px,#dcd6ee 0 71.53px,#f8ccbe 0 76.3px,#f8ccbe 0 81.07px,#f8ccbe 0 85.84px,#b4acda 0 90.61px,#b4acda 0 95.38px,#f8ccbe 0 100.14px,#f8ccbe 0 104.91px,#dcd6ee 0 109.68px,#b4acda 0 114.45px,#f8ccbe 0 119.22px,#f8ccbe 0 123.99px,#f8ccbe 0 128.76px,#dcd6ee 0 133.53px,#f4a48c 0 138.29px,#f4a48c 0 143.06px,#f4a48c 0 147.83px,#f8ccbe 0 152.6px,#dcd6ee 0 157.37px,#f8ccbe 0 162.14px,#f4a48c 0 166.91px,#f8ccbe 0 171.67px,#f8ccbe 0 176.44px,#dcd6ee 0 181.21px,#b4acda 0 185.98px,#b4acda 0 190.75px,#f8ccbe 0 195.52px,#f8ccbe 0 200.29px,#f8ccbe 0 205.06px,#b4acda 0 209.82px,#6c68bc 0 214.59px,#b4acda 0 219.36px,#b4acda 0 224.13px,#dcd6ee 0)"></div><div class="hr" style="top:432.96px;height:3.24px;background:linear-gradient(90deg,#f8ccbe 4.77px,#dcd6ee 0 9.54px,#b4acda 0 14.31px,#6c68bc 0 19.07px,#dcd6ee 0 23.84px,#dcd6ee 0 28.61px,#f8ccbe 0 33.38px,#f8ccbe 0 38.15px,#b4acda 0 42.92px,#6c68bc 0 47.69px,#b4acda 0 52.46px,#6c68bc 0 57.22px,#dcd6ee 0 61.99px,#f8ccbe 0 66.76px,#dcd6ee 0 71.53px,#dcd6ee 0 76.3px,#f8ccbe 0 81.07px,#f8ccbe 0 85.84px,#b4acda 0 90.61px,#b4acda 0 95.38px,#b4acda 0 100.14px,#dcd6ee 0 104.91px,#dcd6ee 0 109.68px,#b4acda 0 114.45px,#f8ccbe 0 119.22px,#f8ccbe 0 123.99px,#f8ccbe 0 128.76px,#dcd6ee 0 133.53px,#f4a48c 0 138.29px,#f4a48c 0 143.06px,#f8ccbe 0 147.83px,#f8ccbe 0 152.6px,#f8ccbe 0 157.37px,#f8ccbe 0 162.14px,#f4a48c 0 166.91px,#f8ccbe 0 171.67px,#f8ccbe 0 176.44px,#f8ccbe 0 181.21px,#dcd6ee 0 185.98px,#dcd6ee 0 190.75px,#f4a48c 0 195.52px,#f8ccbe 0 200.29px,#f4a48c 0 205.06px,#dcd6ee 0 209.82px,#6c68bc 0 214.59px,#6c68bc 0 219.36px,#dcd6ee 0 224.13px,#dcd6ee 0)"></div><div class="hr" style="top:436.15px;height:3.24px;background:linear-gradient(90deg,#f8ccbe 4.77px,#dcd6ee 0 9.54px,#b4acda 0 14.31px,#6c68bc 0 19.07px,#dcd6ee 0 23.84px,#dcd6ee 0 28.61px,#f8ccbe 0 33.38px,#f8ccbe 0 38.15px,#b4acda 0 42.92px,#6c68bc 0 47.69px,#b4acda 0 52.46px,#6c68bc 0 57.22px,#f8ccbe 0 61.99px,#f8ccbe 0 66.76px,#dcd6ee 0 71.53px,#dcd6ee 0 76.3px,#f8ccbe 0 81.07px,#f8ccbe 0 85.84px,#dcd6ee 0 90.61px,#dcd6ee 0 95.38px,#f8ccbe 0 100.14px,#f8ccbe 0 104.91px,#dcd6ee 0 109.68px,#b4acda 0 114.45px,#f8ccbe 0 119.22px,#f8ccbe 0 123.99px,#dcd6ee 0 128.76px,#dcd6ee 0 133.53px,#f8ccbe 0 138.29px,#f8ccbe 0 143.06px,#f8ccbe 0 147.83px,#f8ccbe 0 152.6px,#dcd6ee 0 157.37px,#f8ccbe 0 162.14px,#f8ccbe 0 166.91px,#f8ccbe 0 171.67px,#f8ccbe 0 176.44px,#f8ccbe 0 181.21px,#dcd6ee 0 185.98px,#f8ccbe 0 190.75px,#f4a48c 0 195.52px,#f4a48c 0 200.29px,#f4a48c 0 205.06px,#dcd6ee 0 209.82px,#b4acda 0 214.59px,#b4acda 0 219.36px,#6c68bc 0 224.13px,#b4acda 0)"></div><div class="hr" style="top:439.35px;height:3.24px;background:linear-gradient(90deg,#f8ccbe 4.77px,#f8ccbe 0 9.54px,#dcd6ee 0 14.31px,#6c68bc 0 19.07px,#f8ccbe 0 23.84px,#dcd6ee 0 28.61px,#f8ccbe 0 33.38px,#f8ccbe 0 38.15px,#6c68bc 0 42.92px,#6c68bc 0 47.69px,#b4acda 0 52.46px,#b4acda 0 57.22px,#f8ccbe 0 61.99px,#f4a48c 0 66.76px,#f8ccbe 0 71.53px,#f8ccbe 0 76.3px,#dcd6ee 0 81.07px,#f8ccbe 0 85.84px,#b4acda 0 90.61px,#dcd6ee 0 95.38px,#f8ccbe 0 100.14px,#f8ccbe 0 104.91px,#dcd6ee 0 109.68px,#6c68bc 0 114.45px,#f8ccbe 0 119.22px,#dcd6ee 0 123.99px,#f8ccbe 0 128.76px,#6c68bc 0 133.53px,#f4a48c 0 138.29px,#f4a48c 0 143.06px,#f4a48c 0 147.83px,#f8ccbe 0 152.6px,#f4a48c 0 157.37px,#f4a48c 0 162.14px,#f4a48c 0 166.91px,#f4a48c 0 171.67px,#f8ccbe 0 176.44px,#dcd6ee 0 181.21px,#dcd6ee 0 185.98px,#f8ccbe 0 190.75px,#f4a48c 0 195.52px,#f4a48c 0 200.29px,#ec5c42 0 205.06px,#dcd6ee 0 209.82px,#b4acda 0 214.59px,#6c68bc 0 219.36px,#6c68bc 0 224.13px,#6c68bc 0)"></div><div class="hr" style="top:442.54px;height:3.24px;background:linear-gradient(90deg,#f4a48c 4.77px,#f4a48c 0 9.54px,#dcd6ee 0 14.31px,#dcd6ee 0 19.07px,#f4a48c 0 23.84px,#f4a48c 0 28.61px,#f4a48c 0 33.38px,#f4a48c 0 38.15px,#dcd6ee 0 42.92px,#b4acda 0 47.69px,#dcd6ee 0 52.46px,#6c68bc 0 57.22px,#f8ccbe 0 61.99px,#f8ccbe 0 66.76px,#f8ccbe 0 71.53px,#dcd6ee 0 76.3px,#dcd6ee 0 81.07px,#dcd6ee 0 85.84px,#b4acda 0 90.61px,#b4acda 0 95.38px,#dcd6ee 0 100.14px,#dcd6ee 0 104.91px,#dcd6ee 0 109.68px,#dcd6ee 0 114.45px,#dcd6ee 0 119.22px,#dcd6ee 0 123.99px,#f4a48c 0 128.76px,#dcd6ee 0 133.53px,#f4a48c 0 138.29px,#f4a48c 0 143.06px,#f8ccbe 0 147.83px,#dcd6ee 0 152.6px,#dcd6ee 0 157.37px,#f8ccbe 0 162.14px,#f8ccbe 0 166.91px,#f8ccbe 0 171.67px,#dcd6ee 0 176.44px,#dcd6ee 0 181.21px,#f8ccbe 0 185.98px,#dcd6ee 0 190.75px,#f4a48c 0 195.52px,#f8ccbe 0 200.29px,#f8ccbe 0 205.06px,#dcd6ee 0 209.82px,#b4acda 0 214.59px,#6c68bc 0 219.36px,#6c68bc 0 224.13px,#6c68bc 0)"></div><div class="hr" style="top:445.74px;height:3.24px;background:linear-gradient(90deg,#f4a48c 4.77px,#f4a48c 0 9.54px,#dcd6ee 0 14.31px,#b4acda 0 19.07px,#f8ccbe 0 23.84px,#f8ccbe 0 28.61px,#f4a48c 0 33.38px,#f8ccbe 0 38.15px,#b4acda 0 42.92px,#b4acda 0 47.69px,#b4acda 0 52.46px,#6c68bc 0 57.22px,#f8ccbe 0 61.99px,#f4a48c 0 66.76px,#f8ccbe 0 71.53px,#dcd6ee 0 76.3px,#f8ccbe 0 81.07px,#dcd6ee 0 85.84px,#b4acda 0 90.61px,#dcd6ee 0 95.38px,#dcd6ee 0 100.14px,#dcd6ee 0 104.91px,#dcd6ee 0 109.68px,#dcd6ee 0 114.45px,#dcd6ee 0 119.22px,#dcd6ee 0 123.99px,#dcd6ee 0 128.76px,#dcd6ee 0 133.53px,#f4a48c 0 138.29px,#f4a48c 0 143.06px,#f8ccbe 0 147.83px,#dcd6ee 0 152.6px,#dcd6ee 0 157.37px,#f8ccbe 0 162.14px,#f8ccbe 0 166.91px,#f8ccbe 0 171.67px,#b4acda 0 176.44px,#dcd6ee 0 181.21px,#b4acda 0 185.98px,#f8ccbe 0 190.75px,#f8ccbe 0 195.52px,#f8ccbe 0 200.29px,#f4a48c 0 205.06px,#dcd6ee 0 209.82px,#b4acda 0 214.59px,#6c68bc 0 219.36px,#6c68bc 0 224.13px,#6c68bc 0)"></div><div class="hr" style="top:448.94px;height:3.24px;background:linear-gradient(90deg,#f4a48c 4.77px,#f8ccbe 0 9.54px,#dcd6ee 0 14.31px,#6c68bc 0 19.07px,#f8ccbe 0 23.84px,#f8ccbe 0 28.61px,#f4a48c 0 33.38px,#f8ccbe 0 38.15px,#dcd6ee 0 42.92px,#dcd6ee 0 47.69px,#dcd6ee 0 52.46px,#dcd6ee 0 57.22px,#f4a48c 0 61.99px,#f4a48c 0 66.76px,#f8ccbe 0 71.53px,#f8ccbe 0 76.3px,#f4a48c 0 81.07px,#f4a48c 0 85.84px,#f8ccbe 0 90.61px,#f8ccbe 0 95.38px,#f8ccbe 0 100.14px,#f8ccbe 0 104.91px,#f4a48c 0 109.68px,#b4acda 0 114.45px,#f8ccbe 0 119.22px,#dcd6ee 0 123.99px,#f8ccbe 0 128.76px,#dcd6ee 0 133.53px,#f4a48c 0 138.29px,#f4a48c 0 143.06px,#f8ccbe 0 147.83px,#f8ccbe 0 152.6px,#f8ccbe 0 157.37px,#f4a48c 0 162.14px,#f8ccbe 0 166.91px,#f8ccbe 0 171.67px,#b4acda 0 176.44px,#b4acda 0 181.21px,#dcd6ee 0 185.98px,#b4acda 0 190.75px,#dcd6ee 0 195.52px,#dcd6ee 0 200.29px,#f8ccbe 0 205.06px,#dcd6ee 0 209.82px,#b4acda 0 214.59px,#6c68bc 0 219.36px,#6c68bc 0 224.13px,#6c68bc 0)"></div><div class="hr" style="top:452.13px;height:3.24px;background:linear-gradient(90deg,#f4a48c 4.77px,#f8ccbe 0 9.54px,#dcd6ee 0 14.31px,#dcd6ee 0 19.07px,#dcd6ee 0 23.84px,#f8ccbe 0 28.61px,#dcd6ee 0 33.38px,#dcd6ee 0 38.15px,#dcd6ee 0 42.92px,#dcd6ee 0 47.69px,#dcd6ee 0 52.46px,#b4acda 0 57.22px,#f8ccbe 0 61.99px,#f8ccbe 0 66.76px,#f8ccbe 0 71.53px,#dcd6ee 0 76.3px,#f8ccbe 0 81.07px,#dcd6ee 0 85.84px,#f8ccbe 0 90.61px,#dcd6ee 0 95.38px,#f8ccbe 0 100.14px,#f8ccbe 0 104.91px,#dcd6ee 0 109.68px,#dcd6ee 0 114.45px,#f8ccbe 0 119.22px,#dcd6ee 0 123.99px,#dcd6ee 0 128.76px,#dcd6ee 0 133.53px,#f8ccbe 0 138.29px,#f8ccbe 0 143.06px,#f8ccbe 0 147.83px,#f8ccbe 0 152.6px,#f8ccbe 0 157.37px,#f8ccbe 0 162.14px,#f8ccbe 0 166.91px,#f8ccbe 0 171.67px,#6c68bc 0 176.44px,#b4acda 0 181.21px,#b4acda 0 185.98px,#b4acda 0 190.75px,#dcd6ee 0 195.52px,#dcd6ee 0 200.29px,#f8ccbe 0 205.06px,#dcd6ee 0 209.82px,#dcd6ee 0 214.59px,#6c68bc 0 219.36px,#6c68bc 0 224.13px,#6c68bc 0)"></div><div class="hr" style="top:455.33px;height:3.24px;background:linear-gradient(90deg,#dcd6ee 4.77px,#dcd6ee 0 9.54px,#dcd6ee 0 14.31px,#b4acda 0 19.07px,#b4acda 0 23.84px,#b4acda 0 28.61px,#dcd6ee 0 33.38px,#dcd6ee 0 38.15px,#dcd6ee 0 42.92px,#dcd6ee 0 47.69px,#dcd6ee 0 52.46px,#f8ccbe 0 57.22px,#f8ccbe 0 61.99px,#f8ccbe 0 66.76px,#f4a48c 0 71.53px,#ec5c42 0 76.3px,#f8ccbe 0 81.07px,#f8ccbe 0 85.84px,#f8ccbe 0 90.61px,#f4a48c 0 95.38px,#f4a48c 0 100.14px,#f8ccbe 0 104.91px,#f4a48c 0 109.68px,#ec5c42 0 114.45px,#dcd6ee 0 119.22px,#dcd6ee 0 123.99px,#dcd6ee 0 128.76px,#b4acda 0 133.53px,#f8ccbe 0 138.29px,#f8ccbe 0 143.06px,#f4a48c 0 147.83px,#dcd6ee 0 152.6px,#f8ccbe 0 157.37px,#f8ccbe 0 162.14px,#dcd6ee 0 166.91px,#f8ccbe 0 171.67px,#6c68bc 0 176.44px,#6c68bc 0 181.21px,#6c68bc 0 185.98px,#6c68bc 0 190.75px,#dcd6ee 0 195.52px,#dcd6ee 0 200.29px,#f8ccbe 0 205.06px,#dcd6ee 0 209.82px,#dcd6ee 0 214.59px,#6c68bc 0 219.36px,#6c68bc 0 224.13px,#6c68bc 0)"></div><div class="hr" style="top:458.53px;height:3.24px;background:linear-gradient(90deg,#dcd6ee 4.77px,#dcd6ee 0 9.54px,#b4acda 0 14.31px,#b4acda 0 19.07px,#f8ccbe 0 23.84px,#f8ccbe 0 28.61px,#f8ccbe 0 33.38px,#dcd6ee 0 38.15px,#6c68bc 0 42.92px,#dcd6ee 0 47.69px,#dcd6ee 0 52.46px,#dcd6ee 0 57.22px,#f4a48c 0 61.99px,#f4a48c 0 66.76px,#f8ccbe 0 71.53px,#dcd6ee 0 76.3px,#dcd6ee 0 81.07px,#6c68bc 0 85.84px,#6c68bc 0 90.61px,#dcd6ee 0 95.38px,#dcd6ee 0 100.14px,#dcd6ee 0 104.91px,#dcd6ee 0 109.68px,#6c68bc 0 114.45px,#f8ccbe 0 119.22px,#dcd6ee 0 123.99px,#f8ccbe 0 128.76px,#dcd6ee 0 133.53px,#dcd6ee 0 138.29px,#dcd6ee 0 143.06px,#dcd6ee 0 147.83px,#dcd6ee 0 152.6px,#dcd6ee 0 157.37px,#dcd6ee 0 162.14px,#dcd6ee 0 166.91px,#dcd6ee 0 171.67px,#dcd6ee 0 176.44px,#dcd6ee 0 181.21px,#dcd6ee 0 185.98px,#dcd6ee 0 190.75px,#dcd6ee 0 195.52px,#dcd6ee 0 200.29px,#f8ccbe 0 205.06px,#dcd6ee 0 209.82px,#dcd6ee 0 214.59px,#dcd6ee 0 219.36px,#dcd6ee 0 224.13px,#dcd6ee 0)"></div><div class="hr" style="top:461.72px;height:3.24px;background:linear-gradient(90deg,#dcd6ee 4.77px,#f8ccbe 0 9.54px,#ec5c42 0 14.31px,#f8ccbe 0 19.07px,#f4a48c 0 23.84px,#f8ccbe 0 28.61px,#f8ccbe 0 33.38px,#f8ccbe 0 38.15px,#dcd6ee 0 42.92px,#dcd6ee 0 47.69px,#dcd6ee 0 52.46px,#ec5c42 0 57.22px,#f8ccbe 0 61.99px,#dcd6ee 0 66.76px,#dcd6ee 0 71.53px,#dcd6ee 0 76.3px,#f8ccbe 0 81.07px,#dcd6ee 0 85.84px,#dcd6ee 0 90.61px,#f8ccbe 0 95.38px,#dcd6ee 0 100.14px,#dcd6ee 0 104.91px,#dcd6ee 0 109.68px,#dcd6ee 0 114.45px,#dcd6ee 0 119.22px,#b4acda 0 123.99px,#dcd6ee 0 128.76px,#dcd6ee 0 133.53px,#b4acda 0 138.29px,#b4acda 0 143.06px,#6c68bc 0 147.83px,#b4acda 0 152.6px,#b4acda 0 157.37px,#b4acda 0 162.14px,#b4acda 0 166.91px,#b4acda 0 171.67px,#f4a48c 0 176.44px,#f8ccbe 0 181.21px,#f8ccbe 0 185.98px,#f8ccbe 0 190.75px,#dcd6ee 0 195.52px,#dcd6ee 0 200.29px,#dcd6ee 0 205.06px,#6c68bc 0 209.82px,#dcd6ee 0 214.59px,#dcd6ee 0 219.36px,#dcd6ee 0 224.13px,#da2620 0)"></div><div class="hr" style="top:464.92px;height:3.24px;background:linear-gradient(90deg,#b4acda 4.77px,#b4acda 0 9.54px,#f8ccbe 0 14.31px,#f8ccbe 0 19.07px,#f4a48c 0 23.84px,#f8ccbe 0 28.61px,#dcd6ee 0 33.38px,#dcd6ee 0 38.15px,#ec5c42 0 42.92px,#da2620 0 47.69px,#f8ccbe 0 52.46px,#f4a48c 0 57.22px,#dcd6ee 0 61.99px,#dcd6ee 0 66.76px,#dcd6ee 0 71.53px,#b4acda 0 76.3px,#dcd6ee 0 81.07px,#f8ccbe 0 85.84px,#ec5c42 0 90.61px,#f4a48c 0 95.38px,#f4a48c 0 100.14px,#dcd6ee 0 104.91px,#dcd6ee 0 109.68px,#f8ccbe 0 114.45px,#f8ccbe 0 119.22px,#dcd6ee 0 123.99px,#dcd6ee 0 128.76px,#dcd6ee 0 133.53px,#b4acda 0 138.29px,#b4acda 0 143.06px,#6c68bc 0 147.83px,#dcd6ee 0 152.6px,#b4acda 0 157.37px,#b4acda 0 162.14px,#b4acda 0 166.91px,#b4acda 0 171.67px,#b4acda 0 176.44px,#6c68bc 0 181.21px,#6c68bc 0 185.98px,#b4acda 0 190.75px,#6c68bc 0 195.52px,#b4acda 0 200.29px,#dcd6ee 0 205.06px,#dcd6ee 0 209.82px,#dcd6ee 0 214.59px,#f8ccbe 0 219.36px,#dcd6ee 0 224.13px,#f4a48c 0)"></div><div class="hr" style="top:468.11px;height:3.24px;background:linear-gradient(90deg,#b4acda 4.77px,#b4acda 0 9.54px,#dcd6ee 0 14.31px,#dcd6ee 0 19.07px,#f8ccbe 0 23.84px,#f8ccbe 0 28.61px,#dcd6ee 0 33.38px,#dcd6ee 0 38.15px,#f4a48c 0 42.92px,#ec5c42 0 47.69px,#dcd6ee 0 52.46px,#dcd6ee 0 57.22px,#dcd6ee 0 61.99px,#f8ccbe 0 66.76px,#dcd6ee 0 71.53px,#dcd6ee 0 76.3px,#dcd6ee 0 81.07px,#dcd6ee 0 85.84px,#ec5c42 0 90.61px,#f8ccbe 0 95.38px,#dcd6ee 0 100.14px,#dcd6ee 0 104.91px,#dcd6ee 0 109.68px,#dcd6ee 0 114.45px,#dcd6ee 0 119.22px,#b4acda 0 123.99px,#dcd6ee 0 128.76px,#dcd6ee 0 133.53px,#b4acda 0 138.29px,#b4acda 0 143.06px,#dcd6ee 0 147.83px,#dcd6ee 0 152.6px,#dcd6ee 0 157.37px,#b4acda 0 162.14px,#dcd6ee 0 166.91px,#dcd6ee 0 171.67px,#6c68bc 0 176.44px,#b4acda 0 181.21px,#dcd6ee 0 185.98px,#dcd6ee 0 190.75px,#b4acda 0 195.52px,#dcd6ee 0 200.29px,#b4acda 0 205.06px,#f4a48c 0 209.82px,#f4a48c 0 214.59px,#dcd6ee 0 219.36px,#dcd6ee 0 224.13px,#dcd6ee 0)"></div><div class="hr" style="top:471.31px;height:3.24px;background:linear-gradient(90deg,#b4acda 4.77px,#b4acda 0 9.54px,#6c68bc 0 14.31px,#f8ccbe 0 19.07px,#b4acda 0 23.84px,#dcd6ee 0 28.61px,#6c68bc 0 33.38px,#dcd6ee 0 38.15px,#f4a48c 0 42.92px,#f4a48c 0 47.69px,#dcd6ee 0 52.46px,#dcd6ee 0 57.22px,#dcd6ee 0 61.99px,#dcd6ee 0 66.76px,#dcd6ee 0 71.53px,#b4acda 0 76.3px,#dcd6ee 0 81.07px,#b4acda 0 85.84px,#da2620 0 90.61px,#dcd6ee 0 95.38px,#dcd6ee 0 100.14px,#dcd6ee 0 104.91px,#dcd6ee 0 109.68px,#dcd6ee 0 114.45px,#f8ccbe 0 119.22px,#dcd6ee 0 123.99px,#dcd6ee 0 128.76px,#dcd6ee 0 133.53px,#dcd6ee 0 138.29px,#dcd6ee 0 143.06px,#dcd6ee 0 147.83px,#ec5c42 0 152.6px,#ec5c42 0 157.37px,#da2620 0 162.14px,#dcd6ee 0 166.91px,#dcd6ee 0 171.67px,#f8ccbe 0 176.44px,#f8ccbe 0 181.21px,#f4a48c 0 185.98px,#f8ccbe 0 190.75px,#dcd6ee 0 195.52px,#b4acda 0 200.29px,#b4acda 0 205.06px,#ec5c42 0 209.82px,#ec5c42 0 214.59px,#f4a48c 0 219.36px,#f8ccbe 0 224.13px,#f8ccbe 0)"></div><div class="hr" style="top:474.51px;height:3.24px;background:linear-gradient(90deg,#b4acda 4.77px,#dcd6ee 0 9.54px,#dcd6ee 0 14.31px,#f8ccbe 0 19.07px,#dcd6ee 0 23.84px,#dcd6ee 0 28.61px,#dcd6ee 0 33.38px,#dcd6ee 0 38.15px,#dcd6ee 0 42.92px,#dcd6ee 0 47.69px,#dcd6ee 0 52.46px,#dcd6ee 0 57.22px,#b4acda 0 61.99px,#b4acda 0 66.76px,#dcd6ee 0 71.53px,#b4acda 0 76.3px,#b4acda 0 81.07px,#b4acda 0 85.84px,#ec5c42 0 90.61px,#6c68bc 0 95.38px,#6c68bc 0 100.14px,#b4acda 0 104.91px,#6c68bc 0 109.68px,#dcd6ee 0 114.45px,#dcd6ee 0 119.22px,#dcd6ee 0 123.99px,#dcd6ee 0 128.76px,#6c68bc 0 133.53px,#dcd6ee 0 138.29px,#dcd6ee 0 143.06px,#f8ccbe 0 147.83px,#f8ccbe 0 152.6px,#f8ccbe 0 157.37px,#ec5c42 0 162.14px,#dcd6ee 0 166.91px,#f8ccbe 0 171.67px,#dcd6ee 0 176.44px,#dcd6ee 0 181.21px,#f8ccbe 0 185.98px,#f8ccbe 0 190.75px,#b4acda 0 195.52px,#dcd6ee 0 200.29px,#dcd6ee 0 205.06px,#ec5c42 0 209.82px,#ec5c42 0 214.59px,#f4a48c 0 219.36px,#f4a48c 0 224.13px,#dcd6ee 0)"></div><div class="hr" style="top:477.7px;height:3.24px;background:linear-gradient(90deg,#f8ccbe 4.77px,#f8ccbe 0 9.54px,#dcd6ee 0 14.31px,#dcd6ee 0 19.07px,#dcd6ee 0 23.84px,#dcd6ee 0 28.61px,#f8ccbe 0 33.38px,#f8ccbe 0 38.15px,#ec5c42 0 42.92px,#f8ccbe 0 47.69px,#dcd6ee 0 52.46px,#dcd6ee 0 57.22px,#dcd6ee 0 61.99px,#b4acda 0 66.76px,#dcd6ee 0 71.53px,#b4acda 0 76.3px,#dcd6ee 0 81.07px,#b4acda 0 85.84px,#ec5c42 0 90.61px,#b4acda 0 95.38px,#b4acda 0 100.14px,#b4acda 0 104.91px,#b4acda 0 109.68px,#dcd6ee 0 114.45px,#dcd6ee 0 119.22px,#b4acda 0 123.99px,#dcd6ee 0 128.76px,#dcd6ee 0 133.53px,#dcd6ee 0 138.29px,#dcd6ee 0 143.06px,#dcd6ee 0 147.83px,#dcd6ee 0 152.6px,#dcd6ee 0 157.37px,#dcd6ee 0 162.14px,#dcd6ee 0 166.91px,#dcd6ee 0 171.67px,#dcd6ee 0 176.44px,#b4acda 0 181.21px,#b4acda 0 185.98px,#b4acda 0 190.75px,#dcd6ee 0 195.52px,#dcd6ee 0 200.29px,#f8ccbe 0 205.06px,#f8ccbe 0 209.82px,#f8ccbe 0 214.59px,#dcd6ee 0 219.36px,#dcd6ee 0 224.13px,#dcd6ee 0)"></div><div class="hr" style="top:483.6px;height:3.72px;background:linear-gradient(90deg,#dcd6ee 4.77px,#dcd6ee 0 9.54px,#dcd6ee 0 14.31px,#dcd6ee 0 19.07px,#6c68bc 0 23.84px,#dcd6ee 0 28.61px,#6c68bc 0 33.38px,#6c68bc 0 38.15px,#dcd6ee 0 42.92px,#6c68bc 0 47.69px,#dcd6ee 0 52.46px,#dcd6ee 0 57.22px,#dcd6ee 0 61.99px,#b4acda 0 66.76px,#dcd6ee 0 71.53px,#f8ccbe 0 76.3px,#dcd6ee 0 81.07px,#dcd6ee 0 85.84px,#dcd6ee 0 90.61px,#f8ccbe 0 95.38px,#dcd6ee 0 100.14px,#f8ccbe 0 104.91px,#dcd6ee 0 109.68px,#ec5c42 0 114.45px,#dcd6ee 0 119.22px,#dcd6ee 0 123.99px,#f8ccbe 0 128.76px,#f8ccbe 0 133.53px,#dcd6ee 0 138.29px,#dcd6ee 0 143.06px,#dcd6ee 0 147.83px,#f8ccbe 0 152.6px,#f8ccbe 0 157.37px,#f8ccbe 0 162.14px,#dcd6ee 0 166.91px,#dcd6ee 0 171.67px,#da2620 0 176.44px,#f4a48c 0 181.21px,#f4a48c 0 185.98px,#f4a48c 0 190.75px,#dcd6ee 0 195.52px,#dcd6ee 0 200.29px,#f8ccbe 0 205.06px,#f8ccbe 0 209.82px,#f8ccbe 0 214.59px,#dcd6ee 0 219.36px,#f4a48c 0 224.13px,#b4acda 0)"></div><div class="hr" style="top:487.28px;height:3.72px;background:linear-gradient(90deg,#dcd6ee 4.77px,#f8ccbe 0 9.54px,#dcd6ee 0 14.31px,#dcd6ee 0 19.07px,#dcd6ee 0 23.84px,#dcd6ee 0 28.61px,#dcd6ee 0 33.38px,#dcd6ee 0 38.15px,#f8ccbe 0 42.92px,#f4a48c 0 47.69px,#f4a48c 0 52.46px,#f8ccbe 0 57.22px,#f8ccbe 0 61.99px,#f8ccbe 0 66.76px,#f8ccbe 0 71.53px,#f8ccbe 0 76.3px,#f8ccbe 0 81.07px,#f8ccbe 0 85.84px,#ec5c42 0 90.61px,#f4a48c 0 95.38px,#f8ccbe 0 100.14px,#f4a48c 0 104.91px,#f8ccbe 0 109.68px,#ec5c42 0 114.45px,#f8ccbe 0 119.22px,#f8ccbe 0 123.99px,#dcd6ee 0 128.76px,#dcd6ee 0 133.53px,#6c68bc 0 138.29px,#6c68bc 0 143.06px,#6c68bc 0 147.83px,#dcd6ee 0 152.6px,#dcd6ee 0 157.37px,#dcd6ee 0 162.14px,#6c68bc 0 166.91px,#6c68bc 0 171.67px,#b4acda 0 176.44px,#6c68bc 0 181.21px,#dcd6ee 0 185.98px,#dcd6ee 0 190.75px,#b4acda 0 195.52px,#b4acda 0 200.29px,#dcd6ee 0 205.06px,#f8ccbe 0 209.82px,#f8ccbe 0 214.59px,#6c68bc 0 219.36px,#dcd6ee 0 224.13px,#dcd6ee 0)"></div><div class="hr" style="top:490.96px;height:3.72px;background:linear-gradient(90deg,#dcd6ee 4.77px,#dcd6ee 0 9.54px,#dcd6ee 0 14.31px,#dcd6ee 0 19.07px,#dcd6ee 0 23.84px,#f8ccbe 0 28.61px,#dcd6ee 0 33.38px,#dcd6ee 0 38.15px,#f8ccbe 0 42.92px,#ec5c42 0 47.69px,#f4a48c 0 52.46px,#dcd6ee 0 57.22px,#b4acda 0 61.99px,#b4acda 0 66.76px,#dcd6ee 0 71.53px,#f4a48c 0 76.3px,#dcd6ee 0 81.07px,#f8ccbe 0 85.84px,#f4a48c 0 90.61px,#f4a48c 0 95.38px,#f8ccbe 0 100.14px,#dcd6ee 0 104.91px,#dcd6ee 0 109.68px,#f8ccbe 0 114.45px,#f8ccbe 0 119.22px,#f8ccbe 0 123.99px,#b4acda 0 128.76px,#b4acda 0 133.53px,#dcd6ee 0 138.29px,#b4acda 0 143.06px,#dcd6ee 0 147.83px,#dcd6ee 0 152.6px,#dcd6ee 0 157.37px,#dcd6ee 0 162.14px,#dcd6ee 0 166.91px,#dcd6ee 0 171.67px,#b4acda 0 176.44px,#6c68bc 0 181.21px,#dcd6ee 0 185.98px,#dcd6ee 0 190.75px,#6c68bc 0 195.52px,#b4acda 0 200.29px,#b4acda 0 205.06px,#f8ccbe 0 209.82px,#dcd6ee 0 214.59px,#dcd6ee 0 219.36px,#dcd6ee 0 224.13px,#dcd6ee 0)"></div><div class="hr" style="top:494.64px;height:3.72px;background:linear-gradient(90deg,#dcd6ee 4.77px,#dcd6ee 0 9.54px,#b4acda 0 14.31px,#dcd6ee 0 19.07px,#dcd6ee 0 23.84px,#f8ccbe 0 28.61px,#dcd6ee 0 33.38px,#b4acda 0 38.15px,#dcd6ee 0 42.92px,#f4a48c 0 47.69px,#f8ccbe 0 52.46px,#dcd6ee 0 57.22px,#dcd6ee 0 61.99px,#f8ccbe 0 66.76px,#f8ccbe 0 71.53px,#f8ccbe 0 76.3px,#dcd6ee 0 81.07px,#f8ccbe 0 85.84px,#dcd6ee 0 90.61px,#f8ccbe 0 95.38px,#dcd6ee 0 100.14px,#dcd6ee 0 104.91px,#f8ccbe 0 109.68px,#f8ccbe 0 114.45px,#f8ccbe 0 119.22px,#f8ccbe 0 123.99px,#f8ccbe 0 128.76px,#f8ccbe 0 133.53px,#dcd6ee 0 138.29px,#dcd6ee 0 143.06px,#dcd6ee 0 147.83px,#b4acda 0 152.6px,#b4acda 0 157.37px,#dcd6ee 0 162.14px,#b4acda 0 166.91px,#b4acda 0 171.67px,#dcd6ee 0 176.44px,#dcd6ee 0 181.21px,#f4a48c 0 185.98px,#f4a48c 0 190.75px,#dcd6ee 0 195.52px,#dcd6ee 0 200.29px,#f8ccbe 0 205.06px,#dcd6ee 0 209.82px,#dcd6ee 0 214.59px,#3a46a8 0 219.36px,#3a46a8 0 224.13px,#6c68bc 0)"></div><div class="hr" style="top:498.32px;height:3.72px;background:linear-gradient(90deg,#f8ccbe 4.77px,#f8ccbe 0 9.54px,#6c68bc 0 14.31px,#f8ccbe 0 19.07px,#dcd6ee 0 23.84px,#f4a48c 0 28.61px,#f8ccbe 0 33.38px,#f8ccbe 0 38.15px,#dcd6ee 0 42.92px,#f8ccbe 0 47.69px,#dcd6ee 0 52.46px,#dcd6ee 0 57.22px,#f4a48c 0 61.99px,#f8ccbe 0 66.76px,#f8ccbe 0 71.53px,#f8ccbe 0 76.3px,#f4a48c 0 81.07px,#f4a48c 0 85.84px,#dcd6ee 0 90.61px,#f4a48c 0 95.38px,#f8ccbe 0 100.14px,#f4a48c 0 104.91px,#f4a48c 0 109.68px,#f8ccbe 0 114.45px,#b4acda 0 119.22px,#dcd6ee 0 123.99px,#f8ccbe 0 128.76px,#f8ccbe 0 133.53px,#dcd6ee 0 138.29px,#dcd6ee 0 143.06px,#f8ccbe 0 147.83px,#f4a48c 0 152.6px,#f4a48c 0 157.37px,#f8ccbe 0 162.14px,#f8ccbe 0 166.91px,#f8ccbe 0 171.67px,#6c68bc 0 176.44px,#6c68bc 0 181.21px,#f8ccbe 0 185.98px,#f8ccbe 0 190.75px,#b4acda 0 195.52px,#f8ccbe 0 200.29px,#f8ccbe 0 205.06px,#dcd6ee 0 209.82px,#dcd6ee 0 214.59px,#3a46a8 0 219.36px,#6c68bc 0 224.13px,#6c68bc 0)"></div><div class="hr" style="top:501.99px;height:3.72px;background:linear-gradient(90deg,#dcd6ee 4.77px,#dcd6ee 0 9.54px,#dcd6ee 0 14.31px,#b4acda 0 19.07px,#dcd6ee 0 23.84px,#f4a48c 0 28.61px,#f8ccbe 0 33.38px,#f8ccbe 0 38.15px,#dcd6ee 0 42.92px,#dcd6ee 0 47.69px,#b4acda 0 52.46px,#b4acda 0 57.22px,#f8ccbe 0 61.99px,#f4a48c 0 66.76px,#f4a48c 0 71.53px,#dcd6ee 0 76.3px,#dcd6ee 0 81.07px,#dcd6ee 0 85.84px,#dcd6ee 0 90.61px,#f4a48c 0 95.38px,#f8ccbe 0 100.14px,#f8ccbe 0 104.91px,#f8ccbe 0 109.68px,#b4acda 0 114.45px,#dcd6ee 0 119.22px,#dcd6ee 0 123.99px,#f4a48c 0 128.76px,#b4acda 0 133.53px,#f8ccbe 0 138.29px,#f8ccbe 0 143.06px,#f8ccbe 0 147.83px,#f8ccbe 0 152.6px,#f8ccbe 0 157.37px,#f4a48c 0 162.14px,#f8ccbe 0 166.91px,#f8ccbe 0 171.67px,#dcd6ee 0 176.44px,#dcd6ee 0 181.21px,#dcd6ee 0 185.98px,#dcd6ee 0 190.75px,#dcd6ee 0 195.52px,#f8ccbe 0 200.29px,#f8ccbe 0 205.06px,#dcd6ee 0 209.82px,#b4acda 0 214.59px,#6c68bc 0 219.36px,#6c68bc 0 224.13px,#6c68bc 0)"></div><div class="hr" style="top:505.67px;height:3.72px;background:linear-gradient(90deg,#f4a48c 4.77px,#f4a48c 0 9.54px,#dcd6ee 0 14.31px,#dcd6ee 0 19.07px,#f4a48c 0 23.84px,#f4a48c 0 28.61px,#f4a48c 0 33.38px,#f4a48c 0 38.15px,#dcd6ee 0 42.92px,#dcd6ee 0 47.69px,#b4acda 0 52.46px,#dcd6ee 0 57.22px,#f8ccbe 0 61.99px,#f8ccbe 0 66.76px,#dcd6ee 0 71.53px,#f8ccbe 0 76.3px,#dcd6ee 0 81.07px,#f8ccbe 0 85.84px,#dcd6ee 0 90.61px,#f8ccbe 0 95.38px,#dcd6ee 0 100.14px,#dcd6ee 0 104.91px,#f8ccbe 0 109.68px,#dcd6ee 0 114.45px,#f8ccbe 0 119.22px,#f8ccbe 0 123.99px,#f8ccbe 0 128.76px,#f8ccbe 0 133.53px,#f4a48c 0 138.29px,#f4a48c 0 143.06px,#f8ccbe 0 147.83px,#f8ccbe 0 152.6px,#f8ccbe 0 157.37px,#f8ccbe 0 162.14px,#f8ccbe 0 166.91px,#f8ccbe 0 171.67px,#b4acda 0 176.44px,#b4acda 0 181.21px,#b4acda 0 185.98px,#b4acda 0 190.75px,#dcd6ee 0 195.52px,#f8ccbe 0 200.29px,#f8ccbe 0 205.06px,#dcd6ee 0 209.82px,#b4acda 0 214.59px,#6c68bc 0 219.36px,#6c68bc 0 224.13px,#6c68bc 0)"></div><div class="hr" style="top:509.35px;height:3.72px;background:linear-gradient(90deg,#f4a48c 4.77px,#f4a48c 0 9.54px,#dcd6ee 0 14.31px,#b4acda 0 19.07px,#f8ccbe 0 23.84px,#f4a48c 0 28.61px,#f4a48c 0 33.38px,#f4a48c 0 38.15px,#b4acda 0 42.92px,#dcd6ee 0 47.69px,#dcd6ee 0 52.46px,#b4acda 0 57.22px,#f8ccbe 0 61.99px,#f8ccbe 0 66.76px,#dcd6ee 0 71.53px,#f8ccbe 0 76.3px,#f8ccbe 0 81.07px,#f8ccbe 0 85.84px,#6c68bc 0 90.61px,#f8ccbe 0 95.38px,#dcd6ee 0 100.14px,#dcd6ee 0 104.91px,#dcd6ee 0 109.68px,#dcd6ee 0 114.45px,#f8ccbe 0 119.22px,#dcd6ee 0 123.99px,#f8ccbe 0 128.76px,#f8ccbe 0 133.53px,#f4a48c 0 138.29px,#f8ccbe 0 143.06px,#f8ccbe 0 147.83px,#f8ccbe 0 152.6px,#dcd6ee 0 157.37px,#f8ccbe 0 162.14px,#f8ccbe 0 166.91px,#f8ccbe 0 171.67px,#b4acda 0 176.44px,#b4acda 0 181.21px,#b4acda 0 185.98px,#b4acda 0 190.75px,#dcd6ee 0 195.52px,#f8ccbe 0 200.29px,#f4a48c 0 205.06px,#dcd6ee 0 209.82px,#b4acda 0 214.59px,#6c68bc 0 219.36px,#6c68bc 0 224.13px,#6c68bc 0)"></div><div class="hr" style="top:513.03px;height:3.72px;background:linear-gradient(90deg,#f4a48c 4.77px,#f4a48c 0 9.54px,#b4acda 0 14.31px,#dcd6ee 0 19.07px,#dcd6ee 0 23.84px,#f8ccbe 0 28.61px,#f4a48c 0 33.38px,#f8ccbe 0 38.15px,#dcd6ee 0 42.92px,#dcd6ee 0 47.69px,#6c68bc 0 52.46px,#dcd6ee 0 57.22px,#f4a48c 0 61.99px,#f4a48c 0 66.76px,#f4a48c 0 71.53px,#f8ccbe 0 76.3px,#f8ccbe 0 81.07px,#f4a48c 0 85.84px,#b4acda 0 90.61px,#f8ccbe 0 95.38px,#dcd6ee 0 100.14px,#dcd6ee 0 104.91px,#dcd6ee 0 109.68px,#dcd6ee 0 114.45px,#dcd6ee 0 119.22px,#dcd6ee 0 123.99px,#f8ccbe 0 128.76px,#dcd6ee 0 133.53px,#f4a48c 0 138.29px,#f4a48c 0 143.06px,#f8ccbe 0 147.83px,#f8ccbe 0 152.6px,#f8ccbe 0 157.37px,#f8ccbe 0 162.14px,#f8ccbe 0 166.91px,#f8ccbe 0 171.67px,#b4acda 0 176.44px,#dcd6ee 0 181.21px,#dcd6ee 0 185.98px,#b4acda 0 190.75px,#dcd6ee 0 195.52px,#dcd6ee 0 200.29px,#f8ccbe 0 205.06px,#dcd6ee 0 209.82px,#b4acda 0 214.59px,#6c68bc 0 219.36px,#6c68bc 0 224.13px,#6c68bc 0)"></div><div class="hr" style="top:516.71px;height:3.72px;background:linear-gradient(90deg,#f8ccbe 4.77px,#dcd6ee 0 9.54px,#dcd6ee 0 14.31px,#f8ccbe 0 19.07px,#f8ccbe 0 23.84px,#f4a48c 0 28.61px,#f8ccbe 0 33.38px,#f8ccbe 0 38.15px,#f8ccbe 0 42.92px,#dcd6ee 0 47.69px,#dcd6ee 0 52.46px,#6c68bc 0 57.22px,#f8ccbe 0 61.99px,#f8ccbe 0 66.76px,#f8ccbe 0 71.53px,#f8ccbe 0 76.3px,#f8ccbe 0 81.07px,#f8ccbe 0 85.84px,#dcd6ee 0 90.61px,#dcd6ee 0 95.38px,#dcd6ee 0 100.14px,#dcd6ee 0 104.91px,#f8ccbe 0 109.68px,#dcd6ee 0 114.45px,#f8ccbe 0 119.22px,#b4acda 0 123.99px,#f8ccbe 0 128.76px,#f8ccbe 0 133.53px,#f4a48c 0 138.29px,#f8ccbe 0 143.06px,#f8ccbe 0 147.83px,#f8ccbe 0 152.6px,#f8ccbe 0 157.37px,#f8ccbe 0 162.14px,#f8ccbe 0 166.91px,#f8ccbe 0 171.67px,#b4acda 0 176.44px,#b4acda 0 181.21px,#dcd6ee 0 185.98px,#dcd6ee 0 190.75px,#dcd6ee 0 195.52px,#dcd6ee 0 200.29px,#dcd6ee 0 205.06px,#dcd6ee 0 209.82px,#dcd6ee 0 214.59px,#6c68bc 0 219.36px,#6c68bc 0 224.13px,#6c68bc 0)"></div><div class="hr" style="top:520.39px;height:3.72px;background:linear-gradient(90deg,#f4a48c 4.77px,#f8ccbe 0 9.54px,#6c68bc 0 14.31px,#dcd6ee 0 19.07px,#f8ccbe 0 23.84px,#f8ccbe 0 28.61px,#f8ccbe 0 33.38px,#dcd6ee 0 38.15px,#f8ccbe 0 42.92px,#dcd6ee 0 47.69px,#dcd6ee 0 52.46px,#6c68bc 0 57.22px,#f8ccbe 0 61.99px,#f4a48c 0 66.76px,#f8ccbe 0 71.53px,#f8ccbe 0 76.3px,#f8ccbe 0 81.07px,#dcd6ee 0 85.84px,#f8ccbe 0 90.61px,#f8ccbe 0 95.38px,#f8ccbe 0 100.14px,#dcd6ee 0 104.91px,#dcd6ee 0 109.68px,#f8ccbe 0 114.45px,#f8ccbe 0 119.22px,#dcd6ee 0 123.99px,#f8ccbe 0 128.76px,#dcd6ee 0 133.53px,#f4a48c 0 138.29px,#f4a48c 0 143.06px,#f8ccbe 0 147.83px,#f8ccbe 0 152.6px,#f8ccbe 0 157.37px,#f4a48c 0 162.14px,#f4a48c 0 166.91px,#f8ccbe 0 171.67px,#b4acda 0 176.44px,#b4acda 0 181.21px,#6c68bc 0 185.98px,#6c68bc 0 190.75px,#dcd6ee 0 195.52px,#dcd6ee 0 200.29px,#f8ccbe 0 205.06px,#dcd6ee 0 209.82px,#b4acda 0 214.59px,#6c68bc 0 219.36px,#6c68bc 0 224.13px,#6c68bc 0)"></div><div class="hr" style="top:524.07px;height:3.72px;background:linear-gradient(90deg,#f4a48c 4.77px,#dcd6ee 0 9.54px,#dcd6ee 0 14.31px,#b4acda 0 19.07px,#f8ccbe 0 23.84px,#f8ccbe 0 28.61px,#f8ccbe 0 33.38px,#f4a48c 0 38.15px,#f8ccbe 0 42.92px,#dcd6ee 0 47.69px,#dcd6ee 0 52.46px,#dcd6ee 0 57.22px,#f8ccbe 0 61.99px,#f8ccbe 0 66.76px,#f8ccbe 0 71.53px,#dcd6ee 0 76.3px,#f8ccbe 0 81.07px,#dcd6ee 0 85.84px,#6c68bc 0 90.61px,#6c68bc 0 95.38px,#6c68bc 0 100.14px,#dcd6ee 0 104.91px,#dcd6ee 0 109.68px,#f4a48c 0 114.45px,#dcd6ee 0 119.22px,#b4acda 0 123.99px,#f8ccbe 0 128.76px,#dcd6ee 0 133.53px,#f4a48c 0 138.29px,#f4a48c 0 143.06px,#f8ccbe 0 147.83px,#b4acda 0 152.6px,#dcd6ee 0 157.37px,#b4acda 0 162.14px,#dcd6ee 0 166.91px,#dcd6ee 0 171.67px,#dcd6ee 0 176.44px,#f8ccbe 0 181.21px,#dcd6ee 0 185.98px,#dcd6ee 0 190.75px,#f4a48c 0 195.52px,#dcd6ee 0 200.29px,#f8ccbe 0 205.06px,#b4acda 0 209.82px,#6c68bc 0 214.59px,#6c68bc 0 219.36px,#6c68bc 0 224.13px,#b4acda 0)"></div><div class="hr" style="top:527.75px;height:3.72px;background:linear-gradient(90deg,#f4a48c 4.77px,#f8ccbe 0 9.54px,#6c68bc 0 14.31px,#dcd6ee 0 19.07px,#f8ccbe 0 23.84px,#f4a48c 0 28.61px,#f8ccbe 0 33.38px,#f8ccbe 0 38.15px,#b4acda 0 42.92px,#b4acda 0 47.69px,#6c68bc 0 52.46px,#b4acda 0 57.22px,#dcd6ee 0 61.99px,#dcd6ee 0 66.76px,#dcd6ee 0 71.53px,#b4acda 0 76.3px,#f8ccbe 0 81.07px,#dcd6ee 0 85.84px,#dcd6ee 0 90.61px,#6c68bc 0 95.38px,#dcd6ee 0 100.14px,#f8ccbe 0 104.91px,#dcd6ee 0 109.68px,#f8ccbe 0 114.45px,#f4a48c 0 119.22px,#f8ccbe 0 123.99px,#ec5c42 0 128.76px,#dcd6ee 0 133.53px,#f4a48c 0 138.29px,#f8ccbe 0 143.06px,#f8ccbe 0 147.83px,#f8ccbe 0 152.6px,#f8ccbe 0 157.37px,#f8ccbe 0 162.14px,#f8ccbe 0 166.91px,#f8ccbe 0 171.67px,#dcd6ee 0 176.44px,#dcd6ee 0 181.21px,#b4acda 0 185.98px,#6c68bc 0 190.75px,#f8ccbe 0 195.52px,#dcd6ee 0 200.29px,#f8ccbe 0 205.06px,#dcd6ee 0 209.82px,#b4acda 0 214.59px,#b4acda 0 219.36px,#6c68bc 0 224.13px,#b4acda 0)"></div><div class="hr" style="top:531.43px;height:3.72px;background:linear-gradient(90deg,#f4a48c 4.77px,#dcd6ee 0 9.54px,#b4acda 0 14.31px,#6c68bc 0 19.07px,#f8ccbe 0 23.84px,#f8ccbe 0 28.61px,#f8ccbe 0 33.38px,#dcd6ee 0 38.15px,#b4acda 0 42.92px,#b4acda 0 47.69px,#6c68bc 0 52.46px,#6c68bc 0 57.22px,#f8ccbe 0 61.99px,#f8ccbe 0 66.76px,#dcd6ee 0 71.53px,#dcd6ee 0 76.3px,#dcd6ee 0 81.07px,#dcd6ee 0 85.84px,#b4acda 0 90.61px,#6c68bc 0 95.38px,#b4acda 0 100.14px,#dcd6ee 0 104.91px,#b4acda 0 109.68px,#f8ccbe 0 114.45px,#f8ccbe 0 119.22px,#dcd6ee 0 123.99px,#f4a48c 0 128.76px,#b4acda 0 133.53px,#ec5c42 0 138.29px,#f4a48c 0 143.06px,#f4a48c 0 147.83px,#f4a48c 0 152.6px,#f4a48c 0 157.37px,#f8ccbe 0 162.14px,#f4a48c 0 166.91px,#f8ccbe 0 171.67px,#dcd6ee 0 176.44px,#dcd6ee 0 181.21px,#b4acda 0 185.98px,#b4acda 0 190.75px,#f8ccbe 0 195.52px,#dcd6ee 0 200.29px,#dcd6ee 0 205.06px,#dcd6ee 0 209.82px,#b4acda 0 214.59px,#b4acda 0 219.36px,#6c68bc 0 224.13px,#b4acda 0)"></div><div class="hr" style="top:535.11px;height:3.72px;background:linear-gradient(90deg,#f4a48c 4.77px,#dcd6ee 0 9.54px,#dcd6ee 0 14.31px,#dcd6ee 0 19.07px,#f8ccbe 0 23.84px,#dcd6ee 0 28.61px,#dcd6ee 0 33.38px,#f8ccbe 0 38.15px,#b4acda 0 42.92px,#b4acda 0 47.69px,#b4acda 0 52.46px,#6c68bc 0 57.22px,#f8ccbe 0 61.99px,#f8ccbe 0 66.76px,#f8ccbe 0 71.53px,#dcd6ee 0 76.3px,#f8ccbe 0 81.07px,#dcd6ee 0 85.84px,#b4acda 0 90.61px,#6c68bc 0 95.38px,#dcd6ee 0 100.14px,#dcd6ee 0 104.91px,#dcd6ee 0 109.68px,#f8ccbe 0 114.45px,#f8ccbe 0 119.22px,#dcd6ee 0 123.99px,#f8ccbe 0 128.76px,#b4acda 0 133.53px,#f4a48c 0 138.29px,#f8ccbe 0 143.06px,#f8ccbe 0 147.83px,#f8ccbe 0 152.6px,#f4a48c 0 157.37px,#f4a48c 0 162.14px,#f4a48c 0 166.91px,#f8ccbe 0 171.67px,#dcd6ee 0 176.44px,#b4acda 0 181.21px,#b4acda 0 185.98px,#b4acda 0 190.75px,#dcd6ee 0 195.52px,#dcd6ee 0 200.29px,#dcd6ee 0 205.06px,#b4acda 0 209.82px,#b4acda 0 214.59px,#6c68bc 0 219.36px,#6c68bc 0 224.13px,#b4acda 0)"></div><div class="hr" style="top:538.78px;height:3.72px;background:linear-gradient(90deg,#f4a48c 4.77px,#f8ccbe 0 9.54px,#b4acda 0 14.31px,#dcd6ee 0 19.07px,#f8ccbe 0 23.84px,#f4a48c 0 28.61px,#f4a48c 0 33.38px,#f4a48c 0 38.15px,#b4acda 0 42.92px,#b4acda 0 47.69px,#b4acda 0 52.46px,#b4acda 0 57.22px,#f4a48c 0 61.99px,#f8ccbe 0 66.76px,#f8ccbe 0 71.53px,#dcd6ee 0 76.3px,#f8ccbe 0 81.07px,#dcd6ee 0 85.84px,#b4acda 0 90.61px,#6c68bc 0 95.38px,#dcd6ee 0 100.14px,#dcd6ee 0 104.91px,#dcd6ee 0 109.68px,#f8ccbe 0 114.45px,#f8ccbe 0 119.22px,#dcd6ee 0 123.99px,#f8ccbe 0 128.76px,#dcd6ee 0 133.53px,#f4a48c 0 138.29px,#f8ccbe 0 143.06px,#f8ccbe 0 147.83px,#f8ccbe 0 152.6px,#f8ccbe 0 157.37px,#f8ccbe 0 162.14px,#f8ccbe 0 166.91px,#f8ccbe 0 171.67px,#dcd6ee 0 176.44px,#dcd6ee 0 181.21px,#b4acda 0 185.98px,#b4acda 0 190.75px,#f8ccbe 0 195.52px,#dcd6ee 0 200.29px,#dcd6ee 0 205.06px,#dcd6ee 0 209.82px,#dcd6ee 0 214.59px,#b4acda 0 219.36px,#6c68bc 0 224.13px,#b4acda 0)"></div><div class="hr" style="top:542.46px;height:3.72px;background:linear-gradient(90deg,#f8ccbe 4.77px,#dcd6ee 0 9.54px,#dcd6ee 0 14.31px,#dcd6ee 0 19.07px,#f8ccbe 0 23.84px,#f4a48c 0 28.61px,#f4a48c 0 33.38px,#f4a48c 0 38.15px,#b4acda 0 42.92px,#b4acda 0 47.69px,#b4acda 0 52.46px,#b4acda 0 57.22px,#f8ccbe 0 61.99px,#f8ccbe 0 66.76px,#dcd6ee 0 71.53px,#dcd6ee 0 76.3px,#f8ccbe 0 81.07px,#dcd6ee 0 85.84px,#b4acda 0 90.61px,#b4acda 0 95.38px,#dcd6ee 0 100.14px,#dcd6ee 0 104.91px,#dcd6ee 0 109.68px,#dcd6ee 0 114.45px,#dcd6ee 0 119.22px,#dcd6ee 0 123.99px,#f8ccbe 0 128.76px,#dcd6ee 0 133.53px,#f4a48c 0 138.29px,#f8ccbe 0 143.06px,#f8ccbe 0 147.83px,#f8ccbe 0 152.6px,#f8ccbe 0 157.37px,#f8ccbe 0 162.14px,#f8ccbe 0 166.91px,#f8ccbe 0 171.67px,#dcd6ee 0 176.44px,#dcd6ee 0 181.21px,#dcd6ee 0 185.98px,#dcd6ee 0 190.75px,#f8ccbe 0 195.52px,#f8ccbe 0 200.29px,#f8ccbe 0 205.06px,#dcd6ee 0 209.82px,#dcd6ee 0 214.59px,#b4acda 0 219.36px,#6c68bc 0 224.13px,#b4acda 0)"></div><div class="hr" style="top:546.14px;height:3.72px;background:linear-gradient(90deg,#f8ccbe 4.77px,#dcd6ee 0 9.54px,#6c68bc 0 14.31px,#6c68bc 0 19.07px,#dcd6ee 0 23.84px,#dcd6ee 0 28.61px,#dcd6ee 0 33.38px,#dcd6ee 0 38.15px,#b4acda 0 42.92px,#dcd6ee 0 47.69px,#dcd6ee 0 52.46px,#dcd6ee 0 57.22px,#f8ccbe 0 61.99px,#f4a48c 0 66.76px,#dcd6ee 0 71.53px,#b4acda 0 76.3px,#dcd6ee 0 81.07px,#f8ccbe 0 85.84px,#b4acda 0 90.61px,#dcd6ee 0 95.38px,#f8ccbe 0 100.14px,#f4a48c 0 104.91px,#dcd6ee 0 109.68px,#6c68bc 0 114.45px,#f4a48c 0 119.22px,#f4a48c 0 123.99px,#f8ccbe 0 128.76px,#b4acda 0 133.53px,#f4a48c 0 138.29px,#f8ccbe 0 143.06px,#f8ccbe 0 147.83px,#f8ccbe 0 152.6px,#dcd6ee 0 157.37px,#dcd6ee 0 162.14px,#f8ccbe 0 166.91px,#f8ccbe 0 171.67px,#dcd6ee 0 176.44px,#dcd6ee 0 181.21px,#b4acda 0 185.98px,#6c68bc 0 190.75px,#f8ccbe 0 195.52px,#ec5c42 0 200.29px,#f8ccbe 0 205.06px,#dcd6ee 0 209.82px,#dcd6ee 0 214.59px,#b4acda 0 219.36px,#b4acda 0 224.13px,#b4acda 0)"></div><div class="hr" style="top:549.82px;height:3.72px;background:linear-gradient(90deg,#dcd6ee 4.77px,#dcd6ee 0 9.54px,#b4acda 0 14.31px,#b4acda 0 19.07px,#dcd6ee 0 23.84px,#dcd6ee 0 28.61px,#dcd6ee 0 33.38px,#dcd6ee 0 38.15px,#b4acda 0 42.92px,#6c68bc 0 47.69px,#b4acda 0 52.46px,#6c68bc 0 57.22px,#f8ccbe 0 61.99px,#f8ccbe 0 66.76px,#dcd6ee 0 71.53px,#dcd6ee 0 76.3px,#f8ccbe 0 81.07px,#f8ccbe 0 85.84px,#f8ccbe 0 90.61px,#ec5c42 0 95.38px,#ec5c42 0 100.14px,#f8ccbe 0 104.91px,#dcd6ee 0 109.68px,#b4acda 0 114.45px,#f8ccbe 0 119.22px,#dcd6ee 0 123.99px,#dcd6ee 0 128.76px,#b4acda 0 133.53px,#f8ccbe 0 138.29px,#f8ccbe 0 143.06px,#f8ccbe 0 147.83px,#f8ccbe 0 152.6px,#f8ccbe 0 157.37px,#f8ccbe 0 162.14px,#f8ccbe 0 166.91px,#f8ccbe 0 171.67px,#f8ccbe 0 176.44px,#dcd6ee 0 181.21px,#dcd6ee 0 185.98px,#dcd6ee 0 190.75px,#f8ccbe 0 195.52px,#f8ccbe 0 200.29px,#f8ccbe 0 205.06px,#dcd6ee 0 209.82px,#dcd6ee 0 214.59px,#dcd6ee 0 219.36px,#dcd6ee 0 224.13px,#dcd6ee 0)"></div><div class="hr" style="top:555.4px;height:3.83px;background:linear-gradient(90deg,#f4a48c 4.77px,#f4a48c 0 9.54px,#ec5c42 0 14.31px,#dcd6ee 0 19.07px,#f8ccbe 0 23.84px,#f8ccbe 0 28.61px,#ec5c42 0 33.38px,#f8ccbe 0 38.15px,#dcd6ee 0 42.92px,#b4acda 0 47.69px,#b4acda 0 52.46px,#b4acda 0 57.22px,#f8ccbe 0 61.99px,#f8ccbe 0 66.76px,#f8ccbe 0 71.53px,#dcd6ee 0 76.3px,#6c68bc 0 81.07px,#6c68bc 0 85.84px,#dcd6ee 0 90.61px,#dcd6ee 0 95.38px,#dcd6ee 0 100.14px,#b4acda 0 104.91px,#dcd6ee 0 109.68px,#b4acda 0 114.45px,#f4a48c 0 119.22px,#dcd6ee 0 123.99px,#f8ccbe 0 128.76px,#dcd6ee 0 133.53px,#dcd6ee 0 138.29px,#dcd6ee 0 143.06px,#6c68bc 0 147.83px,#b4acda 0 152.6px,#dcd6ee 0 157.37px,#dcd6ee 0 162.14px,#dcd6ee 0 166.91px,#dcd6ee 0 171.67px,#b4acda 0 176.44px,#dcd6ee 0 181.21px,#f8ccbe 0 185.98px,#f8ccbe 0 190.75px,#f4a48c 0 195.52px,#f8ccbe 0 200.29px,#f8ccbe 0 205.06px,#dcd6ee 0 209.82px,#b4acda 0 214.59px,#dcd6ee 0 219.36px,#dcd6ee 0 224.13px,#dcd6ee 0)"></div><div class="hr" style="top:559.19px;height:3.83px;background:linear-gradient(90deg,#f4a48c 4.77px,#dcd6ee 0 9.54px,#dcd6ee 0 14.31px,#b4acda 0 19.07px,#f8ccbe 0 23.84px,#f4a48c 0 28.61px,#f4a48c 0 33.38px,#f4a48c 0 38.15px,#b4acda 0 42.92px,#6c68bc 0 47.69px,#6c68bc 0 52.46px,#6c68bc 0 57.22px,#f8ccbe 0 61.99px,#dcd6ee 0 66.76px,#b4acda 0 71.53px,#dcd6ee 0 76.3px,#f8ccbe 0 81.07px,#dcd6ee 0 85.84px,#dcd6ee 0 90.61px,#6c68bc 0 95.38px,#6c68bc 0 100.14px,#dcd6ee 0 104.91px,#b4acda 0 109.68px,#6c68bc 0 114.45px,#dcd6ee 0 119.22px,#dcd6ee 0 123.99px,#dcd6ee 0 128.76px,#b4acda 0 133.53px,#f8ccbe 0 138.29px,#f8ccbe 0 143.06px,#ec5c42 0 147.83px,#f8ccbe 0 152.6px,#f8ccbe 0 157.37px,#f4a48c 0 162.14px,#f8ccbe 0 166.91px,#f8ccbe 0 171.67px,#f8ccbe 0 176.44px,#f8ccbe 0 181.21px,#dcd6ee 0 185.98px,#dcd6ee 0 190.75px,#f8ccbe 0 195.52px,#dcd6ee 0 200.29px,#dcd6ee 0 205.06px,#f4a48c 0 209.82px,#f8ccbe 0 214.59px,#f4a48c 0 219.36px,#f8ccbe 0 224.13px,#f8ccbe 0)"></div><div class="hr" style="top:562.99px;height:3.83px;background:linear-gradient(90deg,#f4a48c 4.77px,#f8ccbe 0 9.54px,#dcd6ee 0 14.31px,#b4acda 0 19.07px,#f4a48c 0 23.84px,#f4a48c 0 28.61px,#f4a48c 0 33.38px,#f4a48c 0 38.15px,#b4acda 0 42.92px,#6c68bc 0 47.69px,#f8ccbe 0 52.46px,#6c68bc 0 57.22px,#f8ccbe 0 61.99px,#f8ccbe 0 66.76px,#dcd6ee 0 71.53px,#b4acda 0 76.3px,#dcd6ee 0 81.07px,#dcd6ee 0 85.84px,#dcd6ee 0 90.61px,#6c68bc 0 95.38px,#b4acda 0 100.14px,#dcd6ee 0 104.91px,#b4acda 0 109.68px,#b4acda 0 114.45px,#dcd6ee 0 119.22px,#dcd6ee 0 123.99px,#f8ccbe 0 128.76px,#b4acda 0 133.53px,#f4a48c 0 138.29px,#ec5c42 0 143.06px,#f4a48c 0 147.83px,#dcd6ee 0 152.6px,#f4a48c 0 157.37px,#f8ccbe 0 162.14px,#f4a48c 0 166.91px,#f4a48c 0 171.67px,#f4a48c 0 176.44px,#dcd6ee 0 181.21px,#6c68bc 0 185.98px,#6c68bc 0 190.75px,#f8ccbe 0 195.52px,#f8ccbe 0 200.29px,#f8ccbe 0 205.06px,#b4acda 0 209.82px,#b4acda 0 214.59px,#dcd6ee 0 219.36px,#dcd6ee 0 224.13px,#dcd6ee 0)"></div><div class="hr" style="top:566.78px;height:3.83px;background:linear-gradient(90deg,#f4a48c 4.77px,#dcd6ee 0 9.54px,#b4acda 0 14.31px,#6c68bc 0 19.07px,#f4a48c 0 23.84px,#f4a48c 0 28.61px,#f4a48c 0 33.38px,#f4a48c 0 38.15px,#6c68bc 0 42.92px,#6c68bc 0 47.69px,#6c68bc 0 52.46px,#b4acda 0 57.22px,#f4a48c 0 61.99px,#f8ccbe 0 66.76px,#dcd6ee 0 71.53px,#dcd6ee 0 76.3px,#f4a48c 0 81.07px,#f8ccbe 0 85.84px,#b4acda 0 90.61px,#6c68bc 0 95.38px,#6c68bc 0 100.14px,#dcd6ee 0 104.91px,#dcd6ee 0 109.68px,#b4acda 0 114.45px,#f8ccbe 0 119.22px,#b4acda 0 123.99px,#dcd6ee 0 128.76px,#b4acda 0 133.53px,#f4a48c 0 138.29px,#ec5c42 0 143.06px,#f4a48c 0 147.83px,#dcd6ee 0 152.6px,#f8ccbe 0 157.37px,#f4a48c 0 162.14px,#f4a48c 0 166.91px,#f4a48c 0 171.67px,#f8ccbe 0 176.44px,#dcd6ee 0 181.21px,#6c68bc 0 185.98px,#b4acda 0 190.75px,#f4a48c 0 195.52px,#f8ccbe 0 200.29px,#f8ccbe 0 205.06px,#b4acda 0 209.82px,#b4acda 0 214.59px,#dcd6ee 0 219.36px,#6c68bc 0 224.13px,#dcd6ee 0)"></div><div class="hr" style="top:570.57px;height:3.83px;background:linear-gradient(90deg,#f4a48c 4.77px,#dcd6ee 0 9.54px,#b4acda 0 14.31px,#6c68bc 0 19.07px,#f4a48c 0 23.84px,#f4a48c 0 28.61px,#f4a48c 0 33.38px,#f8ccbe 0 38.15px,#6c68bc 0 42.92px,#6c68bc 0 47.69px,#6c68bc 0 52.46px,#b4acda 0 57.22px,#f8ccbe 0 61.99px,#f8ccbe 0 66.76px,#f8ccbe 0 71.53px,#dcd6ee 0 76.3px,#f4a48c 0 81.07px,#dcd6ee 0 85.84px,#b4acda 0 90.61px,#b4acda 0 95.38px,#6c68bc 0 100.14px,#dcd6ee 0 104.91px,#dcd6ee 0 109.68px,#b4acda 0 114.45px,#dcd6ee 0 119.22px,#dcd6ee 0 123.99px,#f8ccbe 0 128.76px,#b4acda 0 133.53px,#f4a48c 0 138.29px,#f4a48c 0 143.06px,#f4a48c 0 147.83px,#dcd6ee 0 152.6px,#f8ccbe 0 157.37px,#f4a48c 0 162.14px,#f4a48c 0 166.91px,#f4a48c 0 171.67px,#f8ccbe 0 176.44px,#dcd6ee 0 181.21px,#6c68bc 0 185.98px,#b4acda 0 190.75px,#f8ccbe 0 195.52px,#f8ccbe 0 200.29px,#f8ccbe 0 205.06px,#dcd6ee 0 209.82px,#dcd6ee 0 214.59px,#b4acda 0 219.36px,#6c68bc 0 224.13px,#dcd6ee 0)"></div><div class="hr" style="top:574.36px;height:3.83px;background:linear-gradient(90deg,#f4a48c 4.77px,#dcd6ee 0 9.54px,#dcd6ee 0 14.31px,#6c68bc 0 19.07px,#f8ccbe 0 23.84px,#f4a48c 0 28.61px,#f4a48c 0 33.38px,#f4a48c 0 38.15px,#b4acda 0 42.92px,#dcd6ee 0 47.69px,#6c68bc 0 52.46px,#6c68bc 0 57.22px,#f8ccbe 0 61.99px,#dcd6ee 0 66.76px,#dcd6ee 0 71.53px,#dcd6ee 0 76.3px,#dcd6ee 0 81.07px,#dcd6ee 0 85.84px,#dcd6ee 0 90.61px,#b4acda 0 95.38px,#b4acda 0 100.14px,#dcd6ee 0 104.91px,#dcd6ee 0 109.68px,#b4acda 0 114.45px,#dcd6ee 0 119.22px,#b4acda 0 123.99px,#dcd6ee 0 128.76px,#6c68bc 0 133.53px,#f4a48c 0 138.29px,#f4a48c 0 143.06px,#f4a48c 0 147.83px,#dcd6ee 0 152.6px,#f8ccbe 0 157.37px,#f4a48c 0 162.14px,#f4a48c 0 166.91px,#f8ccbe 0 171.67px,#f4a48c 0 176.44px,#dcd6ee 0 181.21px,#6c68bc 0 185.98px,#b4acda 0 190.75px,#f8ccbe 0 195.52px,#f8ccbe 0 200.29px,#f8ccbe 0 205.06px,#dcd6ee 0 209.82px,#f8ccbe 0 214.59px,#b4acda 0 219.36px,#6c68bc 0 224.13px,#b4acda 0)"></div><div class="hr" style="top:578.16px;height:3.83px;background:linear-gradient(90deg,#f4a48c 4.77px,#dcd6ee 0 9.54px,#dcd6ee 0 14.31px,#b4acda 0 19.07px,#f8ccbe 0 23.84px,#f4a48c 0 28.61px,#ec5c42 0 33.38px,#ec5c42 0 38.15px,#dcd6ee 0 42.92px,#b4acda 0 47.69px,#6c68bc 0 52.46px,#b4acda 0 57.22px,#f8ccbe 0 61.99px,#f8ccbe 0 66.76px,#f8ccbe 0 71.53px,#f8ccbe 0 76.3px,#f8ccbe 0 81.07px,#f8ccbe 0 85.84px,#b4acda 0 90.61px,#b4acda 0 95.38px,#b4acda 0 100.14px,#dcd6ee 0 104.91px,#dcd6ee 0 109.68px,#dcd6ee 0 114.45px,#f8ccbe 0 119.22px,#dcd6ee 0 123.99px,#f8ccbe 0 128.76px,#dcd6ee 0 133.53px,#f4a48c 0 138.29px,#f4a48c 0 143.06px,#f4a48c 0 147.83px,#dcd6ee 0 152.6px,#f4a48c 0 157.37px,#f4a48c 0 162.14px,#f8ccbe 0 166.91px,#f8ccbe 0 171.67px,#f8ccbe 0 176.44px,#dcd6ee 0 181.21px,#6c68bc 0 185.98px,#6c68bc 0 190.75px,#f8ccbe 0 195.52px,#f8ccbe 0 200.29px,#f8ccbe 0 205.06px,#f8ccbe 0 209.82px,#f8ccbe 0 214.59px,#6c68bc 0 219.36px,#6c68bc 0 224.13px,#6c68bc 0)"></div><div class="hr" style="top:581.95px;height:3.83px;background:linear-gradient(90deg,#f4a48c 4.77px,#dcd6ee 0 9.54px,#dcd6ee 0 14.31px,#6c68bc 0 19.07px,#f4a48c 0 23.84px,#f8ccbe 0 28.61px,#f8ccbe 0 33.38px,#f4a48c 0 38.15px,#dcd6ee 0 42.92px,#dcd6ee 0 47.69px,#b4acda 0 52.46px,#dcd6ee 0 57.22px,#f4a48c 0 61.99px,#f4a48c 0 66.76px,#f4a48c 0 71.53px,#f8ccbe 0 76.3px,#f8ccbe 0 81.07px,#f8ccbe 0 85.84px,#dcd6ee 0 90.61px,#b4acda 0 95.38px,#b4acda 0 100.14px,#dcd6ee 0 104.91px,#dcd6ee 0 109.68px,#dcd6ee 0 114.45px,#dcd6ee 0 119.22px,#dcd6ee 0 123.99px,#dcd6ee 0 128.76px,#b4acda 0 133.53px,#f4a48c 0 138.29px,#f4a48c 0 143.06px,#f4a48c 0 147.83px,#dcd6ee 0 152.6px,#f8ccbe 0 157.37px,#f4a48c 0 162.14px,#f4a48c 0 166.91px,#f8ccbe 0 171.67px,#dcd6ee 0 176.44px,#dcd6ee 0 181.21px,#6c68bc 0 185.98px,#6c68bc 0 190.75px,#f8ccbe 0 195.52px,#f8ccbe 0 200.29px,#f8ccbe 0 205.06px,#dcd6ee 0 209.82px,#b4acda 0 214.59px,#6c68bc 0 219.36px,#3a46a8 0 224.13px,#3a46a8 0)"></div><div class="hr" style="top:585.74px;height:3.83px;background:linear-gradient(90deg,#f8ccbe 4.77px,#f8ccbe 0 9.54px,#b4acda 0 14.31px,#dcd6ee 0 19.07px,#f8ccbe 0 23.84px,#f8ccbe 0 28.61px,#f8ccbe 0 33.38px,#f8ccbe 0 38.15px,#dcd6ee 0 42.92px,#b4acda 0 47.69px,#b4acda 0 52.46px,#dcd6ee 0 57.22px,#f4a48c 0 61.99px,#f4a48c 0 66.76px,#f8ccbe 0 71.53px,#dcd6ee 0 76.3px,#f4a48c 0 81.07px,#f8ccbe 0 85.84px,#6c68bc 0 90.61px,#dcd6ee 0 95.38px,#dcd6ee 0 100.14px,#f8ccbe 0 104.91px,#f8ccbe 0 109.68px,#b4acda 0 114.45px,#dcd6ee 0 119.22px,#b4acda 0 123.99px,#dcd6ee 0 128.76px,#dcd6ee 0 133.53px,#f8ccbe 0 138.29px,#f8ccbe 0 143.06px,#f8ccbe 0 147.83px,#dcd6ee 0 152.6px,#f8ccbe 0 157.37px,#f8ccbe 0 162.14px,#f8ccbe 0 166.91px,#f8ccbe 0 171.67px,#f8ccbe 0 176.44px,#dcd6ee 0 181.21px,#6c68bc 0 185.98px,#b4acda 0 190.75px,#f8ccbe 0 195.52px,#dcd6ee 0 200.29px,#f8ccbe 0 205.06px,#dcd6ee 0 209.82px,#dcd6ee 0 214.59px,#6c68bc 0 219.36px,#6c68bc 0 224.13px,#6c68bc 0)"></div><div class="hr" style="top:589.54px;height:3.83px;background:linear-gradient(90deg,#f4a48c 4.77px,#f4a48c 0 9.54px,#f4a48c 0 14.31px,#dcd6ee 0 19.07px,#f8ccbe 0 23.84px,#f4a48c 0 28.61px,#f4a48c 0 33.38px,#f4a48c 0 38.15px,#6c68bc 0 42.92px,#b4acda 0 47.69px,#6c68bc 0 52.46px,#6c68bc 0 57.22px,#f8ccbe 0 61.99px,#f8ccbe 0 66.76px,#f8ccbe 0 71.53px,#dcd6ee 0 76.3px,#f8ccbe 0 81.07px,#dcd6ee 0 85.84px,#ec5c42 0 90.61px,#b4acda 0 95.38px,#b4acda 0 100.14px,#f8ccbe 0 104.91px,#dcd6ee 0 109.68px,#f8ccbe 0 114.45px,#dcd6ee 0 119.22px,#dcd6ee 0 123.99px,#f8ccbe 0 128.76px,#dcd6ee 0 133.53px,#dcd6ee 0 138.29px,#b4acda 0 143.06px,#b4acda 0 147.83px,#b4acda 0 152.6px,#b4acda 0 157.37px,#dcd6ee 0 162.14px,#f8ccbe 0 166.91px,#f8ccbe 0 171.67px,#f8ccbe 0 176.44px,#dcd6ee 0 181.21px,#dcd6ee 0 185.98px,#dcd6ee 0 190.75px,#dcd6ee 0 195.52px,#dcd6ee 0 200.29px,#dcd6ee 0 205.06px,#b4acda 0 209.82px,#6c68bc 0 214.59px,#6c68bc 0 219.36px,#dcd6ee 0 224.13px,#b4acda 0)"></div><div class="hr" style="top:593.33px;height:3.83px;background:linear-gradient(90deg,#dcd6ee 4.77px,#b4acda 0 9.54px,#b4acda 0 14.31px,#b4acda 0 19.07px,#b4acda 0 23.84px,#b4acda 0 28.61px,#dcd6ee 0 33.38px,#dcd6ee 0 38.15px,#f8ccbe 0 42.92px,#b4acda 0 47.69px,#dcd6ee 0 52.46px,#dcd6ee 0 57.22px,#dcd6ee 0 61.99px,#dcd6ee 0 66.76px,#dcd6ee 0 71.53px,#dcd6ee 0 76.3px,#dcd6ee 0 81.07px,#dcd6ee 0 85.84px,#ec5c42 0 90.61px,#b4acda 0 95.38px,#b4acda 0 100.14px,#b4acda 0 104.91px,#dcd6ee 0 109.68px,#dcd6ee 0 114.45px,#f8ccbe 0 119.22px,#dcd6ee 0 123.99px,#f4a48c 0 128.76px,#dcd6ee 0 133.53px,#f4a48c 0 138.29px,#f4a48c 0 143.06px,#f8ccbe 0 147.83px,#f8ccbe 0 152.6px,#f8ccbe 0 157.37px,#da2620 0 162.14px,#f8ccbe 0 166.91px,#dcd6ee 0 171.67px,#dcd6ee 0 176.44px,#6c68bc 0 181.21px,#6c68bc 0 185.98px,#6c68bc 0 190.75px,#b4acda 0 195.52px,#dcd6ee 0 200.29px,#b4acda 0 205.06px,#dcd6ee 0 209.82px,#f8ccbe 0 214.59px,#f4a48c 0 219.36px,#f4a48c 0 224.13px,#dcd6ee 0)"></div><div class="hr" style="top:597.12px;height:3.83px;background:linear-gradient(90deg,#f8ccbe 4.77px,#b4acda 0 9.54px,#dcd6ee 0 14.31px,#b4acda 0 19.07px,#b4acda 0 23.84px,#b4acda 0 28.61px,#dcd6ee 0 33.38px,#dcd6ee 0 38.15px,#ec5c42 0 42.92px,#b4acda 0 47.69px,#b4acda 0 52.46px,#dcd6ee 0 57.22px,#dcd6ee 0 61.99px,#dcd6ee 0 66.76px,#dcd6ee 0 71.53px,#6c68bc 0 76.3px,#dcd6ee 0 81.07px,#b4acda 0 85.84px,#ec5c42 0 90.61px,#b4acda 0 95.38px,#b4acda 0 100.14px,#b4acda 0 104.91px,#6c68bc 0 109.68px,#dcd6ee 0 114.45px,#dcd6ee 0 119.22px,#b4acda 0 123.99px,#dcd6ee 0 128.76px,#6c68bc 0 133.53px,#dcd6ee 0 138.29px,#dcd6ee 0 143.06px,#dcd6ee 0 147.83px,#f4a48c 0 152.6px,#f4a48c 0 157.37px,#da2620 0 162.14px,#dcd6ee 0 166.91px,#b4acda 0 171.67px,#dcd6ee 0 176.44px,#dcd6ee 0 181.21px,#dcd6ee 0 185.98px,#dcd6ee 0 190.75px,#dcd6ee 0 195.52px,#dcd6ee 0 200.29px,#dcd6ee 0 205.06px,#da2620 0 209.82px,#da2620 0 214.59px,#ec5c42 0 219.36px,#f8ccbe 0 224.13px,#f8ccbe 0)"></div><div class="hr" style="top:600.91px;height:3.83px;background:linear-gradient(90deg,#f8ccbe 4.77px,#b4acda 0 9.54px,#b4acda 0 14.31px,#dcd6ee 0 19.07px,#dcd6ee 0 23.84px,#dcd6ee 0 28.61px,#dcd6ee 0 33.38px,#dcd6ee 0 38.15px,#dcd6ee 0 42.92px,#dcd6ee 0 47.69px,#f8ccbe 0 52.46px,#f4a48c 0 57.22px,#f8ccbe 0 61.99px,#dcd6ee 0 66.76px,#dcd6ee 0 71.53px,#dcd6ee 0 76.3px,#f8ccbe 0 81.07px,#dcd6ee 0 85.84px,#f8ccbe 0 90.61px,#b4acda 0 95.38px,#dcd6ee 0 100.14px,#dcd6ee 0 104.91px,#dcd6ee 0 109.68px,#dcd6ee 0 114.45px,#dcd6ee 0 119.22px,#b4acda 0 123.99px,#dcd6ee 0 128.76px,#3a46a8 0 133.53px,#dcd6ee 0 138.29px,#dcd6ee 0 143.06px,#dcd6ee 0 147.83px,#dcd6ee 0 152.6px,#dcd6ee 0 157.37px,#da2620 0 162.14px,#dcd6ee 0 166.91px,#dcd6ee 0 171.67px,#f8ccbe 0 176.44px,#b4acda 0 181.21px,#6c68bc 0 185.98px,#6c68bc 0 190.75px,#dcd6ee 0 195.52px,#dcd6ee 0 200.29px,#dcd6ee 0 205.06px,#ec5c42 0 209.82px,#ec5c42 0 214.59px,#f4a48c 0 219.36px,#f8ccbe 0 224.13px,#dcd6ee 0)"></div><div class="hr" style="top:604.71px;height:3.83px;background:linear-gradient(90deg,#b4acda 4.77px,#dcd6ee 0 9.54px,#3a46a8 0 14.31px,#dcd6ee 0 19.07px,#f8ccbe 0 23.84px,#dcd6ee 0 28.61px,#f8ccbe 0 33.38px,#dcd6ee 0 38.15px,#f8ccbe 0 42.92px,#dcd6ee 0 47.69px,#f8ccbe 0 52.46px,#dcd6ee 0 57.22px,#b4acda 0 61.99px,#6c68bc 0 66.76px,#dcd6ee 0 71.53px,#dcd6ee 0 76.3px,#f8ccbe 0 81.07px,#f8ccbe 0 85.84px,#dcd6ee 0 90.61px,#dcd6ee 0 95.38px,#f8ccbe 0 100.14px,#dcd6ee 0 104.91px,#dcd6ee 0 109.68px,#b4acda 0 114.45px,#dcd6ee 0 119.22px,#b4acda 0 123.99px,#dcd6ee 0 128.76px,#b4acda 0 133.53px,#dcd6ee 0 138.29px,#dcd6ee 0 143.06px,#dcd6ee 0 147.83px,#dcd6ee 0 152.6px,#dcd6ee 0 157.37px,#f8ccbe 0 162.14px,#dcd6ee 0 166.91px,#dcd6ee 0 171.67px,#dcd6ee 0 176.44px,#dcd6ee 0 181.21px,#dcd6ee 0 185.98px,#dcd6ee 0 190.75px,#dcd6ee 0 195.52px,#dcd6ee 0 200.29px,#dcd6ee 0 205.06px,#f8ccbe 0 209.82px,#f8ccbe 0 214.59px,#f8ccbe 0 219.36px,#dcd6ee 0 224.13px,#f8ccbe 0)"></div></div></body></html>
